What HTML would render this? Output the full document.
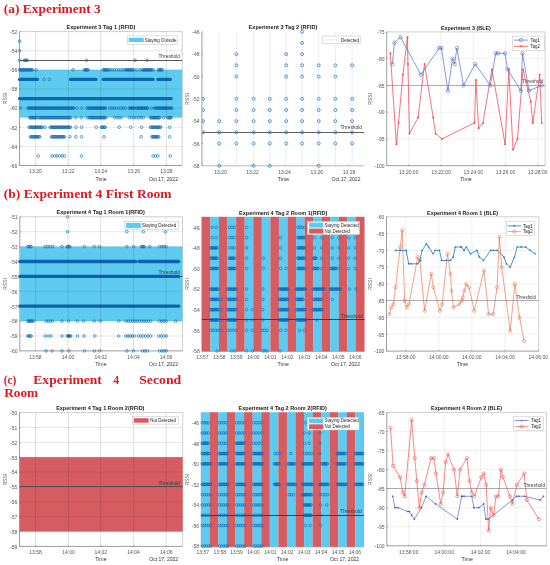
<!DOCTYPE html>
<html><head><meta charset="utf-8"><style>
html,body{margin:0;padding:0;background:#fff;}
svg{display:block;}
</style></head><body>
<svg width="550" height="565" viewBox="0 0 550 565">
<rect x="0" y="0" width="550" height="565" fill="#ffffff"/>
<text x="3.80" y="13.30" font-family="Liberation Serif, serif" font-size="12.6" font-weight="bold" fill="#e2161f" text-anchor="start" textLength="96.90" lengthAdjust="spacingAndGlyphs">(a) Experiment 3</text>
<text x="3.80" y="198.40" font-family="Liberation Serif, serif" font-size="12.6" font-weight="bold" fill="#e2161f" text-anchor="start" textLength="167.80" lengthAdjust="spacingAndGlyphs">(b) Experiment 4 First Room</text>
<text x="3.80" y="383.60" font-family="Liberation Serif, serif" font-size="12.6" font-weight="bold" fill="#e2161f" text-anchor="start" textLength="12.60" lengthAdjust="spacingAndGlyphs">(c)</text>
<text x="33.30" y="383.60" font-family="Liberation Serif, serif" font-size="12.6" font-weight="bold" fill="#e2161f" text-anchor="start" textLength="68.60" lengthAdjust="spacingAndGlyphs">Experiment</text>
<text x="113.30" y="383.60" font-family="Liberation Serif, serif" font-size="12.6" font-weight="bold" fill="#e2161f" text-anchor="start" textLength="5.90" lengthAdjust="spacingAndGlyphs">4</text>
<text x="139.20" y="383.60" font-family="Liberation Serif, serif" font-size="12.6" font-weight="bold" fill="#e2161f" text-anchor="start" textLength="42.10" lengthAdjust="spacingAndGlyphs">Second</text>
<text x="4.20" y="396.70" font-family="Liberation Serif, serif" font-size="12.6" font-weight="bold" fill="#e2161f" text-anchor="start" textLength="34.00" lengthAdjust="spacingAndGlyphs">Room</text>
<line x1="19.50" y1="31.60" x2="182.20" y2="31.60" stroke="#bcbcbc" stroke-width="0.7"/>
<line x1="182.20" y1="31.60" x2="182.20" y2="165.50" stroke="#bcbcbc" stroke-width="0.7"/>
<line x1="19.50" y1="31.60" x2="19.50" y2="165.50" stroke="#858585" stroke-width="0.8"/>
<line x1="19.50" y1="165.50" x2="182.20" y2="165.50" stroke="#858585" stroke-width="0.8"/>
<rect x="19.85" y="69.86" width="162.35" height="47.82" fill="#5dcbf0"/>
<line x1="19.50" y1="60.50" x2="182.20" y2="60.50" stroke="#555555" stroke-width="1.0"/>
<text x="158.40" y="57.90" font-family="Liberation Sans, sans-serif" font-size="5.0" font-weight="normal" fill="#3a3a3a" text-anchor="start" textLength="21.60" lengthAdjust="spacingAndGlyphs">Threshold</text>
<circle cx="19.60" cy="41.16" r="1.35" fill="none" stroke="#0f72bd" stroke-width="0.65"/>
<circle cx="19.60" cy="50.73" r="1.35" fill="none" stroke="#0f72bd" stroke-width="0.65"/>
<circle cx="19.40" cy="60.29" r="1.35" fill="none" stroke="#0f72bd" stroke-width="0.65"/>
<circle cx="24.30" cy="60.29" r="1.35" fill="none" stroke="#0c66b0" stroke-width="0.75"/>
<circle cx="25.65" cy="60.29" r="1.35" fill="none" stroke="#0c66b0" stroke-width="0.75"/>
<circle cx="27.00" cy="60.29" r="1.35" fill="none" stroke="#0c66b0" stroke-width="0.75"/>
<circle cx="86.40" cy="60.29" r="1.35" fill="none" stroke="#0f72bd" stroke-width="0.65"/>
<circle cx="135.10" cy="60.29" r="1.35" fill="none" stroke="#0f72bd" stroke-width="0.65"/>
<circle cx="147.00" cy="60.29" r="1.35" fill="none" stroke="#0f72bd" stroke-width="0.65"/>
<circle cx="19.60" cy="69.86" r="1.35" fill="none" stroke="#0c66b0" stroke-width="0.75"/>
<circle cx="20.75" cy="69.86" r="1.35" fill="none" stroke="#0c66b0" stroke-width="0.75"/>
<circle cx="21.91" cy="69.86" r="1.35" fill="none" stroke="#0c66b0" stroke-width="0.75"/>
<circle cx="23.06" cy="69.86" r="1.35" fill="none" stroke="#0c66b0" stroke-width="0.75"/>
<circle cx="24.22" cy="69.86" r="1.35" fill="none" stroke="#0c66b0" stroke-width="0.75"/>
<circle cx="25.37" cy="69.86" r="1.35" fill="none" stroke="#0c66b0" stroke-width="0.75"/>
<circle cx="26.53" cy="69.86" r="1.35" fill="none" stroke="#0c66b0" stroke-width="0.75"/>
<circle cx="27.68" cy="69.86" r="1.35" fill="none" stroke="#0c66b0" stroke-width="0.75"/>
<circle cx="28.84" cy="69.86" r="1.35" fill="none" stroke="#0c66b0" stroke-width="0.75"/>
<circle cx="29.99" cy="69.86" r="1.35" fill="none" stroke="#0c66b0" stroke-width="0.75"/>
<circle cx="31.15" cy="69.86" r="1.35" fill="none" stroke="#0c66b0" stroke-width="0.75"/>
<circle cx="32.30" cy="69.86" r="1.35" fill="none" stroke="#0c66b0" stroke-width="0.75"/>
<circle cx="36.20" cy="69.86" r="1.35" fill="none" stroke="#0f72bd" stroke-width="0.65"/>
<circle cx="73.00" cy="69.86" r="1.35" fill="none" stroke="#0f72bd" stroke-width="0.65"/>
<circle cx="84.50" cy="69.86" r="1.35" fill="none" stroke="#0c66b0" stroke-width="0.75"/>
<circle cx="85.67" cy="69.86" r="1.35" fill="none" stroke="#0c66b0" stroke-width="0.75"/>
<circle cx="86.83" cy="69.86" r="1.35" fill="none" stroke="#0c66b0" stroke-width="0.75"/>
<circle cx="88.00" cy="69.86" r="1.35" fill="none" stroke="#0c66b0" stroke-width="0.75"/>
<circle cx="103.20" cy="69.86" r="1.35" fill="none" stroke="#0c66b0" stroke-width="0.75"/>
<circle cx="104.42" cy="69.86" r="1.35" fill="none" stroke="#0c66b0" stroke-width="0.75"/>
<circle cx="105.65" cy="69.86" r="1.35" fill="none" stroke="#0c66b0" stroke-width="0.75"/>
<circle cx="106.88" cy="69.86" r="1.35" fill="none" stroke="#0c66b0" stroke-width="0.75"/>
<circle cx="108.10" cy="69.86" r="1.35" fill="none" stroke="#0c66b0" stroke-width="0.75"/>
<circle cx="110.00" cy="69.86" r="1.35" fill="none" stroke="#0f72bd" stroke-width="0.65"/>
<circle cx="112.17" cy="69.86" r="1.35" fill="none" stroke="#0f72bd" stroke-width="0.65"/>
<circle cx="114.33" cy="69.86" r="1.35" fill="none" stroke="#0f72bd" stroke-width="0.65"/>
<circle cx="116.50" cy="69.86" r="1.35" fill="none" stroke="#0f72bd" stroke-width="0.65"/>
<circle cx="118.67" cy="69.86" r="1.35" fill="none" stroke="#0f72bd" stroke-width="0.65"/>
<circle cx="120.83" cy="69.86" r="1.35" fill="none" stroke="#0f72bd" stroke-width="0.65"/>
<circle cx="123.00" cy="69.86" r="1.35" fill="none" stroke="#0f72bd" stroke-width="0.65"/>
<circle cx="125.30" cy="69.86" r="1.35" fill="none" stroke="#0c66b0" stroke-width="0.75"/>
<circle cx="126.52" cy="69.86" r="1.35" fill="none" stroke="#0c66b0" stroke-width="0.75"/>
<circle cx="127.73" cy="69.86" r="1.35" fill="none" stroke="#0c66b0" stroke-width="0.75"/>
<circle cx="128.95" cy="69.86" r="1.35" fill="none" stroke="#0c66b0" stroke-width="0.75"/>
<circle cx="130.17" cy="69.86" r="1.35" fill="none" stroke="#0c66b0" stroke-width="0.75"/>
<circle cx="131.38" cy="69.86" r="1.35" fill="none" stroke="#0c66b0" stroke-width="0.75"/>
<circle cx="132.60" cy="69.86" r="1.35" fill="none" stroke="#0c66b0" stroke-width="0.75"/>
<circle cx="134.30" cy="69.86" r="1.35" fill="none" stroke="#0f72bd" stroke-width="0.65"/>
<circle cx="137.15" cy="69.86" r="1.35" fill="none" stroke="#0f72bd" stroke-width="0.65"/>
<circle cx="140.00" cy="69.86" r="1.35" fill="none" stroke="#0f72bd" stroke-width="0.65"/>
<circle cx="142.50" cy="69.86" r="1.35" fill="none" stroke="#0c66b0" stroke-width="0.75"/>
<circle cx="143.62" cy="69.86" r="1.35" fill="none" stroke="#0c66b0" stroke-width="0.75"/>
<circle cx="144.75" cy="69.86" r="1.35" fill="none" stroke="#0c66b0" stroke-width="0.75"/>
<circle cx="145.88" cy="69.86" r="1.35" fill="none" stroke="#0c66b0" stroke-width="0.75"/>
<circle cx="147.00" cy="69.86" r="1.35" fill="none" stroke="#0c66b0" stroke-width="0.75"/>
<circle cx="148.12" cy="69.86" r="1.35" fill="none" stroke="#0c66b0" stroke-width="0.75"/>
<circle cx="149.25" cy="69.86" r="1.35" fill="none" stroke="#0c66b0" stroke-width="0.75"/>
<circle cx="150.38" cy="69.86" r="1.35" fill="none" stroke="#0c66b0" stroke-width="0.75"/>
<circle cx="151.50" cy="69.86" r="1.35" fill="none" stroke="#0c66b0" stroke-width="0.75"/>
<circle cx="153.10" cy="69.86" r="1.35" fill="none" stroke="#0f72bd" stroke-width="0.65"/>
<circle cx="158.50" cy="69.86" r="1.35" fill="none" stroke="#0c66b0" stroke-width="0.75"/>
<circle cx="159.70" cy="69.86" r="1.35" fill="none" stroke="#0c66b0" stroke-width="0.75"/>
<circle cx="160.90" cy="69.86" r="1.35" fill="none" stroke="#0c66b0" stroke-width="0.75"/>
<circle cx="162.10" cy="69.86" r="1.35" fill="none" stroke="#0c66b0" stroke-width="0.75"/>
<rect x="17.93" y="77.75" width="21.15" height="3.35" rx="1.68" fill="#0c66b0"/>
<circle cx="44.00" cy="79.42" r="1.35" fill="none" stroke="#0f72bd" stroke-width="0.65"/>
<circle cx="49.30" cy="79.42" r="1.35" fill="none" stroke="#0f72bd" stroke-width="0.65"/>
<rect x="68.92" y="77.75" width="28.75" height="3.35" rx="1.68" fill="#0c66b0"/>
<rect x="101.53" y="77.75" width="53.25" height="3.35" rx="1.68" fill="#0c66b0"/>
<rect x="156.33" y="77.75" width="15.65" height="3.35" rx="1.68" fill="#0c66b0"/>
<rect x="17.93" y="96.88" width="154.85" height="3.35" rx="1.68" fill="#0c66b0"/>
<circle cx="20.40" cy="108.11" r="1.35" fill="none" stroke="#0f72bd" stroke-width="0.65"/>
<circle cx="28.10" cy="108.11" r="1.35" fill="none" stroke="#0c66b0" stroke-width="0.75"/>
<circle cx="29.30" cy="108.11" r="1.35" fill="none" stroke="#0c66b0" stroke-width="0.75"/>
<circle cx="30.50" cy="108.11" r="1.35" fill="none" stroke="#0c66b0" stroke-width="0.75"/>
<circle cx="31.70" cy="108.11" r="1.35" fill="none" stroke="#0c66b0" stroke-width="0.75"/>
<circle cx="32.90" cy="108.11" r="1.35" fill="none" stroke="#0c66b0" stroke-width="0.75"/>
<circle cx="34.10" cy="108.11" r="1.35" fill="none" stroke="#0c66b0" stroke-width="0.75"/>
<circle cx="35.30" cy="108.11" r="1.35" fill="none" stroke="#0c66b0" stroke-width="0.75"/>
<circle cx="36.50" cy="108.11" r="1.35" fill="none" stroke="#0c66b0" stroke-width="0.75"/>
<circle cx="37.70" cy="108.11" r="1.35" fill="none" stroke="#0c66b0" stroke-width="0.75"/>
<circle cx="38.90" cy="108.11" r="1.35" fill="none" stroke="#0c66b0" stroke-width="0.75"/>
<circle cx="40.10" cy="108.11" r="1.35" fill="none" stroke="#0c66b0" stroke-width="0.75"/>
<circle cx="41.30" cy="108.11" r="1.35" fill="none" stroke="#0c66b0" stroke-width="0.75"/>
<circle cx="42.50" cy="108.11" r="1.35" fill="none" stroke="#0c66b0" stroke-width="0.75"/>
<circle cx="43.70" cy="108.11" r="1.35" fill="none" stroke="#0c66b0" stroke-width="0.75"/>
<circle cx="44.90" cy="108.11" r="1.35" fill="none" stroke="#0c66b0" stroke-width="0.75"/>
<circle cx="46.10" cy="108.11" r="1.35" fill="none" stroke="#0c66b0" stroke-width="0.75"/>
<circle cx="47.30" cy="108.11" r="1.35" fill="none" stroke="#0c66b0" stroke-width="0.75"/>
<circle cx="48.50" cy="108.11" r="1.35" fill="none" stroke="#0c66b0" stroke-width="0.75"/>
<circle cx="49.70" cy="108.11" r="1.35" fill="none" stroke="#0c66b0" stroke-width="0.75"/>
<circle cx="50.90" cy="108.11" r="1.35" fill="none" stroke="#0c66b0" stroke-width="0.75"/>
<circle cx="52.10" cy="108.11" r="1.35" fill="none" stroke="#0c66b0" stroke-width="0.75"/>
<circle cx="53.30" cy="108.11" r="1.35" fill="none" stroke="#0c66b0" stroke-width="0.75"/>
<circle cx="54.50" cy="108.11" r="1.35" fill="none" stroke="#0c66b0" stroke-width="0.75"/>
<circle cx="55.70" cy="108.11" r="1.35" fill="none" stroke="#0c66b0" stroke-width="0.75"/>
<circle cx="56.90" cy="108.11" r="1.35" fill="none" stroke="#0c66b0" stroke-width="0.75"/>
<circle cx="58.10" cy="108.11" r="1.35" fill="none" stroke="#0c66b0" stroke-width="0.75"/>
<circle cx="59.30" cy="108.11" r="1.35" fill="none" stroke="#0c66b0" stroke-width="0.75"/>
<circle cx="60.50" cy="108.11" r="1.35" fill="none" stroke="#0c66b0" stroke-width="0.75"/>
<circle cx="61.70" cy="108.11" r="1.35" fill="none" stroke="#0c66b0" stroke-width="0.75"/>
<circle cx="62.90" cy="108.11" r="1.35" fill="none" stroke="#0c66b0" stroke-width="0.75"/>
<circle cx="64.10" cy="108.11" r="1.35" fill="none" stroke="#0c66b0" stroke-width="0.75"/>
<circle cx="65.30" cy="108.11" r="1.35" fill="none" stroke="#0c66b0" stroke-width="0.75"/>
<circle cx="66.50" cy="108.11" r="1.35" fill="none" stroke="#0c66b0" stroke-width="0.75"/>
<circle cx="67.70" cy="108.11" r="1.35" fill="none" stroke="#0c66b0" stroke-width="0.75"/>
<circle cx="68.90" cy="108.11" r="1.35" fill="none" stroke="#0c66b0" stroke-width="0.75"/>
<circle cx="70.10" cy="108.11" r="1.35" fill="none" stroke="#0c66b0" stroke-width="0.75"/>
<circle cx="71.30" cy="108.11" r="1.35" fill="none" stroke="#0c66b0" stroke-width="0.75"/>
<circle cx="72.50" cy="108.11" r="1.35" fill="none" stroke="#0c66b0" stroke-width="0.75"/>
<circle cx="73.70" cy="108.11" r="1.35" fill="none" stroke="#0c66b0" stroke-width="0.75"/>
<circle cx="76.80" cy="108.11" r="1.35" fill="none" stroke="#0f72bd" stroke-width="0.65"/>
<circle cx="81.50" cy="108.11" r="1.35" fill="none" stroke="#0f72bd" stroke-width="0.65"/>
<circle cx="86.90" cy="108.11" r="1.35" fill="none" stroke="#0f72bd" stroke-width="0.65"/>
<circle cx="88.40" cy="108.11" r="1.35" fill="none" stroke="#0c66b0" stroke-width="0.75"/>
<circle cx="89.63" cy="108.11" r="1.35" fill="none" stroke="#0c66b0" stroke-width="0.75"/>
<circle cx="90.86" cy="108.11" r="1.35" fill="none" stroke="#0c66b0" stroke-width="0.75"/>
<circle cx="92.09" cy="108.11" r="1.35" fill="none" stroke="#0c66b0" stroke-width="0.75"/>
<circle cx="93.31" cy="108.11" r="1.35" fill="none" stroke="#0c66b0" stroke-width="0.75"/>
<circle cx="94.54" cy="108.11" r="1.35" fill="none" stroke="#0c66b0" stroke-width="0.75"/>
<circle cx="95.77" cy="108.11" r="1.35" fill="none" stroke="#0c66b0" stroke-width="0.75"/>
<circle cx="97.00" cy="108.11" r="1.35" fill="none" stroke="#0c66b0" stroke-width="0.75"/>
<circle cx="98.23" cy="108.11" r="1.35" fill="none" stroke="#0c66b0" stroke-width="0.75"/>
<circle cx="99.46" cy="108.11" r="1.35" fill="none" stroke="#0c66b0" stroke-width="0.75"/>
<circle cx="100.69" cy="108.11" r="1.35" fill="none" stroke="#0c66b0" stroke-width="0.75"/>
<circle cx="101.91" cy="108.11" r="1.35" fill="none" stroke="#0c66b0" stroke-width="0.75"/>
<circle cx="103.14" cy="108.11" r="1.35" fill="none" stroke="#0c66b0" stroke-width="0.75"/>
<circle cx="104.37" cy="108.11" r="1.35" fill="none" stroke="#0c66b0" stroke-width="0.75"/>
<circle cx="105.60" cy="108.11" r="1.35" fill="none" stroke="#0c66b0" stroke-width="0.75"/>
<circle cx="109.70" cy="108.11" r="1.35" fill="none" stroke="#0f72bd" stroke-width="0.65"/>
<circle cx="111.93" cy="108.11" r="1.35" fill="none" stroke="#0f72bd" stroke-width="0.65"/>
<circle cx="114.16" cy="108.11" r="1.35" fill="none" stroke="#0f72bd" stroke-width="0.65"/>
<circle cx="116.39" cy="108.11" r="1.35" fill="none" stroke="#0f72bd" stroke-width="0.65"/>
<circle cx="118.61" cy="108.11" r="1.35" fill="none" stroke="#0f72bd" stroke-width="0.65"/>
<circle cx="120.84" cy="108.11" r="1.35" fill="none" stroke="#0f72bd" stroke-width="0.65"/>
<circle cx="123.07" cy="108.11" r="1.35" fill="none" stroke="#0f72bd" stroke-width="0.65"/>
<circle cx="125.30" cy="108.11" r="1.35" fill="none" stroke="#0f72bd" stroke-width="0.65"/>
<circle cx="129.40" cy="108.11" r="1.35" fill="none" stroke="#0c66b0" stroke-width="0.75"/>
<circle cx="130.62" cy="108.11" r="1.35" fill="none" stroke="#0c66b0" stroke-width="0.75"/>
<circle cx="131.85" cy="108.11" r="1.35" fill="none" stroke="#0c66b0" stroke-width="0.75"/>
<circle cx="133.08" cy="108.11" r="1.35" fill="none" stroke="#0c66b0" stroke-width="0.75"/>
<circle cx="134.30" cy="108.11" r="1.35" fill="none" stroke="#0c66b0" stroke-width="0.75"/>
<circle cx="136.70" cy="108.11" r="1.35" fill="none" stroke="#0c66b0" stroke-width="0.75"/>
<circle cx="137.89" cy="108.11" r="1.35" fill="none" stroke="#0c66b0" stroke-width="0.75"/>
<circle cx="139.08" cy="108.11" r="1.35" fill="none" stroke="#0c66b0" stroke-width="0.75"/>
<circle cx="140.27" cy="108.11" r="1.35" fill="none" stroke="#0c66b0" stroke-width="0.75"/>
<circle cx="141.46" cy="108.11" r="1.35" fill="none" stroke="#0c66b0" stroke-width="0.75"/>
<circle cx="142.64" cy="108.11" r="1.35" fill="none" stroke="#0c66b0" stroke-width="0.75"/>
<circle cx="143.83" cy="108.11" r="1.35" fill="none" stroke="#0c66b0" stroke-width="0.75"/>
<circle cx="145.02" cy="108.11" r="1.35" fill="none" stroke="#0c66b0" stroke-width="0.75"/>
<circle cx="146.21" cy="108.11" r="1.35" fill="none" stroke="#0c66b0" stroke-width="0.75"/>
<circle cx="147.40" cy="108.11" r="1.35" fill="none" stroke="#0c66b0" stroke-width="0.75"/>
<circle cx="151.50" cy="108.11" r="1.35" fill="none" stroke="#0f72bd" stroke-width="0.65"/>
<circle cx="154.70" cy="108.11" r="1.35" fill="none" stroke="#0c66b0" stroke-width="0.75"/>
<circle cx="155.93" cy="108.11" r="1.35" fill="none" stroke="#0c66b0" stroke-width="0.75"/>
<circle cx="157.16" cy="108.11" r="1.35" fill="none" stroke="#0c66b0" stroke-width="0.75"/>
<circle cx="158.39" cy="108.11" r="1.35" fill="none" stroke="#0c66b0" stroke-width="0.75"/>
<circle cx="159.61" cy="108.11" r="1.35" fill="none" stroke="#0c66b0" stroke-width="0.75"/>
<circle cx="160.84" cy="108.11" r="1.35" fill="none" stroke="#0c66b0" stroke-width="0.75"/>
<circle cx="162.07" cy="108.11" r="1.35" fill="none" stroke="#0c66b0" stroke-width="0.75"/>
<circle cx="163.30" cy="108.11" r="1.35" fill="none" stroke="#0c66b0" stroke-width="0.75"/>
<circle cx="164.53" cy="108.11" r="1.35" fill="none" stroke="#0c66b0" stroke-width="0.75"/>
<circle cx="165.76" cy="108.11" r="1.35" fill="none" stroke="#0c66b0" stroke-width="0.75"/>
<circle cx="166.99" cy="108.11" r="1.35" fill="none" stroke="#0c66b0" stroke-width="0.75"/>
<circle cx="168.21" cy="108.11" r="1.35" fill="none" stroke="#0c66b0" stroke-width="0.75"/>
<circle cx="169.44" cy="108.11" r="1.35" fill="none" stroke="#0c66b0" stroke-width="0.75"/>
<circle cx="170.67" cy="108.11" r="1.35" fill="none" stroke="#0c66b0" stroke-width="0.75"/>
<circle cx="171.90" cy="108.11" r="1.35" fill="none" stroke="#0c66b0" stroke-width="0.75"/>
<circle cx="29.70" cy="117.68" r="1.35" fill="none" stroke="#0c66b0" stroke-width="0.75"/>
<circle cx="30.85" cy="117.68" r="1.35" fill="none" stroke="#0c66b0" stroke-width="0.75"/>
<circle cx="32.00" cy="117.68" r="1.35" fill="none" stroke="#0c66b0" stroke-width="0.75"/>
<circle cx="33.15" cy="117.68" r="1.35" fill="none" stroke="#0c66b0" stroke-width="0.75"/>
<circle cx="34.30" cy="117.68" r="1.35" fill="none" stroke="#0c66b0" stroke-width="0.75"/>
<circle cx="35.45" cy="117.68" r="1.35" fill="none" stroke="#0c66b0" stroke-width="0.75"/>
<circle cx="36.60" cy="117.68" r="1.35" fill="none" stroke="#0c66b0" stroke-width="0.75"/>
<circle cx="39.00" cy="117.68" r="1.35" fill="none" stroke="#0c66b0" stroke-width="0.75"/>
<circle cx="40.22" cy="117.68" r="1.35" fill="none" stroke="#0c66b0" stroke-width="0.75"/>
<circle cx="41.43" cy="117.68" r="1.35" fill="none" stroke="#0c66b0" stroke-width="0.75"/>
<circle cx="42.65" cy="117.68" r="1.35" fill="none" stroke="#0c66b0" stroke-width="0.75"/>
<circle cx="43.86" cy="117.68" r="1.35" fill="none" stroke="#0c66b0" stroke-width="0.75"/>
<circle cx="45.08" cy="117.68" r="1.35" fill="none" stroke="#0c66b0" stroke-width="0.75"/>
<circle cx="46.29" cy="117.68" r="1.35" fill="none" stroke="#0c66b0" stroke-width="0.75"/>
<circle cx="47.51" cy="117.68" r="1.35" fill="none" stroke="#0c66b0" stroke-width="0.75"/>
<circle cx="48.72" cy="117.68" r="1.35" fill="none" stroke="#0c66b0" stroke-width="0.75"/>
<circle cx="49.94" cy="117.68" r="1.35" fill="none" stroke="#0c66b0" stroke-width="0.75"/>
<circle cx="51.15" cy="117.68" r="1.35" fill="none" stroke="#0c66b0" stroke-width="0.75"/>
<circle cx="52.37" cy="117.68" r="1.35" fill="none" stroke="#0c66b0" stroke-width="0.75"/>
<circle cx="53.58" cy="117.68" r="1.35" fill="none" stroke="#0c66b0" stroke-width="0.75"/>
<circle cx="54.80" cy="117.68" r="1.35" fill="none" stroke="#0c66b0" stroke-width="0.75"/>
<circle cx="56.02" cy="117.68" r="1.35" fill="none" stroke="#0c66b0" stroke-width="0.75"/>
<circle cx="57.23" cy="117.68" r="1.35" fill="none" stroke="#0c66b0" stroke-width="0.75"/>
<circle cx="58.45" cy="117.68" r="1.35" fill="none" stroke="#0c66b0" stroke-width="0.75"/>
<circle cx="59.66" cy="117.68" r="1.35" fill="none" stroke="#0c66b0" stroke-width="0.75"/>
<circle cx="60.88" cy="117.68" r="1.35" fill="none" stroke="#0c66b0" stroke-width="0.75"/>
<circle cx="62.09" cy="117.68" r="1.35" fill="none" stroke="#0c66b0" stroke-width="0.75"/>
<circle cx="63.31" cy="117.68" r="1.35" fill="none" stroke="#0c66b0" stroke-width="0.75"/>
<circle cx="64.52" cy="117.68" r="1.35" fill="none" stroke="#0c66b0" stroke-width="0.75"/>
<circle cx="65.74" cy="117.68" r="1.35" fill="none" stroke="#0c66b0" stroke-width="0.75"/>
<circle cx="66.95" cy="117.68" r="1.35" fill="none" stroke="#0c66b0" stroke-width="0.75"/>
<circle cx="68.17" cy="117.68" r="1.35" fill="none" stroke="#0c66b0" stroke-width="0.75"/>
<circle cx="69.38" cy="117.68" r="1.35" fill="none" stroke="#0c66b0" stroke-width="0.75"/>
<circle cx="70.60" cy="117.68" r="1.35" fill="none" stroke="#0c66b0" stroke-width="0.75"/>
<circle cx="75.70" cy="117.68" r="1.35" fill="none" stroke="#0f72bd" stroke-width="0.65"/>
<circle cx="81.20" cy="117.68" r="1.35" fill="none" stroke="#0f72bd" stroke-width="0.65"/>
<circle cx="87.30" cy="117.68" r="1.35" fill="none" stroke="#0f72bd" stroke-width="0.65"/>
<circle cx="89.20" cy="117.68" r="1.35" fill="none" stroke="#0c66b0" stroke-width="0.75"/>
<circle cx="90.37" cy="117.68" r="1.35" fill="none" stroke="#0c66b0" stroke-width="0.75"/>
<circle cx="91.54" cy="117.68" r="1.35" fill="none" stroke="#0c66b0" stroke-width="0.75"/>
<circle cx="92.71" cy="117.68" r="1.35" fill="none" stroke="#0c66b0" stroke-width="0.75"/>
<circle cx="93.89" cy="117.68" r="1.35" fill="none" stroke="#0c66b0" stroke-width="0.75"/>
<circle cx="95.06" cy="117.68" r="1.35" fill="none" stroke="#0c66b0" stroke-width="0.75"/>
<circle cx="96.23" cy="117.68" r="1.35" fill="none" stroke="#0c66b0" stroke-width="0.75"/>
<circle cx="97.40" cy="117.68" r="1.35" fill="none" stroke="#0c66b0" stroke-width="0.75"/>
<circle cx="98.57" cy="117.68" r="1.35" fill="none" stroke="#0c66b0" stroke-width="0.75"/>
<circle cx="99.74" cy="117.68" r="1.35" fill="none" stroke="#0c66b0" stroke-width="0.75"/>
<circle cx="100.91" cy="117.68" r="1.35" fill="none" stroke="#0c66b0" stroke-width="0.75"/>
<circle cx="102.09" cy="117.68" r="1.35" fill="none" stroke="#0c66b0" stroke-width="0.75"/>
<circle cx="103.26" cy="117.68" r="1.35" fill="none" stroke="#0c66b0" stroke-width="0.75"/>
<circle cx="104.43" cy="117.68" r="1.35" fill="none" stroke="#0c66b0" stroke-width="0.75"/>
<circle cx="105.60" cy="117.68" r="1.35" fill="none" stroke="#0c66b0" stroke-width="0.75"/>
<circle cx="114.60" cy="117.68" r="1.35" fill="none" stroke="#0f72bd" stroke-width="0.65"/>
<circle cx="116.80" cy="117.68" r="1.35" fill="none" stroke="#0f72bd" stroke-width="0.65"/>
<circle cx="119.00" cy="117.68" r="1.35" fill="none" stroke="#0f72bd" stroke-width="0.65"/>
<circle cx="121.20" cy="117.68" r="1.35" fill="none" stroke="#0f72bd" stroke-width="0.65"/>
<circle cx="129.40" cy="117.68" r="1.35" fill="none" stroke="#0f72bd" stroke-width="0.65"/>
<circle cx="131.72" cy="117.68" r="1.35" fill="none" stroke="#0f72bd" stroke-width="0.65"/>
<circle cx="134.03" cy="117.68" r="1.35" fill="none" stroke="#0f72bd" stroke-width="0.65"/>
<circle cx="136.35" cy="117.68" r="1.35" fill="none" stroke="#0f72bd" stroke-width="0.65"/>
<circle cx="138.67" cy="117.68" r="1.35" fill="none" stroke="#0f72bd" stroke-width="0.65"/>
<circle cx="140.98" cy="117.68" r="1.35" fill="none" stroke="#0f72bd" stroke-width="0.65"/>
<circle cx="143.30" cy="117.68" r="1.35" fill="none" stroke="#0f72bd" stroke-width="0.65"/>
<circle cx="150.60" cy="117.68" r="1.35" fill="none" stroke="#0c66b0" stroke-width="0.75"/>
<circle cx="151.72" cy="117.68" r="1.35" fill="none" stroke="#0c66b0" stroke-width="0.75"/>
<circle cx="152.85" cy="117.68" r="1.35" fill="none" stroke="#0c66b0" stroke-width="0.75"/>
<circle cx="153.97" cy="117.68" r="1.35" fill="none" stroke="#0c66b0" stroke-width="0.75"/>
<circle cx="155.10" cy="117.68" r="1.35" fill="none" stroke="#0c66b0" stroke-width="0.75"/>
<circle cx="156.22" cy="117.68" r="1.35" fill="none" stroke="#0c66b0" stroke-width="0.75"/>
<circle cx="157.35" cy="117.68" r="1.35" fill="none" stroke="#0c66b0" stroke-width="0.75"/>
<circle cx="158.47" cy="117.68" r="1.35" fill="none" stroke="#0c66b0" stroke-width="0.75"/>
<circle cx="159.60" cy="117.68" r="1.35" fill="none" stroke="#0c66b0" stroke-width="0.75"/>
<circle cx="163.70" cy="117.68" r="1.35" fill="none" stroke="#0f72bd" stroke-width="0.65"/>
<circle cx="167.80" cy="117.68" r="1.35" fill="none" stroke="#0c66b0" stroke-width="0.75"/>
<circle cx="168.90" cy="117.68" r="1.35" fill="none" stroke="#0c66b0" stroke-width="0.75"/>
<circle cx="170.00" cy="117.68" r="1.35" fill="none" stroke="#0c66b0" stroke-width="0.75"/>
<circle cx="171.10" cy="117.68" r="1.35" fill="none" stroke="#0c66b0" stroke-width="0.75"/>
<circle cx="29.30" cy="127.24" r="1.35" fill="none" stroke="#0c66b0" stroke-width="0.75"/>
<circle cx="30.48" cy="127.24" r="1.35" fill="none" stroke="#0c66b0" stroke-width="0.75"/>
<circle cx="31.66" cy="127.24" r="1.35" fill="none" stroke="#0c66b0" stroke-width="0.75"/>
<circle cx="32.85" cy="127.24" r="1.35" fill="none" stroke="#0c66b0" stroke-width="0.75"/>
<circle cx="34.03" cy="127.24" r="1.35" fill="none" stroke="#0c66b0" stroke-width="0.75"/>
<circle cx="35.21" cy="127.24" r="1.35" fill="none" stroke="#0c66b0" stroke-width="0.75"/>
<circle cx="36.39" cy="127.24" r="1.35" fill="none" stroke="#0c66b0" stroke-width="0.75"/>
<circle cx="37.57" cy="127.24" r="1.35" fill="none" stroke="#0c66b0" stroke-width="0.75"/>
<circle cx="38.75" cy="127.24" r="1.35" fill="none" stroke="#0c66b0" stroke-width="0.75"/>
<circle cx="39.94" cy="127.24" r="1.35" fill="none" stroke="#0c66b0" stroke-width="0.75"/>
<circle cx="41.12" cy="127.24" r="1.35" fill="none" stroke="#0c66b0" stroke-width="0.75"/>
<circle cx="42.30" cy="127.24" r="1.35" fill="none" stroke="#0c66b0" stroke-width="0.75"/>
<circle cx="45.00" cy="127.24" r="1.35" fill="none" stroke="#0f72bd" stroke-width="0.65"/>
<circle cx="50.30" cy="127.24" r="1.35" fill="none" stroke="#0c66b0" stroke-width="0.75"/>
<circle cx="51.48" cy="127.24" r="1.35" fill="none" stroke="#0c66b0" stroke-width="0.75"/>
<circle cx="52.65" cy="127.24" r="1.35" fill="none" stroke="#0c66b0" stroke-width="0.75"/>
<circle cx="53.83" cy="127.24" r="1.35" fill="none" stroke="#0c66b0" stroke-width="0.75"/>
<circle cx="55.01" cy="127.24" r="1.35" fill="none" stroke="#0c66b0" stroke-width="0.75"/>
<circle cx="56.18" cy="127.24" r="1.35" fill="none" stroke="#0c66b0" stroke-width="0.75"/>
<circle cx="57.36" cy="127.24" r="1.35" fill="none" stroke="#0c66b0" stroke-width="0.75"/>
<circle cx="58.54" cy="127.24" r="1.35" fill="none" stroke="#0c66b0" stroke-width="0.75"/>
<circle cx="59.71" cy="127.24" r="1.35" fill="none" stroke="#0c66b0" stroke-width="0.75"/>
<circle cx="60.89" cy="127.24" r="1.35" fill="none" stroke="#0c66b0" stroke-width="0.75"/>
<circle cx="62.06" cy="127.24" r="1.35" fill="none" stroke="#0c66b0" stroke-width="0.75"/>
<circle cx="63.24" cy="127.24" r="1.35" fill="none" stroke="#0c66b0" stroke-width="0.75"/>
<circle cx="64.42" cy="127.24" r="1.35" fill="none" stroke="#0c66b0" stroke-width="0.75"/>
<circle cx="65.59" cy="127.24" r="1.35" fill="none" stroke="#0c66b0" stroke-width="0.75"/>
<circle cx="66.77" cy="127.24" r="1.35" fill="none" stroke="#0c66b0" stroke-width="0.75"/>
<circle cx="67.95" cy="127.24" r="1.35" fill="none" stroke="#0c66b0" stroke-width="0.75"/>
<circle cx="69.12" cy="127.24" r="1.35" fill="none" stroke="#0c66b0" stroke-width="0.75"/>
<circle cx="70.30" cy="127.24" r="1.35" fill="none" stroke="#0c66b0" stroke-width="0.75"/>
<circle cx="75.90" cy="127.24" r="1.35" fill="none" stroke="#0f72bd" stroke-width="0.65"/>
<circle cx="81.50" cy="127.24" r="1.35" fill="none" stroke="#0f72bd" stroke-width="0.65"/>
<circle cx="96.30" cy="127.24" r="1.35" fill="none" stroke="#0f72bd" stroke-width="0.65"/>
<circle cx="101.50" cy="127.24" r="1.35" fill="none" stroke="#0c66b0" stroke-width="0.75"/>
<circle cx="102.70" cy="127.24" r="1.35" fill="none" stroke="#0c66b0" stroke-width="0.75"/>
<circle cx="103.90" cy="127.24" r="1.35" fill="none" stroke="#0c66b0" stroke-width="0.75"/>
<circle cx="105.10" cy="127.24" r="1.35" fill="none" stroke="#0c66b0" stroke-width="0.75"/>
<circle cx="119.20" cy="127.24" r="1.35" fill="none" stroke="#0f72bd" stroke-width="0.65"/>
<circle cx="130.70" cy="127.24" r="1.35" fill="none" stroke="#0f72bd" stroke-width="0.65"/>
<circle cx="141.60" cy="127.24" r="1.35" fill="none" stroke="#0f72bd" stroke-width="0.65"/>
<circle cx="150.60" cy="127.24" r="1.35" fill="none" stroke="#0c66b0" stroke-width="0.75"/>
<circle cx="151.84" cy="127.24" r="1.35" fill="none" stroke="#0c66b0" stroke-width="0.75"/>
<circle cx="153.07" cy="127.24" r="1.35" fill="none" stroke="#0c66b0" stroke-width="0.75"/>
<circle cx="154.31" cy="127.24" r="1.35" fill="none" stroke="#0c66b0" stroke-width="0.75"/>
<circle cx="155.55" cy="127.24" r="1.35" fill="none" stroke="#0c66b0" stroke-width="0.75"/>
<circle cx="156.79" cy="127.24" r="1.35" fill="none" stroke="#0c66b0" stroke-width="0.75"/>
<circle cx="158.03" cy="127.24" r="1.35" fill="none" stroke="#0c66b0" stroke-width="0.75"/>
<circle cx="159.26" cy="127.24" r="1.35" fill="none" stroke="#0c66b0" stroke-width="0.75"/>
<circle cx="160.50" cy="127.24" r="1.35" fill="none" stroke="#0c66b0" stroke-width="0.75"/>
<circle cx="169.60" cy="127.24" r="1.35" fill="none" stroke="#0f72bd" stroke-width="0.65"/>
<circle cx="30.50" cy="136.81" r="1.35" fill="none" stroke="#0c66b0" stroke-width="0.75"/>
<circle cx="31.65" cy="136.81" r="1.35" fill="none" stroke="#0c66b0" stroke-width="0.75"/>
<circle cx="32.80" cy="136.81" r="1.35" fill="none" stroke="#0c66b0" stroke-width="0.75"/>
<circle cx="33.95" cy="136.81" r="1.35" fill="none" stroke="#0c66b0" stroke-width="0.75"/>
<circle cx="35.10" cy="136.81" r="1.35" fill="none" stroke="#0c66b0" stroke-width="0.75"/>
<circle cx="36.25" cy="136.81" r="1.35" fill="none" stroke="#0c66b0" stroke-width="0.75"/>
<circle cx="37.40" cy="136.81" r="1.35" fill="none" stroke="#0c66b0" stroke-width="0.75"/>
<circle cx="38.55" cy="136.81" r="1.35" fill="none" stroke="#0c66b0" stroke-width="0.75"/>
<circle cx="39.70" cy="136.81" r="1.35" fill="none" stroke="#0c66b0" stroke-width="0.75"/>
<circle cx="51.50" cy="136.81" r="1.35" fill="none" stroke="#0c66b0" stroke-width="0.75"/>
<circle cx="52.68" cy="136.81" r="1.35" fill="none" stroke="#0c66b0" stroke-width="0.75"/>
<circle cx="53.86" cy="136.81" r="1.35" fill="none" stroke="#0c66b0" stroke-width="0.75"/>
<circle cx="55.05" cy="136.81" r="1.35" fill="none" stroke="#0c66b0" stroke-width="0.75"/>
<circle cx="56.23" cy="136.81" r="1.35" fill="none" stroke="#0c66b0" stroke-width="0.75"/>
<circle cx="57.41" cy="136.81" r="1.35" fill="none" stroke="#0c66b0" stroke-width="0.75"/>
<circle cx="58.59" cy="136.81" r="1.35" fill="none" stroke="#0c66b0" stroke-width="0.75"/>
<circle cx="59.77" cy="136.81" r="1.35" fill="none" stroke="#0c66b0" stroke-width="0.75"/>
<circle cx="60.95" cy="136.81" r="1.35" fill="none" stroke="#0c66b0" stroke-width="0.75"/>
<circle cx="62.14" cy="136.81" r="1.35" fill="none" stroke="#0c66b0" stroke-width="0.75"/>
<circle cx="63.32" cy="136.81" r="1.35" fill="none" stroke="#0c66b0" stroke-width="0.75"/>
<circle cx="64.50" cy="136.81" r="1.35" fill="none" stroke="#0c66b0" stroke-width="0.75"/>
<circle cx="70.00" cy="136.81" r="1.35" fill="none" stroke="#0f72bd" stroke-width="0.65"/>
<circle cx="75.90" cy="136.81" r="1.35" fill="none" stroke="#0f72bd" stroke-width="0.65"/>
<circle cx="81.50" cy="136.81" r="1.35" fill="none" stroke="#0f72bd" stroke-width="0.65"/>
<circle cx="104.00" cy="136.81" r="1.35" fill="none" stroke="#0f72bd" stroke-width="0.65"/>
<circle cx="141.10" cy="136.81" r="1.35" fill="none" stroke="#0f72bd" stroke-width="0.65"/>
<circle cx="152.00" cy="136.81" r="1.35" fill="none" stroke="#0c66b0" stroke-width="0.75"/>
<circle cx="153.12" cy="136.81" r="1.35" fill="none" stroke="#0c66b0" stroke-width="0.75"/>
<circle cx="154.23" cy="136.81" r="1.35" fill="none" stroke="#0c66b0" stroke-width="0.75"/>
<circle cx="155.35" cy="136.81" r="1.35" fill="none" stroke="#0c66b0" stroke-width="0.75"/>
<circle cx="156.47" cy="136.81" r="1.35" fill="none" stroke="#0c66b0" stroke-width="0.75"/>
<circle cx="157.58" cy="136.81" r="1.35" fill="none" stroke="#0c66b0" stroke-width="0.75"/>
<circle cx="158.70" cy="136.81" r="1.35" fill="none" stroke="#0c66b0" stroke-width="0.75"/>
<circle cx="169.60" cy="136.81" r="1.35" fill="none" stroke="#0f72bd" stroke-width="0.65"/>
<circle cx="38.20" cy="155.94" r="1.35" fill="none" stroke="#0f72bd" stroke-width="0.65"/>
<circle cx="52.10" cy="155.94" r="1.35" fill="none" stroke="#0f72bd" stroke-width="0.65"/>
<circle cx="54.58" cy="155.94" r="1.35" fill="none" stroke="#0f72bd" stroke-width="0.65"/>
<circle cx="57.06" cy="155.94" r="1.35" fill="none" stroke="#0f72bd" stroke-width="0.65"/>
<circle cx="59.54" cy="155.94" r="1.35" fill="none" stroke="#0f72bd" stroke-width="0.65"/>
<circle cx="62.02" cy="155.94" r="1.35" fill="none" stroke="#0f72bd" stroke-width="0.65"/>
<circle cx="64.50" cy="155.94" r="1.35" fill="none" stroke="#0f72bd" stroke-width="0.65"/>
<circle cx="81.50" cy="155.94" r="1.35" fill="none" stroke="#0f72bd" stroke-width="0.65"/>
<circle cx="153.20" cy="155.94" r="1.35" fill="none" stroke="#0f72bd" stroke-width="0.65"/>
<circle cx="155.50" cy="155.94" r="1.35" fill="none" stroke="#0f72bd" stroke-width="0.65"/>
<circle cx="157.80" cy="155.94" r="1.35" fill="none" stroke="#0f72bd" stroke-width="0.65"/>
<circle cx="170.20" cy="155.94" r="1.35" fill="none" stroke="#0f72bd" stroke-width="0.65"/>
<line x1="19.50" y1="50.73" x2="182.20" y2="50.73" stroke="#262626" stroke-width="0.7" stroke-opacity="0.16"/>
<line x1="19.50" y1="69.86" x2="182.20" y2="69.86" stroke="#262626" stroke-width="0.7" stroke-opacity="0.16"/>
<line x1="19.50" y1="88.99" x2="182.20" y2="88.99" stroke="#262626" stroke-width="0.7" stroke-opacity="0.16"/>
<line x1="19.50" y1="108.11" x2="182.20" y2="108.11" stroke="#262626" stroke-width="0.7" stroke-opacity="0.16"/>
<line x1="19.50" y1="127.24" x2="182.20" y2="127.24" stroke="#262626" stroke-width="0.7" stroke-opacity="0.16"/>
<line x1="19.50" y1="146.37" x2="182.20" y2="146.37" stroke="#262626" stroke-width="0.7" stroke-opacity="0.16"/>
<line x1="35.60" y1="31.60" x2="35.60" y2="165.50" stroke="#262626" stroke-width="0.7" stroke-opacity="0.2"/>
<line x1="68.30" y1="31.60" x2="68.30" y2="165.50" stroke="#262626" stroke-width="0.7" stroke-opacity="0.2"/>
<line x1="100.80" y1="31.60" x2="100.80" y2="165.50" stroke="#262626" stroke-width="0.7" stroke-opacity="0.2"/>
<line x1="133.70" y1="31.60" x2="133.70" y2="165.50" stroke="#262626" stroke-width="0.7" stroke-opacity="0.2"/>
<line x1="166.40" y1="31.60" x2="166.40" y2="165.50" stroke="#262626" stroke-width="0.7" stroke-opacity="0.2"/>
<line x1="35.60" y1="165.50" x2="35.60" y2="164.30" stroke="#5a5a5a" stroke-width="0.4"/>
<line x1="68.30" y1="165.50" x2="68.30" y2="164.30" stroke="#5a5a5a" stroke-width="0.4"/>
<line x1="100.80" y1="165.50" x2="100.80" y2="164.30" stroke="#5a5a5a" stroke-width="0.4"/>
<line x1="133.70" y1="165.50" x2="133.70" y2="164.30" stroke="#5a5a5a" stroke-width="0.4"/>
<line x1="166.40" y1="165.50" x2="166.40" y2="164.30" stroke="#5a5a5a" stroke-width="0.4"/>
<line x1="19.50" y1="31.60" x2="20.70" y2="31.60" stroke="#5a5a5a" stroke-width="0.4"/>
<line x1="19.50" y1="50.73" x2="20.70" y2="50.73" stroke="#5a5a5a" stroke-width="0.4"/>
<line x1="19.50" y1="69.86" x2="20.70" y2="69.86" stroke="#5a5a5a" stroke-width="0.4"/>
<line x1="19.50" y1="88.99" x2="20.70" y2="88.99" stroke="#5a5a5a" stroke-width="0.4"/>
<line x1="19.50" y1="108.11" x2="20.70" y2="108.11" stroke="#5a5a5a" stroke-width="0.4"/>
<line x1="19.50" y1="127.24" x2="20.70" y2="127.24" stroke="#5a5a5a" stroke-width="0.4"/>
<line x1="19.50" y1="146.37" x2="20.70" y2="146.37" stroke="#5a5a5a" stroke-width="0.4"/>
<line x1="19.50" y1="165.50" x2="20.70" y2="165.50" stroke="#5a5a5a" stroke-width="0.4"/>
<text x="17.30" y="33.90" font-family="Liberation Sans, sans-serif" font-size="5.0" font-weight="normal" fill="#555555" text-anchor="end">-52</text>
<text x="17.30" y="53.03" font-family="Liberation Sans, sans-serif" font-size="5.0" font-weight="normal" fill="#555555" text-anchor="end">-54</text>
<text x="17.30" y="72.16" font-family="Liberation Sans, sans-serif" font-size="5.0" font-weight="normal" fill="#555555" text-anchor="end">-56</text>
<text x="17.30" y="91.29" font-family="Liberation Sans, sans-serif" font-size="5.0" font-weight="normal" fill="#555555" text-anchor="end">-58</text>
<text x="17.30" y="110.41" font-family="Liberation Sans, sans-serif" font-size="5.0" font-weight="normal" fill="#555555" text-anchor="end">-60</text>
<text x="17.30" y="129.54" font-family="Liberation Sans, sans-serif" font-size="5.0" font-weight="normal" fill="#555555" text-anchor="end">-62</text>
<text x="17.30" y="148.67" font-family="Liberation Sans, sans-serif" font-size="5.0" font-weight="normal" fill="#555555" text-anchor="end">-64</text>
<text x="17.30" y="167.80" font-family="Liberation Sans, sans-serif" font-size="5.0" font-weight="normal" fill="#555555" text-anchor="end">-66</text>
<text x="35.60" y="173.40" font-family="Liberation Sans, sans-serif" font-size="5.0" font-weight="normal" fill="#555555" text-anchor="middle">13:20</text>
<text x="68.30" y="173.40" font-family="Liberation Sans, sans-serif" font-size="5.0" font-weight="normal" fill="#555555" text-anchor="middle">13:22</text>
<text x="100.80" y="173.40" font-family="Liberation Sans, sans-serif" font-size="5.0" font-weight="normal" fill="#555555" text-anchor="middle">13:24</text>
<text x="133.70" y="173.40" font-family="Liberation Sans, sans-serif" font-size="5.0" font-weight="normal" fill="#555555" text-anchor="middle">13:26</text>
<text x="166.40" y="173.40" font-family="Liberation Sans, sans-serif" font-size="5.0" font-weight="normal" fill="#555555" text-anchor="middle">13:28</text>
<text x="100.90" y="29.00" font-family="Liberation Sans, sans-serif" font-size="5.5" font-weight="bold" fill="#1a1a1a" text-anchor="middle" textLength="68.80" lengthAdjust="spacingAndGlyphs">Experiment 3 Tag 1 (RFID)</text>
<text x="7.10" y="98.35" font-family="Liberation Sans, sans-serif" font-size="5.0" font-weight="normal" fill="#555555" text-anchor="middle" transform="rotate(-90 7.10 98.35)">RSSI</text>
<text x="101.10" y="180.50" font-family="Liberation Sans, sans-serif" font-size="5.2" font-weight="normal" fill="#333333" text-anchor="middle">Time</text>
<text x="178.00" y="180.50" font-family="Liberation Sans, sans-serif" font-size="5.0" font-weight="normal" fill="#333333" text-anchor="end" textLength="29.00" lengthAdjust="spacingAndGlyphs">Oct 17, 2022</text>
<rect x="127.50" y="35.90" width="50.30" height="8.60" fill="#ffffff" stroke="#bdbdbd" stroke-width="0.5"/>
<rect x="128.70" y="37.70" width="15.10" height="4.30" fill="#5dcbf0"/>
<text x="144.80" y="41.60" font-family="Liberation Sans, sans-serif" font-size="4.5" font-weight="normal" fill="#222" text-anchor="start" textLength="31.60" lengthAdjust="spacingAndGlyphs">Staying Outside</text>
<line x1="203.00" y1="31.80" x2="203.00" y2="165.80" stroke="#dfe3f3" stroke-width="0.7"/>
<line x1="219.20" y1="31.80" x2="219.20" y2="165.80" stroke="#dfe3f3" stroke-width="0.7"/>
<line x1="236.40" y1="31.80" x2="236.40" y2="165.80" stroke="#dfe3f3" stroke-width="0.7"/>
<line x1="253.60" y1="31.80" x2="253.60" y2="165.80" stroke="#dfe3f3" stroke-width="0.7"/>
<line x1="269.80" y1="31.80" x2="269.80" y2="165.80" stroke="#dfe3f3" stroke-width="0.7"/>
<line x1="286.20" y1="31.80" x2="286.20" y2="165.80" stroke="#dfe3f3" stroke-width="0.7"/>
<line x1="302.10" y1="31.80" x2="302.10" y2="165.80" stroke="#dfe3f3" stroke-width="0.7"/>
<line x1="318.70" y1="31.80" x2="318.70" y2="165.80" stroke="#dfe3f3" stroke-width="0.7"/>
<line x1="335.40" y1="31.80" x2="335.40" y2="165.80" stroke="#dfe3f3" stroke-width="0.7"/>
<line x1="352.10" y1="31.80" x2="352.10" y2="165.80" stroke="#dfe3f3" stroke-width="0.7"/>
<line x1="201.80" y1="132.50" x2="364.30" y2="132.50" stroke="#5e5e5e" stroke-width="1.0"/>
<text x="340.40" y="129.40" font-family="Liberation Sans, sans-serif" font-size="5.0" font-weight="normal" fill="#3a3a3a" text-anchor="start" textLength="21.60" lengthAdjust="spacingAndGlyphs">Threshold</text>
<circle cx="203.00" cy="98.80" r="1.5" fill="none" stroke="#2a7fc4" stroke-width="0.8"/>
<circle cx="203.00" cy="109.97" r="1.5" fill="none" stroke="#2a7fc4" stroke-width="0.8"/>
<circle cx="203.00" cy="121.13" r="1.5" fill="none" stroke="#2a7fc4" stroke-width="0.8"/>
<circle cx="203.00" cy="132.30" r="1.5" fill="none" stroke="#2a7fc4" stroke-width="0.8"/>
<circle cx="219.20" cy="121.13" r="1.5" fill="none" stroke="#2a7fc4" stroke-width="0.8"/>
<circle cx="219.20" cy="132.30" r="1.5" fill="none" stroke="#2a7fc4" stroke-width="0.8"/>
<circle cx="219.20" cy="143.47" r="1.5" fill="none" stroke="#2a7fc4" stroke-width="0.8"/>
<circle cx="219.20" cy="165.80" r="1.5" fill="none" stroke="#2a7fc4" stroke-width="0.8"/>
<circle cx="236.40" cy="54.13" r="1.5" fill="none" stroke="#2a7fc4" stroke-width="0.8"/>
<circle cx="236.40" cy="65.30" r="1.5" fill="none" stroke="#2a7fc4" stroke-width="0.8"/>
<circle cx="236.40" cy="76.47" r="1.5" fill="none" stroke="#2a7fc4" stroke-width="0.8"/>
<circle cx="236.40" cy="98.80" r="1.5" fill="none" stroke="#2a7fc4" stroke-width="0.8"/>
<circle cx="236.40" cy="109.97" r="1.5" fill="none" stroke="#2a7fc4" stroke-width="0.8"/>
<circle cx="236.40" cy="121.13" r="1.5" fill="none" stroke="#2a7fc4" stroke-width="0.8"/>
<circle cx="236.40" cy="132.30" r="1.5" fill="none" stroke="#2a7fc4" stroke-width="0.8"/>
<circle cx="236.40" cy="143.47" r="1.5" fill="none" stroke="#2a7fc4" stroke-width="0.8"/>
<circle cx="253.60" cy="98.80" r="1.5" fill="none" stroke="#2a7fc4" stroke-width="0.8"/>
<circle cx="253.60" cy="109.97" r="1.5" fill="none" stroke="#2a7fc4" stroke-width="0.8"/>
<circle cx="253.60" cy="121.13" r="1.5" fill="none" stroke="#2a7fc4" stroke-width="0.8"/>
<circle cx="253.60" cy="132.30" r="1.5" fill="none" stroke="#2a7fc4" stroke-width="0.8"/>
<circle cx="253.60" cy="143.47" r="1.5" fill="none" stroke="#2a7fc4" stroke-width="0.8"/>
<circle cx="253.60" cy="165.80" r="1.5" fill="none" stroke="#2a7fc4" stroke-width="0.8"/>
<circle cx="269.80" cy="98.80" r="1.5" fill="none" stroke="#2a7fc4" stroke-width="0.8"/>
<circle cx="269.80" cy="109.97" r="1.5" fill="none" stroke="#2a7fc4" stroke-width="0.8"/>
<circle cx="269.80" cy="121.13" r="1.5" fill="none" stroke="#2a7fc4" stroke-width="0.8"/>
<circle cx="269.80" cy="132.30" r="1.5" fill="none" stroke="#2a7fc4" stroke-width="0.8"/>
<circle cx="269.80" cy="143.47" r="1.5" fill="none" stroke="#2a7fc4" stroke-width="0.8"/>
<circle cx="269.80" cy="165.80" r="1.5" fill="none" stroke="#2a7fc4" stroke-width="0.8"/>
<circle cx="286.20" cy="54.13" r="1.5" fill="none" stroke="#2a7fc4" stroke-width="0.8"/>
<circle cx="286.20" cy="65.30" r="1.5" fill="none" stroke="#2a7fc4" stroke-width="0.8"/>
<circle cx="286.20" cy="76.47" r="1.5" fill="none" stroke="#2a7fc4" stroke-width="0.8"/>
<circle cx="286.20" cy="98.80" r="1.5" fill="none" stroke="#2a7fc4" stroke-width="0.8"/>
<circle cx="286.20" cy="109.97" r="1.5" fill="none" stroke="#2a7fc4" stroke-width="0.8"/>
<circle cx="286.20" cy="121.13" r="1.5" fill="none" stroke="#2a7fc4" stroke-width="0.8"/>
<circle cx="286.20" cy="132.30" r="1.5" fill="none" stroke="#2a7fc4" stroke-width="0.8"/>
<circle cx="286.20" cy="143.47" r="1.5" fill="none" stroke="#2a7fc4" stroke-width="0.8"/>
<circle cx="302.10" cy="31.80" r="1.5" fill="none" stroke="#2a7fc4" stroke-width="0.8"/>
<circle cx="302.10" cy="42.97" r="1.5" fill="none" stroke="#2a7fc4" stroke-width="0.8"/>
<circle cx="302.10" cy="54.13" r="1.5" fill="none" stroke="#2a7fc4" stroke-width="0.8"/>
<circle cx="302.10" cy="65.30" r="1.5" fill="none" stroke="#2a7fc4" stroke-width="0.8"/>
<circle cx="302.10" cy="76.47" r="1.5" fill="none" stroke="#2a7fc4" stroke-width="0.8"/>
<circle cx="302.10" cy="98.80" r="1.5" fill="none" stroke="#2a7fc4" stroke-width="0.8"/>
<circle cx="302.10" cy="109.97" r="1.5" fill="none" stroke="#2a7fc4" stroke-width="0.8"/>
<circle cx="302.10" cy="121.13" r="1.5" fill="none" stroke="#2a7fc4" stroke-width="0.8"/>
<circle cx="302.10" cy="132.30" r="1.5" fill="none" stroke="#2a7fc4" stroke-width="0.8"/>
<circle cx="302.10" cy="143.47" r="1.5" fill="none" stroke="#2a7fc4" stroke-width="0.8"/>
<circle cx="318.70" cy="65.30" r="1.5" fill="none" stroke="#2a7fc4" stroke-width="0.8"/>
<circle cx="318.70" cy="76.47" r="1.5" fill="none" stroke="#2a7fc4" stroke-width="0.8"/>
<circle cx="318.70" cy="98.80" r="1.5" fill="none" stroke="#2a7fc4" stroke-width="0.8"/>
<circle cx="318.70" cy="109.97" r="1.5" fill="none" stroke="#2a7fc4" stroke-width="0.8"/>
<circle cx="318.70" cy="121.13" r="1.5" fill="none" stroke="#2a7fc4" stroke-width="0.8"/>
<circle cx="318.70" cy="132.30" r="1.5" fill="none" stroke="#2a7fc4" stroke-width="0.8"/>
<circle cx="318.70" cy="143.47" r="1.5" fill="none" stroke="#2a7fc4" stroke-width="0.8"/>
<circle cx="318.70" cy="165.80" r="1.5" fill="none" stroke="#2a7fc4" stroke-width="0.8"/>
<circle cx="335.40" cy="65.30" r="1.5" fill="none" stroke="#2a7fc4" stroke-width="0.8"/>
<circle cx="335.40" cy="76.47" r="1.5" fill="none" stroke="#2a7fc4" stroke-width="0.8"/>
<circle cx="335.40" cy="98.80" r="1.5" fill="none" stroke="#2a7fc4" stroke-width="0.8"/>
<circle cx="335.40" cy="109.97" r="1.5" fill="none" stroke="#2a7fc4" stroke-width="0.8"/>
<circle cx="335.40" cy="121.13" r="1.5" fill="none" stroke="#2a7fc4" stroke-width="0.8"/>
<circle cx="335.40" cy="132.30" r="1.5" fill="none" stroke="#2a7fc4" stroke-width="0.8"/>
<circle cx="335.40" cy="143.47" r="1.5" fill="none" stroke="#2a7fc4" stroke-width="0.8"/>
<circle cx="352.10" cy="65.30" r="1.5" fill="none" stroke="#2a7fc4" stroke-width="0.8"/>
<circle cx="352.10" cy="98.80" r="1.5" fill="none" stroke="#2a7fc4" stroke-width="0.8"/>
<circle cx="352.10" cy="109.97" r="1.5" fill="none" stroke="#2a7fc4" stroke-width="0.8"/>
<circle cx="352.10" cy="121.13" r="1.5" fill="none" stroke="#2a7fc4" stroke-width="0.8"/>
<circle cx="352.10" cy="132.30" r="1.5" fill="none" stroke="#2a7fc4" stroke-width="0.8"/>
<circle cx="352.10" cy="143.47" r="1.5" fill="none" stroke="#2a7fc4" stroke-width="0.8"/>
<line x1="201.80" y1="31.80" x2="201.80" y2="165.80" stroke="#b8b8b8" stroke-width="1.3"/>
<line x1="201.80" y1="165.80" x2="364.30" y2="165.80" stroke="#8a8a8a" stroke-width="0.6"/>
<line x1="220.50" y1="165.80" x2="220.50" y2="164.60" stroke="#5a5a5a" stroke-width="0.4"/>
<line x1="252.50" y1="165.80" x2="252.50" y2="164.60" stroke="#5a5a5a" stroke-width="0.4"/>
<line x1="284.50" y1="165.80" x2="284.50" y2="164.60" stroke="#5a5a5a" stroke-width="0.4"/>
<line x1="316.70" y1="165.80" x2="316.70" y2="164.60" stroke="#5a5a5a" stroke-width="0.4"/>
<line x1="349.00" y1="165.80" x2="349.00" y2="164.60" stroke="#5a5a5a" stroke-width="0.4"/>
<line x1="201.80" y1="31.80" x2="203.00" y2="31.80" stroke="#5a5a5a" stroke-width="0.4"/>
<line x1="201.80" y1="54.13" x2="203.00" y2="54.13" stroke="#5a5a5a" stroke-width="0.4"/>
<line x1="201.80" y1="76.47" x2="203.00" y2="76.47" stroke="#5a5a5a" stroke-width="0.4"/>
<line x1="201.80" y1="98.80" x2="203.00" y2="98.80" stroke="#5a5a5a" stroke-width="0.4"/>
<line x1="201.80" y1="121.13" x2="203.00" y2="121.13" stroke="#5a5a5a" stroke-width="0.4"/>
<line x1="201.80" y1="143.47" x2="203.00" y2="143.47" stroke="#5a5a5a" stroke-width="0.4"/>
<line x1="201.80" y1="165.80" x2="203.00" y2="165.80" stroke="#5a5a5a" stroke-width="0.4"/>
<text x="199.60" y="34.10" font-family="Liberation Sans, sans-serif" font-size="5.0" font-weight="normal" fill="#555555" text-anchor="end">-46</text>
<text x="199.60" y="56.43" font-family="Liberation Sans, sans-serif" font-size="5.0" font-weight="normal" fill="#555555" text-anchor="end">-48</text>
<text x="199.60" y="78.77" font-family="Liberation Sans, sans-serif" font-size="5.0" font-weight="normal" fill="#555555" text-anchor="end">-50</text>
<text x="199.60" y="101.10" font-family="Liberation Sans, sans-serif" font-size="5.0" font-weight="normal" fill="#555555" text-anchor="end">-52</text>
<text x="199.60" y="123.43" font-family="Liberation Sans, sans-serif" font-size="5.0" font-weight="normal" fill="#555555" text-anchor="end">-54</text>
<text x="199.60" y="145.77" font-family="Liberation Sans, sans-serif" font-size="5.0" font-weight="normal" fill="#555555" text-anchor="end">-56</text>
<text x="199.60" y="168.10" font-family="Liberation Sans, sans-serif" font-size="5.0" font-weight="normal" fill="#555555" text-anchor="end">-58</text>
<text x="220.50" y="173.70" font-family="Liberation Sans, sans-serif" font-size="5.0" font-weight="normal" fill="#555555" text-anchor="middle">13:20</text>
<text x="252.50" y="173.70" font-family="Liberation Sans, sans-serif" font-size="5.0" font-weight="normal" fill="#555555" text-anchor="middle">13:22</text>
<text x="284.50" y="173.70" font-family="Liberation Sans, sans-serif" font-size="5.0" font-weight="normal" fill="#555555" text-anchor="middle">13:24</text>
<text x="316.70" y="173.70" font-family="Liberation Sans, sans-serif" font-size="5.0" font-weight="normal" fill="#555555" text-anchor="middle">13:26</text>
<text x="349.00" y="173.70" font-family="Liberation Sans, sans-serif" font-size="5.0" font-weight="normal" fill="#555555" text-anchor="middle">13:28</text>
<text x="283.00" y="29.40" font-family="Liberation Sans, sans-serif" font-size="5.5" font-weight="bold" fill="#1a1a1a" text-anchor="middle" textLength="68.80" lengthAdjust="spacingAndGlyphs">Experiment 3 Tag 2 (RFID)</text>
<text x="189.20" y="98.80" font-family="Liberation Sans, sans-serif" font-size="5.0" font-weight="normal" fill="#555555" text-anchor="middle" transform="rotate(-90 189.20 98.80)">RSSI</text>
<text x="283.50" y="180.80" font-family="Liberation Sans, sans-serif" font-size="5.2" font-weight="normal" fill="#333333" text-anchor="middle">Time</text>
<text x="360.50" y="180.80" font-family="Liberation Sans, sans-serif" font-size="5.0" font-weight="normal" fill="#333333" text-anchor="end" textLength="29.00" lengthAdjust="spacingAndGlyphs">Oct 17, 2022</text>
<rect x="322.50" y="36.00" width="37.90" height="7.60" fill="#ffffff" stroke="#bdbdbd" stroke-width="0.5"/>
<line x1="324.50" y1="39.80" x2="339.50" y2="39.80" stroke="#dfe3f3" stroke-width="0.8"/>
<text x="341.00" y="41.50" font-family="Liberation Sans, sans-serif" font-size="4.5" font-weight="normal" fill="#222" text-anchor="start" textLength="17.90" lengthAdjust="spacingAndGlyphs">Detected</text>
<line x1="386.70" y1="58.66" x2="545.10" y2="58.66" stroke="#262626" stroke-width="0.7" stroke-opacity="0.09"/>
<line x1="386.70" y1="85.42" x2="545.10" y2="85.42" stroke="#262626" stroke-width="0.7" stroke-opacity="0.09"/>
<line x1="386.70" y1="112.18" x2="545.10" y2="112.18" stroke="#262626" stroke-width="0.7" stroke-opacity="0.09"/>
<line x1="386.70" y1="138.94" x2="545.10" y2="138.94" stroke="#262626" stroke-width="0.7" stroke-opacity="0.09"/>
<line x1="408.70" y1="31.90" x2="408.70" y2="165.70" stroke="#262626" stroke-width="0.7" stroke-opacity="0.1"/>
<line x1="441.00" y1="31.90" x2="441.00" y2="165.70" stroke="#262626" stroke-width="0.7" stroke-opacity="0.1"/>
<line x1="473.30" y1="31.90" x2="473.30" y2="165.70" stroke="#262626" stroke-width="0.7" stroke-opacity="0.1"/>
<line x1="505.60" y1="31.90" x2="505.60" y2="165.70" stroke="#262626" stroke-width="0.7" stroke-opacity="0.1"/>
<line x1="537.80" y1="31.90" x2="537.80" y2="165.70" stroke="#262626" stroke-width="0.7" stroke-opacity="0.1"/>
<line x1="386.70" y1="85.50" x2="545.10" y2="85.50" stroke="#a3a3a3" stroke-width="0.85"/>
<text x="521.90" y="83.20" font-family="Liberation Sans, sans-serif" font-size="5.0" font-weight="normal" fill="#3a3a3a" text-anchor="start" textLength="21.60" lengthAdjust="spacingAndGlyphs">Threshold</text>
<polyline points="390.30,53.31 396.40,144.29 398.50,122.88 402.90,74.72 407.40,37.25 407.90,64.01 409.50,133.59 418.10,117.53 424.50,64.01 433.20,117.53 435.60,133.59 441.90,138.94 474.50,122.88 475.90,80.07 478.60,128.24 483.00,122.88 491.90,69.36 505.10,144.29 508.80,69.36 513.00,149.64 517.50,138.94 523.00,69.36 530.70,101.48 532.80,122.88 539.70,74.72 541.70,122.88" fill="none" stroke="#f2464f" stroke-width="0.75" stroke-linejoin="round"/>
<circle cx="390.30" cy="53.31" r="0.7" fill="#f2464f" stroke="#f2464f" stroke-width="0.6"/>
<circle cx="396.40" cy="144.29" r="0.7" fill="#f2464f" stroke="#f2464f" stroke-width="0.6"/>
<circle cx="398.50" cy="122.88" r="0.7" fill="#f2464f" stroke="#f2464f" stroke-width="0.6"/>
<circle cx="402.90" cy="74.72" r="0.7" fill="#f2464f" stroke="#f2464f" stroke-width="0.6"/>
<circle cx="407.40" cy="37.25" r="0.7" fill="#f2464f" stroke="#f2464f" stroke-width="0.6"/>
<circle cx="407.90" cy="64.01" r="0.7" fill="#f2464f" stroke="#f2464f" stroke-width="0.6"/>
<circle cx="409.50" cy="133.59" r="0.7" fill="#f2464f" stroke="#f2464f" stroke-width="0.6"/>
<circle cx="418.10" cy="117.53" r="0.7" fill="#f2464f" stroke="#f2464f" stroke-width="0.6"/>
<circle cx="424.50" cy="64.01" r="0.7" fill="#f2464f" stroke="#f2464f" stroke-width="0.6"/>
<circle cx="433.20" cy="117.53" r="0.7" fill="#f2464f" stroke="#f2464f" stroke-width="0.6"/>
<circle cx="435.60" cy="133.59" r="0.7" fill="#f2464f" stroke="#f2464f" stroke-width="0.6"/>
<circle cx="441.90" cy="138.94" r="0.7" fill="#f2464f" stroke="#f2464f" stroke-width="0.6"/>
<circle cx="474.50" cy="122.88" r="0.7" fill="#f2464f" stroke="#f2464f" stroke-width="0.6"/>
<circle cx="475.90" cy="80.07" r="0.7" fill="#f2464f" stroke="#f2464f" stroke-width="0.6"/>
<circle cx="478.60" cy="128.24" r="0.7" fill="#f2464f" stroke="#f2464f" stroke-width="0.6"/>
<circle cx="483.00" cy="122.88" r="0.7" fill="#f2464f" stroke="#f2464f" stroke-width="0.6"/>
<circle cx="491.90" cy="69.36" r="0.7" fill="#f2464f" stroke="#f2464f" stroke-width="0.6"/>
<circle cx="505.10" cy="144.29" r="0.7" fill="#f2464f" stroke="#f2464f" stroke-width="0.6"/>
<circle cx="508.80" cy="69.36" r="0.7" fill="#f2464f" stroke="#f2464f" stroke-width="0.6"/>
<circle cx="513.00" cy="149.64" r="0.7" fill="#f2464f" stroke="#f2464f" stroke-width="0.6"/>
<circle cx="517.50" cy="138.94" r="0.7" fill="#f2464f" stroke="#f2464f" stroke-width="0.6"/>
<circle cx="523.00" cy="69.36" r="0.7" fill="#f2464f" stroke="#f2464f" stroke-width="0.6"/>
<circle cx="530.70" cy="101.48" r="0.7" fill="#f2464f" stroke="#f2464f" stroke-width="0.6"/>
<circle cx="532.80" cy="122.88" r="0.7" fill="#f2464f" stroke="#f2464f" stroke-width="0.6"/>
<circle cx="539.70" cy="74.72" r="0.7" fill="#f2464f" stroke="#f2464f" stroke-width="0.6"/>
<circle cx="541.70" cy="122.88" r="0.7" fill="#f2464f" stroke="#f2464f" stroke-width="0.6"/>
<polyline points="392.40,64.01 394.40,42.60 400.60,37.25 420.90,74.72 439.20,47.96 441.40,47.96 447.90,90.77 452.50,58.66 454.60,64.01 456.90,47.96 463.50,85.42 475.20,64.01 490.30,85.42 495.70,53.31 498.00,53.31 505.00,53.31 507.50,69.36 520.90,90.77 522.50,53.31 529.00,90.77 541.80,85.42" fill="none" stroke="#4a6fd0" stroke-width="0.7" stroke-linejoin="round"/>
<circle cx="392.40" cy="64.01" r="1.7" fill="none" stroke="#4a6fd0" stroke-width="0.6"/>
<circle cx="394.40" cy="42.60" r="1.7" fill="none" stroke="#4a6fd0" stroke-width="0.6"/>
<circle cx="400.60" cy="37.25" r="1.7" fill="none" stroke="#4a6fd0" stroke-width="0.6"/>
<circle cx="420.90" cy="74.72" r="1.7" fill="none" stroke="#4a6fd0" stroke-width="0.6"/>
<circle cx="439.20" cy="47.96" r="1.7" fill="none" stroke="#4a6fd0" stroke-width="0.6"/>
<circle cx="441.40" cy="47.96" r="1.7" fill="none" stroke="#4a6fd0" stroke-width="0.6"/>
<circle cx="447.90" cy="90.77" r="1.7" fill="none" stroke="#4a6fd0" stroke-width="0.6"/>
<circle cx="452.50" cy="58.66" r="1.7" fill="none" stroke="#4a6fd0" stroke-width="0.6"/>
<circle cx="454.60" cy="64.01" r="1.7" fill="none" stroke="#4a6fd0" stroke-width="0.6"/>
<circle cx="456.90" cy="47.96" r="1.7" fill="none" stroke="#4a6fd0" stroke-width="0.6"/>
<circle cx="463.50" cy="85.42" r="1.7" fill="none" stroke="#4a6fd0" stroke-width="0.6"/>
<circle cx="475.20" cy="64.01" r="1.7" fill="none" stroke="#4a6fd0" stroke-width="0.6"/>
<circle cx="490.30" cy="85.42" r="1.7" fill="none" stroke="#4a6fd0" stroke-width="0.6"/>
<circle cx="495.70" cy="53.31" r="1.7" fill="none" stroke="#4a6fd0" stroke-width="0.6"/>
<circle cx="498.00" cy="53.31" r="1.7" fill="none" stroke="#4a6fd0" stroke-width="0.6"/>
<circle cx="505.00" cy="53.31" r="1.7" fill="none" stroke="#4a6fd0" stroke-width="0.6"/>
<circle cx="507.50" cy="69.36" r="1.7" fill="none" stroke="#4a6fd0" stroke-width="0.6"/>
<circle cx="520.90" cy="90.77" r="1.7" fill="none" stroke="#4a6fd0" stroke-width="0.6"/>
<circle cx="522.50" cy="53.31" r="1.7" fill="none" stroke="#4a6fd0" stroke-width="0.6"/>
<circle cx="529.00" cy="90.77" r="1.7" fill="none" stroke="#4a6fd0" stroke-width="0.6"/>
<circle cx="541.80" cy="85.42" r="1.7" fill="none" stroke="#4a6fd0" stroke-width="0.6"/>
<line x1="386.70" y1="31.90" x2="545.10" y2="31.90" stroke="#bcbcbc" stroke-width="0.7"/>
<line x1="545.10" y1="31.90" x2="545.10" y2="165.70" stroke="#bcbcbc" stroke-width="0.7"/>
<line x1="386.70" y1="31.90" x2="386.70" y2="165.70" stroke="#858585" stroke-width="0.8"/>
<line x1="386.70" y1="165.70" x2="545.10" y2="165.70" stroke="#858585" stroke-width="0.8"/>
<line x1="408.70" y1="165.70" x2="408.70" y2="164.50" stroke="#5a5a5a" stroke-width="0.4"/>
<line x1="441.00" y1="165.70" x2="441.00" y2="164.50" stroke="#5a5a5a" stroke-width="0.4"/>
<line x1="473.30" y1="165.70" x2="473.30" y2="164.50" stroke="#5a5a5a" stroke-width="0.4"/>
<line x1="505.60" y1="165.70" x2="505.60" y2="164.50" stroke="#5a5a5a" stroke-width="0.4"/>
<line x1="537.80" y1="165.70" x2="537.80" y2="164.50" stroke="#5a5a5a" stroke-width="0.4"/>
<line x1="386.70" y1="31.90" x2="387.90" y2="31.90" stroke="#5a5a5a" stroke-width="0.4"/>
<line x1="386.70" y1="58.66" x2="387.90" y2="58.66" stroke="#5a5a5a" stroke-width="0.4"/>
<line x1="386.70" y1="85.42" x2="387.90" y2="85.42" stroke="#5a5a5a" stroke-width="0.4"/>
<line x1="386.70" y1="112.18" x2="387.90" y2="112.18" stroke="#5a5a5a" stroke-width="0.4"/>
<line x1="386.70" y1="138.94" x2="387.90" y2="138.94" stroke="#5a5a5a" stroke-width="0.4"/>
<line x1="386.70" y1="165.70" x2="387.90" y2="165.70" stroke="#5a5a5a" stroke-width="0.4"/>
<text x="384.50" y="34.20" font-family="Liberation Sans, sans-serif" font-size="5.0" font-weight="normal" fill="#555555" text-anchor="end">-75</text>
<text x="384.50" y="60.96" font-family="Liberation Sans, sans-serif" font-size="5.0" font-weight="normal" fill="#555555" text-anchor="end">-80</text>
<text x="384.50" y="87.72" font-family="Liberation Sans, sans-serif" font-size="5.0" font-weight="normal" fill="#555555" text-anchor="end">-85</text>
<text x="384.50" y="114.48" font-family="Liberation Sans, sans-serif" font-size="5.0" font-weight="normal" fill="#555555" text-anchor="end">-90</text>
<text x="384.50" y="141.24" font-family="Liberation Sans, sans-serif" font-size="5.0" font-weight="normal" fill="#555555" text-anchor="end">-95</text>
<text x="384.50" y="168.00" font-family="Liberation Sans, sans-serif" font-size="5.0" font-weight="normal" fill="#555555" text-anchor="end">-100</text>
<text x="408.70" y="173.60" font-family="Liberation Sans, sans-serif" font-size="5.0" font-weight="normal" fill="#555555" text-anchor="middle">13:20:00</text>
<text x="441.00" y="173.60" font-family="Liberation Sans, sans-serif" font-size="5.0" font-weight="normal" fill="#555555" text-anchor="middle">13:22:00</text>
<text x="473.30" y="173.60" font-family="Liberation Sans, sans-serif" font-size="5.0" font-weight="normal" fill="#555555" text-anchor="middle">13:24:00</text>
<text x="505.60" y="173.60" font-family="Liberation Sans, sans-serif" font-size="5.0" font-weight="normal" fill="#555555" text-anchor="middle">13:26:00</text>
<text x="537.80" y="173.60" font-family="Liberation Sans, sans-serif" font-size="5.0" font-weight="normal" fill="#555555" text-anchor="middle">13:28:00</text>
<text x="465.90" y="29.60" font-family="Liberation Sans, sans-serif" font-size="5.5" font-weight="bold" fill="#1a1a1a" text-anchor="middle" textLength="50.00" lengthAdjust="spacingAndGlyphs">Experiment 3 (BLE)</text>
<text x="371.70" y="98.80" font-family="Liberation Sans, sans-serif" font-size="5.0" font-weight="normal" fill="#555555" text-anchor="middle" transform="rotate(-90 371.70 98.80)">RSSI</text>
<text x="466.00" y="180.70" font-family="Liberation Sans, sans-serif" font-size="5.2" font-weight="normal" fill="#333333" text-anchor="middle">Time</text>
<rect x="512.40" y="36.10" width="31.90" height="14.30" fill="#ffffff" stroke="#bdbdbd" stroke-width="0.5"/>
<line x1="514.00" y1="40.10" x2="527.90" y2="40.10" stroke="#4a6fd0" stroke-width="0.7"/>
<circle cx="521.00" cy="40.10" r="1.7" fill="none" stroke="#4a6fd0" stroke-width="0.6"/>
<line x1="514.00" y1="46.30" x2="527.90" y2="46.30" stroke="#f2464f" stroke-width="0.8"/>
<circle cx="521.00" cy="46.30" r="0.7" fill="#f2464f" stroke="#f2464f" stroke-width="0.6"/>
<text x="530.40" y="41.90" font-family="Liberation Sans, sans-serif" font-size="4.5" font-weight="normal" fill="#222" text-anchor="start" textLength="9.50" lengthAdjust="spacingAndGlyphs">Tag1</text>
<text x="530.40" y="48.10" font-family="Liberation Sans, sans-serif" font-size="4.5" font-weight="normal" fill="#222" text-anchor="start" textLength="9.50" lengthAdjust="spacingAndGlyphs">Tag2</text>
<line x1="19.80" y1="216.80" x2="182.50" y2="216.80" stroke="#bcbcbc" stroke-width="0.7"/>
<line x1="182.50" y1="216.80" x2="182.50" y2="350.90" stroke="#bcbcbc" stroke-width="0.7"/>
<line x1="19.80" y1="216.80" x2="19.80" y2="350.90" stroke="#858585" stroke-width="0.8"/>
<line x1="19.80" y1="350.90" x2="182.50" y2="350.90" stroke="#858585" stroke-width="0.8"/>
<rect x="20.15" y="246.60" width="162.35" height="74.50" fill="#5dcbf0"/>
<line x1="19.80" y1="276.50" x2="182.50" y2="276.50" stroke="#555555" stroke-width="1.0"/>
<text x="158.40" y="273.90" font-family="Liberation Sans, sans-serif" font-size="5.0" font-weight="normal" fill="#3a3a3a" text-anchor="start" textLength="21.60" lengthAdjust="spacingAndGlyphs">Threshold</text>
<circle cx="67.60" cy="216.80" r="1.35" fill="none" stroke="#0f72bd" stroke-width="0.65"/>
<circle cx="67.60" cy="231.70" r="1.35" fill="none" stroke="#0f72bd" stroke-width="0.65"/>
<circle cx="126.90" cy="231.70" r="1.35" fill="none" stroke="#0f72bd" stroke-width="0.65"/>
<circle cx="143.30" cy="231.70" r="1.35" fill="none" stroke="#0f72bd" stroke-width="0.65"/>
<circle cx="165.40" cy="231.70" r="1.35" fill="none" stroke="#0f72bd" stroke-width="0.65"/>
<circle cx="28.00" cy="246.60" r="1.35" fill="none" stroke="#0c66b0" stroke-width="0.75"/>
<circle cx="29.50" cy="246.60" r="1.35" fill="none" stroke="#0c66b0" stroke-width="0.75"/>
<circle cx="31.00" cy="246.60" r="1.35" fill="none" stroke="#0c66b0" stroke-width="0.75"/>
<circle cx="45.20" cy="246.60" r="1.35" fill="none" stroke="#0f72bd" stroke-width="0.65"/>
<circle cx="47.77" cy="246.60" r="1.35" fill="none" stroke="#0f72bd" stroke-width="0.65"/>
<circle cx="50.33" cy="246.60" r="1.35" fill="none" stroke="#0f72bd" stroke-width="0.65"/>
<circle cx="52.90" cy="246.60" r="1.35" fill="none" stroke="#0f72bd" stroke-width="0.65"/>
<circle cx="62.00" cy="246.60" r="1.35" fill="none" stroke="#0f72bd" stroke-width="0.65"/>
<circle cx="67.30" cy="246.60" r="1.35" fill="none" stroke="#0c66b0" stroke-width="0.75"/>
<circle cx="68.50" cy="246.60" r="1.35" fill="none" stroke="#0c66b0" stroke-width="0.75"/>
<circle cx="69.70" cy="246.60" r="1.35" fill="none" stroke="#0c66b0" stroke-width="0.75"/>
<circle cx="84.50" cy="246.60" r="1.35" fill="none" stroke="#0f72bd" stroke-width="0.65"/>
<circle cx="94.30" cy="246.60" r="1.35" fill="none" stroke="#0f72bd" stroke-width="0.65"/>
<circle cx="99.50" cy="246.60" r="1.35" fill="none" stroke="#0f72bd" stroke-width="0.65"/>
<circle cx="126.90" cy="246.60" r="1.35" fill="none" stroke="#0f72bd" stroke-width="0.65"/>
<circle cx="133.50" cy="246.60" r="1.35" fill="none" stroke="#0f72bd" stroke-width="0.65"/>
<circle cx="141.60" cy="246.60" r="1.35" fill="none" stroke="#0c66b0" stroke-width="0.75"/>
<circle cx="142.85" cy="246.60" r="1.35" fill="none" stroke="#0c66b0" stroke-width="0.75"/>
<circle cx="144.10" cy="246.60" r="1.35" fill="none" stroke="#0c66b0" stroke-width="0.75"/>
<circle cx="149.80" cy="246.60" r="1.35" fill="none" stroke="#0f72bd" stroke-width="0.65"/>
<circle cx="159.60" cy="246.60" r="1.35" fill="none" stroke="#0f72bd" stroke-width="0.65"/>
<circle cx="161.80" cy="246.60" r="1.35" fill="none" stroke="#0f72bd" stroke-width="0.65"/>
<circle cx="164.00" cy="246.60" r="1.35" fill="none" stroke="#0f72bd" stroke-width="0.65"/>
<circle cx="166.20" cy="246.60" r="1.35" fill="none" stroke="#0f72bd" stroke-width="0.65"/>
<rect x="18.12" y="259.82" width="119.45" height="3.35" rx="1.68" fill="#0c66b0"/>
<rect x="137.53" y="259.82" width="42.65" height="3.35" rx="1.68" fill="#0c66b0"/>
<rect x="18.12" y="274.72" width="162.15" height="3.35" rx="1.68" fill="#0c66b0"/>
<rect x="18.12" y="304.52" width="162.15" height="3.35" rx="1.68" fill="#0c66b0"/>
<circle cx="28.00" cy="321.10" r="1.35" fill="none" stroke="#0c66b0" stroke-width="0.75"/>
<circle cx="29.33" cy="321.10" r="1.35" fill="none" stroke="#0c66b0" stroke-width="0.75"/>
<circle cx="30.67" cy="321.10" r="1.35" fill="none" stroke="#0c66b0" stroke-width="0.75"/>
<circle cx="32.00" cy="321.10" r="1.35" fill="none" stroke="#0c66b0" stroke-width="0.75"/>
<circle cx="33.70" cy="321.10" r="1.35" fill="none" stroke="#0f72bd" stroke-width="0.65"/>
<circle cx="46.30" cy="321.10" r="1.35" fill="none" stroke="#0f72bd" stroke-width="0.65"/>
<circle cx="48.40" cy="321.10" r="1.35" fill="none" stroke="#0f72bd" stroke-width="0.65"/>
<circle cx="50.50" cy="321.10" r="1.35" fill="none" stroke="#0f72bd" stroke-width="0.65"/>
<circle cx="52.60" cy="321.10" r="1.35" fill="none" stroke="#0f72bd" stroke-width="0.65"/>
<circle cx="62.00" cy="321.10" r="1.35" fill="none" stroke="#0f72bd" stroke-width="0.65"/>
<circle cx="68.60" cy="321.10" r="1.35" fill="none" stroke="#0f72bd" stroke-width="0.65"/>
<circle cx="77.40" cy="321.10" r="1.35" fill="none" stroke="#0f72bd" stroke-width="0.65"/>
<circle cx="83.60" cy="321.10" r="1.35" fill="none" stroke="#0f72bd" stroke-width="0.65"/>
<circle cx="94.30" cy="321.10" r="1.35" fill="none" stroke="#0f72bd" stroke-width="0.65"/>
<circle cx="100.20" cy="321.10" r="1.35" fill="none" stroke="#0f72bd" stroke-width="0.65"/>
<circle cx="118.70" cy="321.10" r="1.35" fill="none" stroke="#0f72bd" stroke-width="0.65"/>
<circle cx="126.10" cy="321.10" r="1.35" fill="none" stroke="#0f72bd" stroke-width="0.65"/>
<circle cx="128.33" cy="321.10" r="1.35" fill="none" stroke="#0f72bd" stroke-width="0.65"/>
<circle cx="130.55" cy="321.10" r="1.35" fill="none" stroke="#0f72bd" stroke-width="0.65"/>
<circle cx="132.78" cy="321.10" r="1.35" fill="none" stroke="#0f72bd" stroke-width="0.65"/>
<circle cx="135.01" cy="321.10" r="1.35" fill="none" stroke="#0f72bd" stroke-width="0.65"/>
<circle cx="137.24" cy="321.10" r="1.35" fill="none" stroke="#0f72bd" stroke-width="0.65"/>
<circle cx="139.46" cy="321.10" r="1.35" fill="none" stroke="#0f72bd" stroke-width="0.65"/>
<circle cx="141.69" cy="321.10" r="1.35" fill="none" stroke="#0f72bd" stroke-width="0.65"/>
<circle cx="143.92" cy="321.10" r="1.35" fill="none" stroke="#0f72bd" stroke-width="0.65"/>
<circle cx="146.15" cy="321.10" r="1.35" fill="none" stroke="#0f72bd" stroke-width="0.65"/>
<circle cx="148.37" cy="321.10" r="1.35" fill="none" stroke="#0f72bd" stroke-width="0.65"/>
<circle cx="150.60" cy="321.10" r="1.35" fill="none" stroke="#0f72bd" stroke-width="0.65"/>
<circle cx="159.60" cy="321.10" r="1.35" fill="none" stroke="#0f72bd" stroke-width="0.65"/>
<circle cx="161.80" cy="321.10" r="1.35" fill="none" stroke="#0f72bd" stroke-width="0.65"/>
<circle cx="164.00" cy="321.10" r="1.35" fill="none" stroke="#0f72bd" stroke-width="0.65"/>
<circle cx="166.20" cy="321.10" r="1.35" fill="none" stroke="#0f72bd" stroke-width="0.65"/>
<circle cx="175.70" cy="321.10" r="1.35" fill="none" stroke="#0f72bd" stroke-width="0.65"/>
<circle cx="28.00" cy="336.00" r="1.35" fill="none" stroke="#0c66b0" stroke-width="0.75"/>
<circle cx="29.50" cy="336.00" r="1.35" fill="none" stroke="#0c66b0" stroke-width="0.75"/>
<circle cx="31.00" cy="336.00" r="1.35" fill="none" stroke="#0c66b0" stroke-width="0.75"/>
<circle cx="45.20" cy="336.00" r="1.35" fill="none" stroke="#0f72bd" stroke-width="0.65"/>
<circle cx="48.05" cy="336.00" r="1.35" fill="none" stroke="#0f72bd" stroke-width="0.65"/>
<circle cx="50.90" cy="336.00" r="1.35" fill="none" stroke="#0f72bd" stroke-width="0.65"/>
<circle cx="62.00" cy="336.00" r="1.35" fill="none" stroke="#0f72bd" stroke-width="0.65"/>
<circle cx="67.30" cy="336.00" r="1.35" fill="none" stroke="#0c66b0" stroke-width="0.75"/>
<circle cx="68.40" cy="336.00" r="1.35" fill="none" stroke="#0c66b0" stroke-width="0.75"/>
<circle cx="69.50" cy="336.00" r="1.35" fill="none" stroke="#0c66b0" stroke-width="0.75"/>
<circle cx="70.60" cy="336.00" r="1.35" fill="none" stroke="#0c66b0" stroke-width="0.75"/>
<circle cx="77.40" cy="336.00" r="1.35" fill="none" stroke="#0f72bd" stroke-width="0.65"/>
<circle cx="84.00" cy="336.00" r="1.35" fill="none" stroke="#0f72bd" stroke-width="0.65"/>
<circle cx="94.80" cy="336.00" r="1.35" fill="none" stroke="#0f72bd" stroke-width="0.65"/>
<circle cx="118.70" cy="336.00" r="1.35" fill="none" stroke="#0f72bd" stroke-width="0.65"/>
<circle cx="125.80" cy="336.00" r="1.35" fill="none" stroke="#0f72bd" stroke-width="0.65"/>
<circle cx="127.92" cy="336.00" r="1.35" fill="none" stroke="#0f72bd" stroke-width="0.65"/>
<circle cx="130.05" cy="336.00" r="1.35" fill="none" stroke="#0f72bd" stroke-width="0.65"/>
<circle cx="132.18" cy="336.00" r="1.35" fill="none" stroke="#0f72bd" stroke-width="0.65"/>
<circle cx="134.30" cy="336.00" r="1.35" fill="none" stroke="#0f72bd" stroke-width="0.65"/>
<circle cx="138.40" cy="336.00" r="1.35" fill="none" stroke="#0f72bd" stroke-width="0.65"/>
<circle cx="140.84" cy="336.00" r="1.35" fill="none" stroke="#0f72bd" stroke-width="0.65"/>
<circle cx="143.28" cy="336.00" r="1.35" fill="none" stroke="#0f72bd" stroke-width="0.65"/>
<circle cx="145.72" cy="336.00" r="1.35" fill="none" stroke="#0f72bd" stroke-width="0.65"/>
<circle cx="148.16" cy="336.00" r="1.35" fill="none" stroke="#0f72bd" stroke-width="0.65"/>
<circle cx="150.60" cy="336.00" r="1.35" fill="none" stroke="#0f72bd" stroke-width="0.65"/>
<circle cx="158.80" cy="336.00" r="1.35" fill="none" stroke="#0f72bd" stroke-width="0.65"/>
<circle cx="161.27" cy="336.00" r="1.35" fill="none" stroke="#0f72bd" stroke-width="0.65"/>
<circle cx="163.73" cy="336.00" r="1.35" fill="none" stroke="#0f72bd" stroke-width="0.65"/>
<circle cx="166.20" cy="336.00" r="1.35" fill="none" stroke="#0f72bd" stroke-width="0.65"/>
<circle cx="46.00" cy="350.90" r="1.35" fill="none" stroke="#0f72bd" stroke-width="0.65"/>
<circle cx="52.20" cy="350.90" r="1.35" fill="none" stroke="#0f72bd" stroke-width="0.65"/>
<circle cx="62.00" cy="350.90" r="1.35" fill="none" stroke="#0f72bd" stroke-width="0.65"/>
<circle cx="68.90" cy="350.90" r="1.35" fill="none" stroke="#0f72bd" stroke-width="0.65"/>
<circle cx="84.50" cy="350.90" r="1.35" fill="none" stroke="#0f72bd" stroke-width="0.65"/>
<circle cx="94.30" cy="350.90" r="1.35" fill="none" stroke="#0f72bd" stroke-width="0.65"/>
<circle cx="99.70" cy="350.90" r="1.35" fill="none" stroke="#0f72bd" stroke-width="0.65"/>
<circle cx="126.90" cy="350.90" r="1.35" fill="none" stroke="#0f72bd" stroke-width="0.65"/>
<circle cx="133.50" cy="350.90" r="1.35" fill="none" stroke="#0f72bd" stroke-width="0.65"/>
<circle cx="142.50" cy="350.90" r="1.35" fill="none" stroke="#0f72bd" stroke-width="0.65"/>
<circle cx="144.95" cy="350.90" r="1.35" fill="none" stroke="#0f72bd" stroke-width="0.65"/>
<circle cx="147.40" cy="350.90" r="1.35" fill="none" stroke="#0f72bd" stroke-width="0.65"/>
<circle cx="159.60" cy="350.90" r="1.35" fill="none" stroke="#0f72bd" stroke-width="0.65"/>
<circle cx="161.80" cy="350.90" r="1.35" fill="none" stroke="#0f72bd" stroke-width="0.65"/>
<circle cx="164.00" cy="350.90" r="1.35" fill="none" stroke="#0f72bd" stroke-width="0.65"/>
<circle cx="166.20" cy="350.90" r="1.35" fill="none" stroke="#0f72bd" stroke-width="0.65"/>
<line x1="19.80" y1="231.70" x2="182.50" y2="231.70" stroke="#262626" stroke-width="0.7" stroke-opacity="0.16"/>
<line x1="19.80" y1="246.60" x2="182.50" y2="246.60" stroke="#262626" stroke-width="0.7" stroke-opacity="0.16"/>
<line x1="19.80" y1="261.50" x2="182.50" y2="261.50" stroke="#262626" stroke-width="0.7" stroke-opacity="0.16"/>
<line x1="19.80" y1="276.40" x2="182.50" y2="276.40" stroke="#262626" stroke-width="0.7" stroke-opacity="0.16"/>
<line x1="19.80" y1="291.30" x2="182.50" y2="291.30" stroke="#262626" stroke-width="0.7" stroke-opacity="0.16"/>
<line x1="19.80" y1="306.20" x2="182.50" y2="306.20" stroke="#262626" stroke-width="0.7" stroke-opacity="0.16"/>
<line x1="19.80" y1="321.10" x2="182.50" y2="321.10" stroke="#262626" stroke-width="0.7" stroke-opacity="0.16"/>
<line x1="19.80" y1="336.00" x2="182.50" y2="336.00" stroke="#262626" stroke-width="0.7" stroke-opacity="0.16"/>
<line x1="35.40" y1="216.80" x2="35.40" y2="350.90" stroke="#262626" stroke-width="0.7" stroke-opacity="0.2"/>
<line x1="68.10" y1="216.80" x2="68.10" y2="350.90" stroke="#262626" stroke-width="0.7" stroke-opacity="0.2"/>
<line x1="100.70" y1="216.80" x2="100.70" y2="350.90" stroke="#262626" stroke-width="0.7" stroke-opacity="0.2"/>
<line x1="133.50" y1="216.80" x2="133.50" y2="350.90" stroke="#262626" stroke-width="0.7" stroke-opacity="0.2"/>
<line x1="166.00" y1="216.80" x2="166.00" y2="350.90" stroke="#262626" stroke-width="0.7" stroke-opacity="0.2"/>
<line x1="35.40" y1="350.90" x2="35.40" y2="349.70" stroke="#5a5a5a" stroke-width="0.4"/>
<line x1="68.10" y1="350.90" x2="68.10" y2="349.70" stroke="#5a5a5a" stroke-width="0.4"/>
<line x1="100.70" y1="350.90" x2="100.70" y2="349.70" stroke="#5a5a5a" stroke-width="0.4"/>
<line x1="133.50" y1="350.90" x2="133.50" y2="349.70" stroke="#5a5a5a" stroke-width="0.4"/>
<line x1="166.00" y1="350.90" x2="166.00" y2="349.70" stroke="#5a5a5a" stroke-width="0.4"/>
<line x1="19.80" y1="216.80" x2="21.00" y2="216.80" stroke="#5a5a5a" stroke-width="0.4"/>
<line x1="19.80" y1="231.70" x2="21.00" y2="231.70" stroke="#5a5a5a" stroke-width="0.4"/>
<line x1="19.80" y1="246.60" x2="21.00" y2="246.60" stroke="#5a5a5a" stroke-width="0.4"/>
<line x1="19.80" y1="261.50" x2="21.00" y2="261.50" stroke="#5a5a5a" stroke-width="0.4"/>
<line x1="19.80" y1="276.40" x2="21.00" y2="276.40" stroke="#5a5a5a" stroke-width="0.4"/>
<line x1="19.80" y1="291.30" x2="21.00" y2="291.30" stroke="#5a5a5a" stroke-width="0.4"/>
<line x1="19.80" y1="306.20" x2="21.00" y2="306.20" stroke="#5a5a5a" stroke-width="0.4"/>
<line x1="19.80" y1="321.10" x2="21.00" y2="321.10" stroke="#5a5a5a" stroke-width="0.4"/>
<line x1="19.80" y1="336.00" x2="21.00" y2="336.00" stroke="#5a5a5a" stroke-width="0.4"/>
<line x1="19.80" y1="350.90" x2="21.00" y2="350.90" stroke="#5a5a5a" stroke-width="0.4"/>
<text x="17.60" y="219.10" font-family="Liberation Sans, sans-serif" font-size="5.0" font-weight="normal" fill="#555555" text-anchor="end">-51</text>
<text x="17.60" y="234.00" font-family="Liberation Sans, sans-serif" font-size="5.0" font-weight="normal" fill="#555555" text-anchor="end">-52</text>
<text x="17.60" y="248.90" font-family="Liberation Sans, sans-serif" font-size="5.0" font-weight="normal" fill="#555555" text-anchor="end">-53</text>
<text x="17.60" y="263.80" font-family="Liberation Sans, sans-serif" font-size="5.0" font-weight="normal" fill="#555555" text-anchor="end">-54</text>
<text x="17.60" y="278.70" font-family="Liberation Sans, sans-serif" font-size="5.0" font-weight="normal" fill="#555555" text-anchor="end">-55</text>
<text x="17.60" y="293.60" font-family="Liberation Sans, sans-serif" font-size="5.0" font-weight="normal" fill="#555555" text-anchor="end">-56</text>
<text x="17.60" y="308.50" font-family="Liberation Sans, sans-serif" font-size="5.0" font-weight="normal" fill="#555555" text-anchor="end">-57</text>
<text x="17.60" y="323.40" font-family="Liberation Sans, sans-serif" font-size="5.0" font-weight="normal" fill="#555555" text-anchor="end">-58</text>
<text x="17.60" y="338.30" font-family="Liberation Sans, sans-serif" font-size="5.0" font-weight="normal" fill="#555555" text-anchor="end">-59</text>
<text x="17.60" y="353.20" font-family="Liberation Sans, sans-serif" font-size="5.0" font-weight="normal" fill="#555555" text-anchor="end">-60</text>
<text x="35.40" y="358.60" font-family="Liberation Sans, sans-serif" font-size="5.0" font-weight="normal" fill="#555555" text-anchor="middle">13:58</text>
<text x="68.10" y="358.60" font-family="Liberation Sans, sans-serif" font-size="5.0" font-weight="normal" fill="#555555" text-anchor="middle">14:00</text>
<text x="100.70" y="358.60" font-family="Liberation Sans, sans-serif" font-size="5.0" font-weight="normal" fill="#555555" text-anchor="middle">14:02</text>
<text x="133.50" y="358.60" font-family="Liberation Sans, sans-serif" font-size="5.0" font-weight="normal" fill="#555555" text-anchor="middle">14:04</text>
<text x="166.00" y="358.60" font-family="Liberation Sans, sans-serif" font-size="5.0" font-weight="normal" fill="#555555" text-anchor="middle">14:06</text>
<text x="100.75" y="214.30" font-family="Liberation Sans, sans-serif" font-size="5.5" font-weight="bold" fill="#1a1a1a" text-anchor="middle" textLength="88.30" lengthAdjust="spacingAndGlyphs">Experiment 4 Tag 1 Room 1(RFID)</text>
<text x="7.30" y="283.85" font-family="Liberation Sans, sans-serif" font-size="5.0" font-weight="normal" fill="#555555" text-anchor="middle" transform="rotate(-90 7.30 283.85)">RSSI</text>
<text x="100.90" y="365.90" font-family="Liberation Sans, sans-serif" font-size="5.2" font-weight="normal" fill="#333333" text-anchor="middle">Time</text>
<text x="178.00" y="365.90" font-family="Liberation Sans, sans-serif" font-size="5.0" font-weight="normal" fill="#333333" text-anchor="end" textLength="29.00" lengthAdjust="spacingAndGlyphs">Oct 17, 2022</text>
<rect x="124.50" y="221.40" width="54.30" height="8.10" fill="#ffffff" stroke="#bdbdbd" stroke-width="0.5"/>
<rect x="126.10" y="222.80" width="14.70" height="5.30" fill="#5dcbf0"/>
<text x="142.10" y="226.90" font-family="Liberation Sans, sans-serif" font-size="4.5" font-weight="normal" fill="#222" text-anchor="start" textLength="34.20" lengthAdjust="spacingAndGlyphs">Staying Detected</text>
<line x1="201.90" y1="216.80" x2="201.90" y2="351.30" stroke="#858585" stroke-width="0.8"/>
<line x1="201.90" y1="351.30" x2="364.50" y2="351.30" stroke="#858585" stroke-width="0.8"/>
<rect x="201.90" y="216.80" width="8.61" height="134.50" fill="#d75c62"/>
<rect x="210.46" y="216.80" width="8.61" height="134.50" fill="#5dcbf0"/>
<rect x="219.02" y="216.80" width="8.61" height="134.50" fill="#d75c62"/>
<rect x="227.57" y="216.80" width="8.61" height="134.50" fill="#5dcbf0"/>
<rect x="236.13" y="216.80" width="8.61" height="134.50" fill="#d75c62"/>
<rect x="244.69" y="216.80" width="8.61" height="134.50" fill="#5dcbf0"/>
<rect x="253.25" y="216.80" width="8.61" height="134.50" fill="#d75c62"/>
<rect x="261.81" y="216.80" width="8.61" height="134.50" fill="#5dcbf0"/>
<rect x="270.36" y="216.80" width="8.61" height="134.50" fill="#d75c62"/>
<rect x="278.92" y="216.80" width="8.61" height="134.50" fill="#5dcbf0"/>
<rect x="287.48" y="216.80" width="8.61" height="134.50" fill="#d75c62"/>
<rect x="296.04" y="216.80" width="8.61" height="134.50" fill="#5dcbf0"/>
<rect x="304.59" y="216.80" width="8.61" height="134.50" fill="#d75c62"/>
<rect x="313.15" y="216.80" width="8.61" height="134.50" fill="#5dcbf0"/>
<rect x="321.71" y="216.80" width="8.61" height="134.50" fill="#d75c62"/>
<rect x="330.27" y="216.80" width="8.61" height="134.50" fill="#5dcbf0"/>
<rect x="338.83" y="216.80" width="8.61" height="134.50" fill="#d75c62"/>
<rect x="347.38" y="216.80" width="8.61" height="134.50" fill="#5dcbf0"/>
<rect x="355.94" y="216.80" width="8.61" height="134.50" fill="#d75c62"/>
<line x1="201.90" y1="319.50" x2="364.50" y2="319.50" stroke="#3d3d3d" stroke-width="1.0"/>
<text x="341.00" y="317.50" font-family="Liberation Sans, sans-serif" font-size="5.0" font-weight="normal" fill="#3a3a3a" text-anchor="start" textLength="21.60" lengthAdjust="spacingAndGlyphs">Threshold</text>
<circle cx="212.20" cy="227.30" r="1.35" fill="none" stroke="#1a6fb8" stroke-width="0.65"/>
<circle cx="216.30" cy="227.30" r="1.35" fill="none" stroke="#1a6fb8" stroke-width="0.65"/>
<circle cx="229.40" cy="227.30" r="1.35" fill="none" stroke="#1a6fb8" stroke-width="0.65"/>
<circle cx="231.85" cy="227.30" r="1.35" fill="none" stroke="#1a6fb8" stroke-width="0.65"/>
<circle cx="234.30" cy="227.30" r="1.35" fill="none" stroke="#1a6fb8" stroke-width="0.65"/>
<circle cx="246.60" cy="227.30" r="1.35" fill="none" stroke="#1a6fb8" stroke-width="0.65"/>
<circle cx="297.90" cy="227.30" r="1.35" fill="none" stroke="#1a6fb8" stroke-width="0.65"/>
<circle cx="300.10" cy="227.30" r="1.35" fill="none" stroke="#1a6fb8" stroke-width="0.65"/>
<circle cx="302.30" cy="227.30" r="1.35" fill="none" stroke="#1a6fb8" stroke-width="0.65"/>
<circle cx="304.50" cy="227.30" r="1.35" fill="none" stroke="#1a6fb8" stroke-width="0.65"/>
<circle cx="212.20" cy="237.60" r="1.35" fill="none" stroke="#1a6fb8" stroke-width="0.65"/>
<circle cx="216.30" cy="237.60" r="1.35" fill="none" stroke="#1a6fb8" stroke-width="0.65"/>
<circle cx="229.40" cy="237.60" r="1.35" fill="none" stroke="#1a6fb8" stroke-width="0.65"/>
<circle cx="231.85" cy="237.60" r="1.35" fill="none" stroke="#1a6fb8" stroke-width="0.65"/>
<circle cx="234.30" cy="237.60" r="1.35" fill="none" stroke="#1a6fb8" stroke-width="0.65"/>
<circle cx="246.60" cy="237.60" r="1.35" fill="none" stroke="#1a6fb8" stroke-width="0.65"/>
<circle cx="280.40" cy="237.60" r="1.35" fill="none" stroke="#1a6fb8" stroke-width="0.65"/>
<circle cx="297.90" cy="237.60" r="1.35" fill="none" stroke="#0d62ab" stroke-width="0.75"/>
<circle cx="299.22" cy="237.60" r="1.35" fill="none" stroke="#0d62ab" stroke-width="0.75"/>
<circle cx="300.54" cy="237.60" r="1.35" fill="none" stroke="#0d62ab" stroke-width="0.75"/>
<circle cx="301.86" cy="237.60" r="1.35" fill="none" stroke="#0d62ab" stroke-width="0.75"/>
<circle cx="303.18" cy="237.60" r="1.35" fill="none" stroke="#0d62ab" stroke-width="0.75"/>
<circle cx="304.50" cy="237.60" r="1.35" fill="none" stroke="#0d62ab" stroke-width="0.75"/>
<circle cx="314.30" cy="237.60" r="1.35" fill="none" stroke="#1a6fb8" stroke-width="0.65"/>
<circle cx="321.60" cy="237.60" r="1.35" fill="none" stroke="#1a6fb8" stroke-width="0.65"/>
<circle cx="332.30" cy="237.60" r="1.35" fill="none" stroke="#1a6fb8" stroke-width="0.65"/>
<circle cx="338.80" cy="237.60" r="1.35" fill="none" stroke="#1a6fb8" stroke-width="0.65"/>
<circle cx="348.60" cy="237.60" r="1.35" fill="none" stroke="#1a6fb8" stroke-width="0.65"/>
<circle cx="355.20" cy="237.60" r="1.35" fill="none" stroke="#1a6fb8" stroke-width="0.65"/>
<circle cx="211.00" cy="247.90" r="1.35" fill="none" stroke="#0d62ab" stroke-width="0.75"/>
<circle cx="212.20" cy="247.90" r="1.35" fill="none" stroke="#0d62ab" stroke-width="0.75"/>
<circle cx="213.40" cy="247.90" r="1.35" fill="none" stroke="#0d62ab" stroke-width="0.75"/>
<circle cx="214.60" cy="247.90" r="1.35" fill="none" stroke="#0d62ab" stroke-width="0.75"/>
<circle cx="215.80" cy="247.90" r="1.35" fill="none" stroke="#0d62ab" stroke-width="0.75"/>
<circle cx="217.00" cy="247.90" r="1.35" fill="none" stroke="#0d62ab" stroke-width="0.75"/>
<circle cx="229.40" cy="247.90" r="1.35" fill="none" stroke="#1a6fb8" stroke-width="0.65"/>
<circle cx="231.85" cy="247.90" r="1.35" fill="none" stroke="#1a6fb8" stroke-width="0.65"/>
<circle cx="234.30" cy="247.90" r="1.35" fill="none" stroke="#1a6fb8" stroke-width="0.65"/>
<circle cx="246.60" cy="247.90" r="1.35" fill="none" stroke="#1a6fb8" stroke-width="0.65"/>
<circle cx="280.40" cy="247.90" r="1.35" fill="none" stroke="#1a6fb8" stroke-width="0.65"/>
<circle cx="297.90" cy="247.90" r="1.35" fill="none" stroke="#0d62ab" stroke-width="0.75"/>
<circle cx="299.22" cy="247.90" r="1.35" fill="none" stroke="#0d62ab" stroke-width="0.75"/>
<circle cx="300.54" cy="247.90" r="1.35" fill="none" stroke="#0d62ab" stroke-width="0.75"/>
<circle cx="301.86" cy="247.90" r="1.35" fill="none" stroke="#0d62ab" stroke-width="0.75"/>
<circle cx="303.18" cy="247.90" r="1.35" fill="none" stroke="#0d62ab" stroke-width="0.75"/>
<circle cx="304.50" cy="247.90" r="1.35" fill="none" stroke="#0d62ab" stroke-width="0.75"/>
<circle cx="314.30" cy="247.90" r="1.35" fill="none" stroke="#1a6fb8" stroke-width="0.65"/>
<circle cx="321.60" cy="247.90" r="1.35" fill="none" stroke="#1a6fb8" stroke-width="0.65"/>
<circle cx="332.30" cy="247.90" r="1.35" fill="none" stroke="#1a6fb8" stroke-width="0.65"/>
<circle cx="338.80" cy="247.90" r="1.35" fill="none" stroke="#1a6fb8" stroke-width="0.65"/>
<circle cx="348.60" cy="247.90" r="1.35" fill="none" stroke="#1a6fb8" stroke-width="0.65"/>
<circle cx="355.20" cy="247.90" r="1.35" fill="none" stroke="#1a6fb8" stroke-width="0.65"/>
<circle cx="211.00" cy="258.20" r="1.35" fill="none" stroke="#0d62ab" stroke-width="0.75"/>
<circle cx="212.20" cy="258.20" r="1.35" fill="none" stroke="#0d62ab" stroke-width="0.75"/>
<circle cx="213.40" cy="258.20" r="1.35" fill="none" stroke="#0d62ab" stroke-width="0.75"/>
<circle cx="214.60" cy="258.20" r="1.35" fill="none" stroke="#0d62ab" stroke-width="0.75"/>
<circle cx="215.80" cy="258.20" r="1.35" fill="none" stroke="#0d62ab" stroke-width="0.75"/>
<circle cx="217.00" cy="258.20" r="1.35" fill="none" stroke="#0d62ab" stroke-width="0.75"/>
<circle cx="229.40" cy="258.20" r="1.35" fill="none" stroke="#0d62ab" stroke-width="0.75"/>
<circle cx="230.62" cy="258.20" r="1.35" fill="none" stroke="#0d62ab" stroke-width="0.75"/>
<circle cx="231.85" cy="258.20" r="1.35" fill="none" stroke="#0d62ab" stroke-width="0.75"/>
<circle cx="233.08" cy="258.20" r="1.35" fill="none" stroke="#0d62ab" stroke-width="0.75"/>
<circle cx="234.30" cy="258.20" r="1.35" fill="none" stroke="#0d62ab" stroke-width="0.75"/>
<circle cx="246.60" cy="258.20" r="1.35" fill="none" stroke="#1a6fb8" stroke-width="0.65"/>
<circle cx="263.40" cy="258.20" r="1.35" fill="none" stroke="#1a6fb8" stroke-width="0.65"/>
<circle cx="280.40" cy="258.20" r="1.35" fill="none" stroke="#1a6fb8" stroke-width="0.65"/>
<circle cx="297.90" cy="258.20" r="1.35" fill="none" stroke="#0d62ab" stroke-width="0.75"/>
<circle cx="299.22" cy="258.20" r="1.35" fill="none" stroke="#0d62ab" stroke-width="0.75"/>
<circle cx="300.54" cy="258.20" r="1.35" fill="none" stroke="#0d62ab" stroke-width="0.75"/>
<circle cx="301.86" cy="258.20" r="1.35" fill="none" stroke="#0d62ab" stroke-width="0.75"/>
<circle cx="303.18" cy="258.20" r="1.35" fill="none" stroke="#0d62ab" stroke-width="0.75"/>
<circle cx="304.50" cy="258.20" r="1.35" fill="none" stroke="#0d62ab" stroke-width="0.75"/>
<circle cx="313.60" cy="258.20" r="1.35" fill="none" stroke="#0d62ab" stroke-width="0.75"/>
<circle cx="314.80" cy="258.20" r="1.35" fill="none" stroke="#0d62ab" stroke-width="0.75"/>
<circle cx="316.00" cy="258.20" r="1.35" fill="none" stroke="#0d62ab" stroke-width="0.75"/>
<circle cx="321.60" cy="258.20" r="1.35" fill="none" stroke="#1a6fb8" stroke-width="0.65"/>
<circle cx="332.30" cy="258.20" r="1.35" fill="none" stroke="#1a6fb8" stroke-width="0.65"/>
<circle cx="338.80" cy="258.20" r="1.35" fill="none" stroke="#1a6fb8" stroke-width="0.65"/>
<circle cx="348.60" cy="258.20" r="1.35" fill="none" stroke="#1a6fb8" stroke-width="0.65"/>
<circle cx="355.20" cy="258.20" r="1.35" fill="none" stroke="#1a6fb8" stroke-width="0.65"/>
<circle cx="211.00" cy="268.50" r="1.35" fill="none" stroke="#0d62ab" stroke-width="0.75"/>
<circle cx="212.30" cy="268.50" r="1.35" fill="none" stroke="#0d62ab" stroke-width="0.75"/>
<circle cx="213.60" cy="268.50" r="1.35" fill="none" stroke="#0d62ab" stroke-width="0.75"/>
<circle cx="214.90" cy="268.50" r="1.35" fill="none" stroke="#0d62ab" stroke-width="0.75"/>
<circle cx="216.20" cy="268.50" r="1.35" fill="none" stroke="#0d62ab" stroke-width="0.75"/>
<circle cx="217.50" cy="268.50" r="1.35" fill="none" stroke="#0d62ab" stroke-width="0.75"/>
<circle cx="229.00" cy="268.50" r="1.35" fill="none" stroke="#0d62ab" stroke-width="0.75"/>
<circle cx="230.20" cy="268.50" r="1.35" fill="none" stroke="#0d62ab" stroke-width="0.75"/>
<circle cx="231.40" cy="268.50" r="1.35" fill="none" stroke="#0d62ab" stroke-width="0.75"/>
<circle cx="232.60" cy="268.50" r="1.35" fill="none" stroke="#0d62ab" stroke-width="0.75"/>
<circle cx="233.80" cy="268.50" r="1.35" fill="none" stroke="#0d62ab" stroke-width="0.75"/>
<circle cx="235.00" cy="268.50" r="1.35" fill="none" stroke="#0d62ab" stroke-width="0.75"/>
<circle cx="246.60" cy="268.50" r="1.35" fill="none" stroke="#1a6fb8" stroke-width="0.65"/>
<circle cx="263.40" cy="268.50" r="1.35" fill="none" stroke="#1a6fb8" stroke-width="0.65"/>
<circle cx="280.70" cy="268.50" r="1.35" fill="none" stroke="#1a6fb8" stroke-width="0.65"/>
<circle cx="286.10" cy="268.50" r="1.35" fill="none" stroke="#1a6fb8" stroke-width="0.65"/>
<circle cx="297.90" cy="268.50" r="1.35" fill="none" stroke="#0d62ab" stroke-width="0.75"/>
<circle cx="299.22" cy="268.50" r="1.35" fill="none" stroke="#0d62ab" stroke-width="0.75"/>
<circle cx="300.54" cy="268.50" r="1.35" fill="none" stroke="#0d62ab" stroke-width="0.75"/>
<circle cx="301.86" cy="268.50" r="1.35" fill="none" stroke="#0d62ab" stroke-width="0.75"/>
<circle cx="303.18" cy="268.50" r="1.35" fill="none" stroke="#0d62ab" stroke-width="0.75"/>
<circle cx="304.50" cy="268.50" r="1.35" fill="none" stroke="#0d62ab" stroke-width="0.75"/>
<circle cx="313.60" cy="268.50" r="1.35" fill="none" stroke="#0d62ab" stroke-width="0.75"/>
<circle cx="315.07" cy="268.50" r="1.35" fill="none" stroke="#0d62ab" stroke-width="0.75"/>
<circle cx="316.53" cy="268.50" r="1.35" fill="none" stroke="#0d62ab" stroke-width="0.75"/>
<circle cx="318.00" cy="268.50" r="1.35" fill="none" stroke="#0d62ab" stroke-width="0.75"/>
<circle cx="321.60" cy="268.50" r="1.35" fill="none" stroke="#1a6fb8" stroke-width="0.65"/>
<circle cx="331.00" cy="268.50" r="1.35" fill="none" stroke="#0d62ab" stroke-width="0.75"/>
<circle cx="332.25" cy="268.50" r="1.35" fill="none" stroke="#0d62ab" stroke-width="0.75"/>
<circle cx="333.50" cy="268.50" r="1.35" fill="none" stroke="#0d62ab" stroke-width="0.75"/>
<circle cx="334.75" cy="268.50" r="1.35" fill="none" stroke="#0d62ab" stroke-width="0.75"/>
<circle cx="336.00" cy="268.50" r="1.35" fill="none" stroke="#0d62ab" stroke-width="0.75"/>
<circle cx="338.80" cy="268.50" r="1.35" fill="none" stroke="#1a6fb8" stroke-width="0.65"/>
<circle cx="348.60" cy="268.50" r="1.35" fill="none" stroke="#1a6fb8" stroke-width="0.65"/>
<circle cx="355.20" cy="268.50" r="1.35" fill="none" stroke="#1a6fb8" stroke-width="0.65"/>
<circle cx="210.80" cy="289.10" r="1.35" fill="none" stroke="#0d62ab" stroke-width="0.75"/>
<circle cx="212.00" cy="289.10" r="1.35" fill="none" stroke="#0d62ab" stroke-width="0.75"/>
<circle cx="213.20" cy="289.10" r="1.35" fill="none" stroke="#0d62ab" stroke-width="0.75"/>
<circle cx="214.40" cy="289.10" r="1.35" fill="none" stroke="#0d62ab" stroke-width="0.75"/>
<circle cx="215.60" cy="289.10" r="1.35" fill="none" stroke="#0d62ab" stroke-width="0.75"/>
<circle cx="216.80" cy="289.10" r="1.35" fill="none" stroke="#0d62ab" stroke-width="0.75"/>
<circle cx="218.00" cy="289.10" r="1.35" fill="none" stroke="#0d62ab" stroke-width="0.75"/>
<circle cx="228.00" cy="289.10" r="1.35" fill="none" stroke="#0d62ab" stroke-width="0.75"/>
<circle cx="229.33" cy="289.10" r="1.35" fill="none" stroke="#0d62ab" stroke-width="0.75"/>
<circle cx="230.67" cy="289.10" r="1.35" fill="none" stroke="#0d62ab" stroke-width="0.75"/>
<circle cx="232.00" cy="289.10" r="1.35" fill="none" stroke="#0d62ab" stroke-width="0.75"/>
<circle cx="233.33" cy="289.10" r="1.35" fill="none" stroke="#0d62ab" stroke-width="0.75"/>
<circle cx="234.67" cy="289.10" r="1.35" fill="none" stroke="#0d62ab" stroke-width="0.75"/>
<circle cx="236.00" cy="289.10" r="1.35" fill="none" stroke="#0d62ab" stroke-width="0.75"/>
<circle cx="246.60" cy="289.10" r="1.35" fill="none" stroke="#1a6fb8" stroke-width="0.65"/>
<circle cx="262.90" cy="289.10" r="1.35" fill="none" stroke="#1a6fb8" stroke-width="0.65"/>
<circle cx="279.30" cy="289.10" r="1.35" fill="none" stroke="#0d62ab" stroke-width="0.75"/>
<circle cx="280.54" cy="289.10" r="1.35" fill="none" stroke="#0d62ab" stroke-width="0.75"/>
<circle cx="281.79" cy="289.10" r="1.35" fill="none" stroke="#0d62ab" stroke-width="0.75"/>
<circle cx="283.03" cy="289.10" r="1.35" fill="none" stroke="#0d62ab" stroke-width="0.75"/>
<circle cx="284.27" cy="289.10" r="1.35" fill="none" stroke="#0d62ab" stroke-width="0.75"/>
<circle cx="285.51" cy="289.10" r="1.35" fill="none" stroke="#0d62ab" stroke-width="0.75"/>
<circle cx="286.76" cy="289.10" r="1.35" fill="none" stroke="#0d62ab" stroke-width="0.75"/>
<circle cx="288.00" cy="289.10" r="1.35" fill="none" stroke="#0d62ab" stroke-width="0.75"/>
<circle cx="296.50" cy="289.10" r="1.35" fill="none" stroke="#0d62ab" stroke-width="0.75"/>
<circle cx="297.76" cy="289.10" r="1.35" fill="none" stroke="#0d62ab" stroke-width="0.75"/>
<circle cx="299.01" cy="289.10" r="1.35" fill="none" stroke="#0d62ab" stroke-width="0.75"/>
<circle cx="300.27" cy="289.10" r="1.35" fill="none" stroke="#0d62ab" stroke-width="0.75"/>
<circle cx="301.53" cy="289.10" r="1.35" fill="none" stroke="#0d62ab" stroke-width="0.75"/>
<circle cx="302.79" cy="289.10" r="1.35" fill="none" stroke="#0d62ab" stroke-width="0.75"/>
<circle cx="304.04" cy="289.10" r="1.35" fill="none" stroke="#0d62ab" stroke-width="0.75"/>
<circle cx="305.30" cy="289.10" r="1.35" fill="none" stroke="#0d62ab" stroke-width="0.75"/>
<circle cx="313.30" cy="289.10" r="1.35" fill="none" stroke="#0d62ab" stroke-width="0.75"/>
<circle cx="314.64" cy="289.10" r="1.35" fill="none" stroke="#0d62ab" stroke-width="0.75"/>
<circle cx="315.98" cy="289.10" r="1.35" fill="none" stroke="#0d62ab" stroke-width="0.75"/>
<circle cx="317.31" cy="289.10" r="1.35" fill="none" stroke="#0d62ab" stroke-width="0.75"/>
<circle cx="318.65" cy="289.10" r="1.35" fill="none" stroke="#0d62ab" stroke-width="0.75"/>
<circle cx="319.99" cy="289.10" r="1.35" fill="none" stroke="#0d62ab" stroke-width="0.75"/>
<circle cx="321.32" cy="289.10" r="1.35" fill="none" stroke="#0d62ab" stroke-width="0.75"/>
<circle cx="322.66" cy="289.10" r="1.35" fill="none" stroke="#0d62ab" stroke-width="0.75"/>
<circle cx="324.00" cy="289.10" r="1.35" fill="none" stroke="#0d62ab" stroke-width="0.75"/>
<circle cx="330.30" cy="289.10" r="1.35" fill="none" stroke="#0d62ab" stroke-width="0.75"/>
<circle cx="331.69" cy="289.10" r="1.35" fill="none" stroke="#0d62ab" stroke-width="0.75"/>
<circle cx="333.07" cy="289.10" r="1.35" fill="none" stroke="#0d62ab" stroke-width="0.75"/>
<circle cx="334.46" cy="289.10" r="1.35" fill="none" stroke="#0d62ab" stroke-width="0.75"/>
<circle cx="335.84" cy="289.10" r="1.35" fill="none" stroke="#0d62ab" stroke-width="0.75"/>
<circle cx="337.23" cy="289.10" r="1.35" fill="none" stroke="#0d62ab" stroke-width="0.75"/>
<circle cx="338.61" cy="289.10" r="1.35" fill="none" stroke="#0d62ab" stroke-width="0.75"/>
<circle cx="340.00" cy="289.10" r="1.35" fill="none" stroke="#0d62ab" stroke-width="0.75"/>
<circle cx="349.50" cy="289.10" r="1.35" fill="none" stroke="#1a6fb8" stroke-width="0.65"/>
<circle cx="356.00" cy="289.10" r="1.35" fill="none" stroke="#1a6fb8" stroke-width="0.65"/>
<circle cx="210.80" cy="299.39" r="1.35" fill="none" stroke="#0d62ab" stroke-width="0.75"/>
<circle cx="212.00" cy="299.39" r="1.35" fill="none" stroke="#0d62ab" stroke-width="0.75"/>
<circle cx="213.20" cy="299.39" r="1.35" fill="none" stroke="#0d62ab" stroke-width="0.75"/>
<circle cx="214.40" cy="299.39" r="1.35" fill="none" stroke="#0d62ab" stroke-width="0.75"/>
<circle cx="215.60" cy="299.39" r="1.35" fill="none" stroke="#0d62ab" stroke-width="0.75"/>
<circle cx="216.80" cy="299.39" r="1.35" fill="none" stroke="#0d62ab" stroke-width="0.75"/>
<circle cx="218.00" cy="299.39" r="1.35" fill="none" stroke="#0d62ab" stroke-width="0.75"/>
<circle cx="221.20" cy="299.39" r="1.35" fill="none" stroke="#1a6fb8" stroke-width="0.65"/>
<circle cx="228.00" cy="299.39" r="1.35" fill="none" stroke="#0d62ab" stroke-width="0.75"/>
<circle cx="229.33" cy="299.39" r="1.35" fill="none" stroke="#0d62ab" stroke-width="0.75"/>
<circle cx="230.67" cy="299.39" r="1.35" fill="none" stroke="#0d62ab" stroke-width="0.75"/>
<circle cx="232.00" cy="299.39" r="1.35" fill="none" stroke="#0d62ab" stroke-width="0.75"/>
<circle cx="233.33" cy="299.39" r="1.35" fill="none" stroke="#0d62ab" stroke-width="0.75"/>
<circle cx="234.67" cy="299.39" r="1.35" fill="none" stroke="#0d62ab" stroke-width="0.75"/>
<circle cx="236.00" cy="299.39" r="1.35" fill="none" stroke="#0d62ab" stroke-width="0.75"/>
<circle cx="246.60" cy="299.39" r="1.35" fill="none" stroke="#1a6fb8" stroke-width="0.65"/>
<circle cx="262.90" cy="299.39" r="1.35" fill="none" stroke="#1a6fb8" stroke-width="0.65"/>
<circle cx="279.30" cy="299.39" r="1.35" fill="none" stroke="#0d62ab" stroke-width="0.75"/>
<circle cx="280.54" cy="299.39" r="1.35" fill="none" stroke="#0d62ab" stroke-width="0.75"/>
<circle cx="281.79" cy="299.39" r="1.35" fill="none" stroke="#0d62ab" stroke-width="0.75"/>
<circle cx="283.03" cy="299.39" r="1.35" fill="none" stroke="#0d62ab" stroke-width="0.75"/>
<circle cx="284.27" cy="299.39" r="1.35" fill="none" stroke="#0d62ab" stroke-width="0.75"/>
<circle cx="285.51" cy="299.39" r="1.35" fill="none" stroke="#0d62ab" stroke-width="0.75"/>
<circle cx="286.76" cy="299.39" r="1.35" fill="none" stroke="#0d62ab" stroke-width="0.75"/>
<circle cx="288.00" cy="299.39" r="1.35" fill="none" stroke="#0d62ab" stroke-width="0.75"/>
<circle cx="297.00" cy="299.39" r="1.35" fill="none" stroke="#0d62ab" stroke-width="0.75"/>
<circle cx="298.20" cy="299.39" r="1.35" fill="none" stroke="#0d62ab" stroke-width="0.75"/>
<circle cx="299.40" cy="299.39" r="1.35" fill="none" stroke="#0d62ab" stroke-width="0.75"/>
<circle cx="300.60" cy="299.39" r="1.35" fill="none" stroke="#0d62ab" stroke-width="0.75"/>
<circle cx="301.80" cy="299.39" r="1.35" fill="none" stroke="#0d62ab" stroke-width="0.75"/>
<circle cx="303.00" cy="299.39" r="1.35" fill="none" stroke="#0d62ab" stroke-width="0.75"/>
<circle cx="314.00" cy="299.39" r="1.35" fill="none" stroke="#0d62ab" stroke-width="0.75"/>
<circle cx="315.40" cy="299.39" r="1.35" fill="none" stroke="#0d62ab" stroke-width="0.75"/>
<circle cx="316.80" cy="299.39" r="1.35" fill="none" stroke="#0d62ab" stroke-width="0.75"/>
<circle cx="318.20" cy="299.39" r="1.35" fill="none" stroke="#0d62ab" stroke-width="0.75"/>
<circle cx="319.60" cy="299.39" r="1.35" fill="none" stroke="#0d62ab" stroke-width="0.75"/>
<circle cx="321.00" cy="299.39" r="1.35" fill="none" stroke="#0d62ab" stroke-width="0.75"/>
<circle cx="332.30" cy="299.39" r="1.35" fill="none" stroke="#1a6fb8" stroke-width="0.65"/>
<circle cx="210.80" cy="309.69" r="1.35" fill="none" stroke="#0d62ab" stroke-width="0.75"/>
<circle cx="212.00" cy="309.69" r="1.35" fill="none" stroke="#0d62ab" stroke-width="0.75"/>
<circle cx="213.20" cy="309.69" r="1.35" fill="none" stroke="#0d62ab" stroke-width="0.75"/>
<circle cx="214.40" cy="309.69" r="1.35" fill="none" stroke="#0d62ab" stroke-width="0.75"/>
<circle cx="215.60" cy="309.69" r="1.35" fill="none" stroke="#0d62ab" stroke-width="0.75"/>
<circle cx="216.80" cy="309.69" r="1.35" fill="none" stroke="#0d62ab" stroke-width="0.75"/>
<circle cx="218.00" cy="309.69" r="1.35" fill="none" stroke="#0d62ab" stroke-width="0.75"/>
<circle cx="221.20" cy="309.69" r="1.35" fill="none" stroke="#1a6fb8" stroke-width="0.65"/>
<circle cx="228.00" cy="309.69" r="1.35" fill="none" stroke="#0d62ab" stroke-width="0.75"/>
<circle cx="229.33" cy="309.69" r="1.35" fill="none" stroke="#0d62ab" stroke-width="0.75"/>
<circle cx="230.67" cy="309.69" r="1.35" fill="none" stroke="#0d62ab" stroke-width="0.75"/>
<circle cx="232.00" cy="309.69" r="1.35" fill="none" stroke="#0d62ab" stroke-width="0.75"/>
<circle cx="233.33" cy="309.69" r="1.35" fill="none" stroke="#0d62ab" stroke-width="0.75"/>
<circle cx="234.67" cy="309.69" r="1.35" fill="none" stroke="#0d62ab" stroke-width="0.75"/>
<circle cx="236.00" cy="309.69" r="1.35" fill="none" stroke="#0d62ab" stroke-width="0.75"/>
<circle cx="246.60" cy="309.69" r="1.35" fill="none" stroke="#1a6fb8" stroke-width="0.65"/>
<circle cx="252.30" cy="309.69" r="1.35" fill="none" stroke="#1a6fb8" stroke-width="0.65"/>
<circle cx="262.90" cy="309.69" r="1.35" fill="none" stroke="#1a6fb8" stroke-width="0.65"/>
<circle cx="279.30" cy="309.69" r="1.35" fill="none" stroke="#0d62ab" stroke-width="0.75"/>
<circle cx="280.54" cy="309.69" r="1.35" fill="none" stroke="#0d62ab" stroke-width="0.75"/>
<circle cx="281.79" cy="309.69" r="1.35" fill="none" stroke="#0d62ab" stroke-width="0.75"/>
<circle cx="283.03" cy="309.69" r="1.35" fill="none" stroke="#0d62ab" stroke-width="0.75"/>
<circle cx="284.27" cy="309.69" r="1.35" fill="none" stroke="#0d62ab" stroke-width="0.75"/>
<circle cx="285.51" cy="309.69" r="1.35" fill="none" stroke="#0d62ab" stroke-width="0.75"/>
<circle cx="286.76" cy="309.69" r="1.35" fill="none" stroke="#0d62ab" stroke-width="0.75"/>
<circle cx="288.00" cy="309.69" r="1.35" fill="none" stroke="#0d62ab" stroke-width="0.75"/>
<circle cx="297.00" cy="309.69" r="1.35" fill="none" stroke="#0d62ab" stroke-width="0.75"/>
<circle cx="298.33" cy="309.69" r="1.35" fill="none" stroke="#0d62ab" stroke-width="0.75"/>
<circle cx="299.67" cy="309.69" r="1.35" fill="none" stroke="#0d62ab" stroke-width="0.75"/>
<circle cx="301.00" cy="309.69" r="1.35" fill="none" stroke="#0d62ab" stroke-width="0.75"/>
<circle cx="302.33" cy="309.69" r="1.35" fill="none" stroke="#0d62ab" stroke-width="0.75"/>
<circle cx="303.67" cy="309.69" r="1.35" fill="none" stroke="#0d62ab" stroke-width="0.75"/>
<circle cx="305.00" cy="309.69" r="1.35" fill="none" stroke="#0d62ab" stroke-width="0.75"/>
<circle cx="313.30" cy="309.69" r="1.35" fill="none" stroke="#0d62ab" stroke-width="0.75"/>
<circle cx="314.54" cy="309.69" r="1.35" fill="none" stroke="#0d62ab" stroke-width="0.75"/>
<circle cx="315.79" cy="309.69" r="1.35" fill="none" stroke="#0d62ab" stroke-width="0.75"/>
<circle cx="317.03" cy="309.69" r="1.35" fill="none" stroke="#0d62ab" stroke-width="0.75"/>
<circle cx="318.27" cy="309.69" r="1.35" fill="none" stroke="#0d62ab" stroke-width="0.75"/>
<circle cx="319.51" cy="309.69" r="1.35" fill="none" stroke="#0d62ab" stroke-width="0.75"/>
<circle cx="320.76" cy="309.69" r="1.35" fill="none" stroke="#0d62ab" stroke-width="0.75"/>
<circle cx="322.00" cy="309.69" r="1.35" fill="none" stroke="#0d62ab" stroke-width="0.75"/>
<circle cx="210.80" cy="319.99" r="1.35" fill="none" stroke="#0d62ab" stroke-width="0.75"/>
<circle cx="212.00" cy="319.99" r="1.35" fill="none" stroke="#0d62ab" stroke-width="0.75"/>
<circle cx="213.20" cy="319.99" r="1.35" fill="none" stroke="#0d62ab" stroke-width="0.75"/>
<circle cx="214.40" cy="319.99" r="1.35" fill="none" stroke="#0d62ab" stroke-width="0.75"/>
<circle cx="215.60" cy="319.99" r="1.35" fill="none" stroke="#0d62ab" stroke-width="0.75"/>
<circle cx="216.80" cy="319.99" r="1.35" fill="none" stroke="#0d62ab" stroke-width="0.75"/>
<circle cx="218.00" cy="319.99" r="1.35" fill="none" stroke="#0d62ab" stroke-width="0.75"/>
<circle cx="221.20" cy="319.99" r="1.35" fill="none" stroke="#1a6fb8" stroke-width="0.65"/>
<circle cx="228.00" cy="319.99" r="1.35" fill="none" stroke="#0d62ab" stroke-width="0.75"/>
<circle cx="229.33" cy="319.99" r="1.35" fill="none" stroke="#0d62ab" stroke-width="0.75"/>
<circle cx="230.67" cy="319.99" r="1.35" fill="none" stroke="#0d62ab" stroke-width="0.75"/>
<circle cx="232.00" cy="319.99" r="1.35" fill="none" stroke="#0d62ab" stroke-width="0.75"/>
<circle cx="233.33" cy="319.99" r="1.35" fill="none" stroke="#0d62ab" stroke-width="0.75"/>
<circle cx="234.67" cy="319.99" r="1.35" fill="none" stroke="#0d62ab" stroke-width="0.75"/>
<circle cx="236.00" cy="319.99" r="1.35" fill="none" stroke="#0d62ab" stroke-width="0.75"/>
<circle cx="246.60" cy="319.99" r="1.35" fill="none" stroke="#1a6fb8" stroke-width="0.65"/>
<circle cx="252.30" cy="319.99" r="1.35" fill="none" stroke="#1a6fb8" stroke-width="0.65"/>
<circle cx="262.90" cy="319.99" r="1.35" fill="none" stroke="#1a6fb8" stroke-width="0.65"/>
<circle cx="279.30" cy="319.99" r="1.35" fill="none" stroke="#0d62ab" stroke-width="0.75"/>
<circle cx="280.54" cy="319.99" r="1.35" fill="none" stroke="#0d62ab" stroke-width="0.75"/>
<circle cx="281.79" cy="319.99" r="1.35" fill="none" stroke="#0d62ab" stroke-width="0.75"/>
<circle cx="283.03" cy="319.99" r="1.35" fill="none" stroke="#0d62ab" stroke-width="0.75"/>
<circle cx="284.27" cy="319.99" r="1.35" fill="none" stroke="#0d62ab" stroke-width="0.75"/>
<circle cx="285.51" cy="319.99" r="1.35" fill="none" stroke="#0d62ab" stroke-width="0.75"/>
<circle cx="286.76" cy="319.99" r="1.35" fill="none" stroke="#0d62ab" stroke-width="0.75"/>
<circle cx="288.00" cy="319.99" r="1.35" fill="none" stroke="#0d62ab" stroke-width="0.75"/>
<circle cx="297.00" cy="319.99" r="1.35" fill="none" stroke="#0d62ab" stroke-width="0.75"/>
<circle cx="298.29" cy="319.99" r="1.35" fill="none" stroke="#0d62ab" stroke-width="0.75"/>
<circle cx="299.57" cy="319.99" r="1.35" fill="none" stroke="#0d62ab" stroke-width="0.75"/>
<circle cx="300.86" cy="319.99" r="1.35" fill="none" stroke="#0d62ab" stroke-width="0.75"/>
<circle cx="302.14" cy="319.99" r="1.35" fill="none" stroke="#0d62ab" stroke-width="0.75"/>
<circle cx="303.43" cy="319.99" r="1.35" fill="none" stroke="#0d62ab" stroke-width="0.75"/>
<circle cx="304.71" cy="319.99" r="1.35" fill="none" stroke="#0d62ab" stroke-width="0.75"/>
<circle cx="306.00" cy="319.99" r="1.35" fill="none" stroke="#0d62ab" stroke-width="0.75"/>
<circle cx="317.00" cy="319.99" r="1.35" fill="none" stroke="#1a6fb8" stroke-width="0.65"/>
<circle cx="210.80" cy="330.29" r="1.35" fill="none" stroke="#1a6fb8" stroke-width="0.65"/>
<circle cx="213.20" cy="330.29" r="1.35" fill="none" stroke="#1a6fb8" stroke-width="0.65"/>
<circle cx="215.60" cy="330.29" r="1.35" fill="none" stroke="#1a6fb8" stroke-width="0.65"/>
<circle cx="218.00" cy="330.29" r="1.35" fill="none" stroke="#1a6fb8" stroke-width="0.65"/>
<circle cx="221.20" cy="330.29" r="1.35" fill="none" stroke="#1a6fb8" stroke-width="0.65"/>
<circle cx="228.00" cy="330.29" r="1.35" fill="none" stroke="#1a6fb8" stroke-width="0.65"/>
<circle cx="230.67" cy="330.29" r="1.35" fill="none" stroke="#1a6fb8" stroke-width="0.65"/>
<circle cx="233.33" cy="330.29" r="1.35" fill="none" stroke="#1a6fb8" stroke-width="0.65"/>
<circle cx="236.00" cy="330.29" r="1.35" fill="none" stroke="#1a6fb8" stroke-width="0.65"/>
<circle cx="246.60" cy="330.29" r="1.35" fill="none" stroke="#1a6fb8" stroke-width="0.65"/>
<circle cx="252.30" cy="330.29" r="1.35" fill="none" stroke="#1a6fb8" stroke-width="0.65"/>
<circle cx="262.00" cy="330.29" r="1.35" fill="none" stroke="#1a6fb8" stroke-width="0.65"/>
<circle cx="264.50" cy="330.29" r="1.35" fill="none" stroke="#1a6fb8" stroke-width="0.65"/>
<circle cx="267.00" cy="330.29" r="1.35" fill="none" stroke="#1a6fb8" stroke-width="0.65"/>
<circle cx="280.70" cy="330.29" r="1.35" fill="none" stroke="#1a6fb8" stroke-width="0.65"/>
<circle cx="286.00" cy="330.29" r="1.35" fill="none" stroke="#1a6fb8" stroke-width="0.65"/>
<circle cx="299.60" cy="330.29" r="1.35" fill="none" stroke="#1a6fb8" stroke-width="0.65"/>
<circle cx="304.50" cy="330.29" r="1.35" fill="none" stroke="#1a6fb8" stroke-width="0.65"/>
<circle cx="217.10" cy="350.89" r="1.35" fill="none" stroke="#1a6fb8" stroke-width="0.65"/>
<circle cx="231.80" cy="350.89" r="1.35" fill="none" stroke="#1a6fb8" stroke-width="0.65"/>
<circle cx="235.10" cy="350.89" r="1.35" fill="none" stroke="#1a6fb8" stroke-width="0.65"/>
<circle cx="246.60" cy="350.89" r="1.35" fill="none" stroke="#1a6fb8" stroke-width="0.65"/>
<circle cx="252.30" cy="350.89" r="1.35" fill="none" stroke="#1a6fb8" stroke-width="0.65"/>
<circle cx="262.90" cy="350.89" r="1.35" fill="none" stroke="#1a6fb8" stroke-width="0.65"/>
<circle cx="264.95" cy="350.89" r="1.35" fill="none" stroke="#1a6fb8" stroke-width="0.65"/>
<circle cx="267.00" cy="350.89" r="1.35" fill="none" stroke="#1a6fb8" stroke-width="0.65"/>
<circle cx="280.00" cy="350.89" r="1.35" fill="none" stroke="#1a6fb8" stroke-width="0.65"/>
<text x="199.70" y="229.60" font-family="Liberation Sans, sans-serif" font-size="5.0" font-weight="normal" fill="#555555" text-anchor="end">-46</text>
<text x="199.70" y="250.20" font-family="Liberation Sans, sans-serif" font-size="5.0" font-weight="normal" fill="#555555" text-anchor="end">-48</text>
<text x="199.70" y="270.80" font-family="Liberation Sans, sans-serif" font-size="5.0" font-weight="normal" fill="#555555" text-anchor="end">-50</text>
<text x="199.70" y="291.40" font-family="Liberation Sans, sans-serif" font-size="5.0" font-weight="normal" fill="#555555" text-anchor="end">-52</text>
<text x="199.70" y="311.99" font-family="Liberation Sans, sans-serif" font-size="5.0" font-weight="normal" fill="#555555" text-anchor="end">-54</text>
<text x="199.70" y="332.59" font-family="Liberation Sans, sans-serif" font-size="5.0" font-weight="normal" fill="#555555" text-anchor="end">-56</text>
<text x="199.70" y="353.19" font-family="Liberation Sans, sans-serif" font-size="5.0" font-weight="normal" fill="#555555" text-anchor="end">-58</text>
<text x="202.40" y="358.70" font-family="Liberation Sans, sans-serif" font-size="5.0" font-weight="normal" fill="#555555" text-anchor="middle">13:57</text>
<text x="219.40" y="358.70" font-family="Liberation Sans, sans-serif" font-size="5.0" font-weight="normal" fill="#555555" text-anchor="middle">13:58</text>
<text x="236.40" y="358.70" font-family="Liberation Sans, sans-serif" font-size="5.0" font-weight="normal" fill="#555555" text-anchor="middle">13:59</text>
<text x="253.40" y="358.70" font-family="Liberation Sans, sans-serif" font-size="5.0" font-weight="normal" fill="#555555" text-anchor="middle">14:00</text>
<text x="270.40" y="358.70" font-family="Liberation Sans, sans-serif" font-size="5.0" font-weight="normal" fill="#555555" text-anchor="middle">14:01</text>
<text x="287.40" y="358.70" font-family="Liberation Sans, sans-serif" font-size="5.0" font-weight="normal" fill="#555555" text-anchor="middle">14:02</text>
<text x="304.40" y="358.70" font-family="Liberation Sans, sans-serif" font-size="5.0" font-weight="normal" fill="#555555" text-anchor="middle">14:03</text>
<text x="321.40" y="358.70" font-family="Liberation Sans, sans-serif" font-size="5.0" font-weight="normal" fill="#555555" text-anchor="middle">14:04</text>
<text x="338.40" y="358.70" font-family="Liberation Sans, sans-serif" font-size="5.0" font-weight="normal" fill="#555555" text-anchor="middle">14:05</text>
<text x="355.40" y="358.70" font-family="Liberation Sans, sans-serif" font-size="5.0" font-weight="normal" fill="#555555" text-anchor="middle">14:06</text>
<text x="283.20" y="214.50" font-family="Liberation Sans, sans-serif" font-size="5.5" font-weight="bold" fill="#1a1a1a" text-anchor="middle" textLength="88.30" lengthAdjust="spacingAndGlyphs">Experiment 4 Tag 2 Room 1(RFID)</text>
<text x="189.40" y="284.00" font-family="Liberation Sans, sans-serif" font-size="5.0" font-weight="normal" fill="#555555" text-anchor="middle" transform="rotate(-90 189.40 284.00)">RSSI</text>
<text x="283.20" y="366.30" font-family="Liberation Sans, sans-serif" font-size="5.2" font-weight="normal" fill="#333333" text-anchor="middle">Time</text>
<text x="360.00" y="366.30" font-family="Liberation Sans, sans-serif" font-size="5.0" font-weight="normal" fill="#333333" text-anchor="end" textLength="29.00" lengthAdjust="spacingAndGlyphs">Oct 17, 2022</text>
<rect x="307.30" y="221.40" width="52.30" height="13.20" fill="#ffffff" stroke="#bdbdbd" stroke-width="0.5"/>
<rect x="309.10" y="222.60" width="14.20" height="5.00" fill="#5dcbf0"/>
<rect x="309.10" y="228.60" width="14.20" height="5.00" fill="#d75c62"/>
<text x="324.50" y="226.60" font-family="Liberation Sans, sans-serif" font-size="4.5" font-weight="normal" fill="#222" text-anchor="start" textLength="34.20" lengthAdjust="spacingAndGlyphs">Staying Detected</text>
<text x="324.50" y="232.60" font-family="Liberation Sans, sans-serif" font-size="4.5" font-weight="normal" fill="#222" text-anchor="start" textLength="25.50" lengthAdjust="spacingAndGlyphs">Not Detected</text>
<line x1="386.50" y1="233.59" x2="538.80" y2="233.59" stroke="#262626" stroke-width="0.7" stroke-opacity="0.09"/>
<line x1="386.50" y1="250.38" x2="538.80" y2="250.38" stroke="#262626" stroke-width="0.7" stroke-opacity="0.09"/>
<line x1="386.50" y1="267.16" x2="538.80" y2="267.16" stroke="#262626" stroke-width="0.7" stroke-opacity="0.09"/>
<line x1="386.50" y1="283.95" x2="538.80" y2="283.95" stroke="#262626" stroke-width="0.7" stroke-opacity="0.09"/>
<line x1="386.50" y1="300.74" x2="538.80" y2="300.74" stroke="#262626" stroke-width="0.7" stroke-opacity="0.09"/>
<line x1="386.50" y1="317.53" x2="538.80" y2="317.53" stroke="#262626" stroke-width="0.7" stroke-opacity="0.09"/>
<line x1="386.50" y1="334.31" x2="538.80" y2="334.31" stroke="#262626" stroke-width="0.7" stroke-opacity="0.09"/>
<line x1="405.80" y1="216.80" x2="405.80" y2="351.10" stroke="#262626" stroke-width="0.7" stroke-opacity="0.1"/>
<line x1="438.80" y1="216.80" x2="438.80" y2="351.10" stroke="#262626" stroke-width="0.7" stroke-opacity="0.1"/>
<line x1="471.80" y1="216.80" x2="471.80" y2="351.10" stroke="#262626" stroke-width="0.7" stroke-opacity="0.1"/>
<line x1="505.00" y1="216.80" x2="505.00" y2="351.10" stroke="#262626" stroke-width="0.7" stroke-opacity="0.1"/>
<line x1="386.50" y1="300.50" x2="538.80" y2="300.50" stroke="#a6a6a6" stroke-width="0.9"/>
<text x="516.40" y="298.50" font-family="Liberation Sans, sans-serif" font-size="5.0" font-weight="normal" fill="#3a3a3a" text-anchor="start" textLength="19.60" lengthAdjust="spacingAndGlyphs">Threshold</text>
<polyline points="389.40,314.17 391.10,307.45 393.40,304.10 395.50,287.31 400.30,247.02 402.20,230.23 404.60,300.74 406.80,307.45 409.00,304.10 417.70,257.09 419.90,260.45 424.60,310.81 431.30,273.88 433.30,287.31 440.00,310.81 442.20,304.10 447.50,253.73 450.50,273.88 451.50,290.67 453.40,307.45 459.50,304.10 461.80,300.74 462.80,297.38 464.30,290.67 466.20,283.95 469.00,287.31 474.20,310.81 484.00,270.52 488.60,314.17 493.20,314.17 497.10,287.31 499.40,236.95 501.70,267.16 510.20,330.96 514.90,283.95 519.50,317.53 524.10,341.03" fill="none" stroke="#e2643a" stroke-width="0.6" stroke-linejoin="round"/>
<circle cx="389.40" cy="314.17" r="1.6" fill="none" stroke="#e2643a" stroke-width="0.5"/>
<circle cx="391.10" cy="307.45" r="1.6" fill="none" stroke="#e2643a" stroke-width="0.5"/>
<circle cx="393.40" cy="304.10" r="1.6" fill="none" stroke="#e2643a" stroke-width="0.5"/>
<circle cx="395.50" cy="287.31" r="1.6" fill="none" stroke="#e2643a" stroke-width="0.5"/>
<circle cx="400.30" cy="247.02" r="1.6" fill="none" stroke="#e2643a" stroke-width="0.5"/>
<circle cx="402.20" cy="230.23" r="1.6" fill="none" stroke="#e2643a" stroke-width="0.5"/>
<circle cx="404.60" cy="300.74" r="1.6" fill="none" stroke="#e2643a" stroke-width="0.5"/>
<circle cx="406.80" cy="307.45" r="1.6" fill="none" stroke="#e2643a" stroke-width="0.5"/>
<circle cx="409.00" cy="304.10" r="1.6" fill="none" stroke="#e2643a" stroke-width="0.5"/>
<circle cx="417.70" cy="257.09" r="1.6" fill="none" stroke="#e2643a" stroke-width="0.5"/>
<circle cx="419.90" cy="260.45" r="1.6" fill="none" stroke="#e2643a" stroke-width="0.5"/>
<circle cx="424.60" cy="310.81" r="1.6" fill="none" stroke="#e2643a" stroke-width="0.5"/>
<circle cx="431.30" cy="273.88" r="1.6" fill="none" stroke="#e2643a" stroke-width="0.5"/>
<circle cx="433.30" cy="287.31" r="1.6" fill="none" stroke="#e2643a" stroke-width="0.5"/>
<circle cx="440.00" cy="310.81" r="1.6" fill="none" stroke="#e2643a" stroke-width="0.5"/>
<circle cx="442.20" cy="304.10" r="1.6" fill="none" stroke="#e2643a" stroke-width="0.5"/>
<circle cx="447.50" cy="253.73" r="1.6" fill="none" stroke="#e2643a" stroke-width="0.5"/>
<circle cx="450.50" cy="273.88" r="1.6" fill="none" stroke="#e2643a" stroke-width="0.5"/>
<circle cx="451.50" cy="290.67" r="1.6" fill="none" stroke="#e2643a" stroke-width="0.5"/>
<circle cx="453.40" cy="307.45" r="1.6" fill="none" stroke="#e2643a" stroke-width="0.5"/>
<circle cx="459.50" cy="304.10" r="1.6" fill="none" stroke="#e2643a" stroke-width="0.5"/>
<circle cx="461.80" cy="300.74" r="1.6" fill="none" stroke="#e2643a" stroke-width="0.5"/>
<circle cx="462.80" cy="297.38" r="1.6" fill="none" stroke="#e2643a" stroke-width="0.5"/>
<circle cx="464.30" cy="290.67" r="1.6" fill="none" stroke="#e2643a" stroke-width="0.5"/>
<circle cx="466.20" cy="283.95" r="1.6" fill="none" stroke="#e2643a" stroke-width="0.5"/>
<circle cx="469.00" cy="287.31" r="1.6" fill="none" stroke="#e2643a" stroke-width="0.5"/>
<circle cx="474.20" cy="310.81" r="1.6" fill="none" stroke="#e2643a" stroke-width="0.5"/>
<circle cx="484.00" cy="270.52" r="1.6" fill="none" stroke="#e2643a" stroke-width="0.5"/>
<circle cx="488.60" cy="314.17" r="1.6" fill="none" stroke="#e2643a" stroke-width="0.5"/>
<circle cx="493.20" cy="314.17" r="1.6" fill="none" stroke="#e2643a" stroke-width="0.5"/>
<circle cx="497.10" cy="287.31" r="1.6" fill="none" stroke="#e2643a" stroke-width="0.5"/>
<circle cx="499.40" cy="236.95" r="1.6" fill="none" stroke="#e2643a" stroke-width="0.5"/>
<circle cx="501.70" cy="267.16" r="1.6" fill="none" stroke="#e2643a" stroke-width="0.5"/>
<circle cx="510.20" cy="330.96" r="1.6" fill="none" stroke="#e2643a" stroke-width="0.5"/>
<circle cx="514.90" cy="283.95" r="1.6" fill="none" stroke="#e2643a" stroke-width="0.5"/>
<circle cx="519.50" cy="317.53" r="1.6" fill="none" stroke="#e2643a" stroke-width="0.5"/>
<circle cx="524.10" cy="341.03" r="1.6" fill="none" stroke="#e2643a" stroke-width="0.5"/>
<polyline points="395.50,250.38 400.30,250.38 406.10,250.38 408.70,263.81 411.20,263.81 417.70,263.81 419.90,260.45 422.10,250.38 426.50,243.66 428.60,247.02 433.00,253.73 435.20,250.38 439.50,250.38 441.70,260.45 446.10,260.45 450.50,260.45 453.10,257.09 455.30,247.02 460.60,247.02 461.50,247.02 463.90,250.38 466.20,247.02 470.50,253.73 477.00,250.38 479.30,257.09 483.50,260.45 490.60,250.38 493.20,250.38 497.10,250.38 504.00,257.09 506.40,263.81 510.20,267.16 514.40,257.09 517.20,247.02 521.00,247.02 525.70,247.02 530.30,250.38 535.00,253.73" fill="none" stroke="#1f77c4" stroke-width="0.8" stroke-linejoin="round"/>
<circle cx="395.50" cy="250.38" r="0.6" fill="#1f77c4" stroke="#1f77c4" stroke-width="0.5"/>
<circle cx="400.30" cy="250.38" r="0.6" fill="#1f77c4" stroke="#1f77c4" stroke-width="0.5"/>
<circle cx="406.10" cy="250.38" r="0.6" fill="#1f77c4" stroke="#1f77c4" stroke-width="0.5"/>
<circle cx="408.70" cy="263.81" r="0.6" fill="#1f77c4" stroke="#1f77c4" stroke-width="0.5"/>
<circle cx="411.20" cy="263.81" r="0.6" fill="#1f77c4" stroke="#1f77c4" stroke-width="0.5"/>
<circle cx="417.70" cy="263.81" r="0.6" fill="#1f77c4" stroke="#1f77c4" stroke-width="0.5"/>
<circle cx="419.90" cy="260.45" r="0.6" fill="#1f77c4" stroke="#1f77c4" stroke-width="0.5"/>
<circle cx="422.10" cy="250.38" r="0.6" fill="#1f77c4" stroke="#1f77c4" stroke-width="0.5"/>
<circle cx="426.50" cy="243.66" r="0.6" fill="#1f77c4" stroke="#1f77c4" stroke-width="0.5"/>
<circle cx="428.60" cy="247.02" r="0.6" fill="#1f77c4" stroke="#1f77c4" stroke-width="0.5"/>
<circle cx="433.00" cy="253.73" r="0.6" fill="#1f77c4" stroke="#1f77c4" stroke-width="0.5"/>
<circle cx="435.20" cy="250.38" r="0.6" fill="#1f77c4" stroke="#1f77c4" stroke-width="0.5"/>
<circle cx="439.50" cy="250.38" r="0.6" fill="#1f77c4" stroke="#1f77c4" stroke-width="0.5"/>
<circle cx="441.70" cy="260.45" r="0.6" fill="#1f77c4" stroke="#1f77c4" stroke-width="0.5"/>
<circle cx="446.10" cy="260.45" r="0.6" fill="#1f77c4" stroke="#1f77c4" stroke-width="0.5"/>
<circle cx="450.50" cy="260.45" r="0.6" fill="#1f77c4" stroke="#1f77c4" stroke-width="0.5"/>
<circle cx="453.10" cy="257.09" r="0.6" fill="#1f77c4" stroke="#1f77c4" stroke-width="0.5"/>
<circle cx="455.30" cy="247.02" r="0.6" fill="#1f77c4" stroke="#1f77c4" stroke-width="0.5"/>
<circle cx="460.60" cy="247.02" r="0.6" fill="#1f77c4" stroke="#1f77c4" stroke-width="0.5"/>
<circle cx="461.50" cy="247.02" r="0.6" fill="#1f77c4" stroke="#1f77c4" stroke-width="0.5"/>
<circle cx="463.90" cy="250.38" r="0.6" fill="#1f77c4" stroke="#1f77c4" stroke-width="0.5"/>
<circle cx="466.20" cy="247.02" r="0.6" fill="#1f77c4" stroke="#1f77c4" stroke-width="0.5"/>
<circle cx="470.50" cy="253.73" r="0.6" fill="#1f77c4" stroke="#1f77c4" stroke-width="0.5"/>
<circle cx="477.00" cy="250.38" r="0.6" fill="#1f77c4" stroke="#1f77c4" stroke-width="0.5"/>
<circle cx="479.30" cy="257.09" r="0.6" fill="#1f77c4" stroke="#1f77c4" stroke-width="0.5"/>
<circle cx="483.50" cy="260.45" r="0.6" fill="#1f77c4" stroke="#1f77c4" stroke-width="0.5"/>
<circle cx="490.60" cy="250.38" r="0.6" fill="#1f77c4" stroke="#1f77c4" stroke-width="0.5"/>
<circle cx="493.20" cy="250.38" r="0.6" fill="#1f77c4" stroke="#1f77c4" stroke-width="0.5"/>
<circle cx="497.10" cy="250.38" r="0.6" fill="#1f77c4" stroke="#1f77c4" stroke-width="0.5"/>
<circle cx="504.00" cy="257.09" r="0.6" fill="#1f77c4" stroke="#1f77c4" stroke-width="0.5"/>
<circle cx="506.40" cy="263.81" r="0.6" fill="#1f77c4" stroke="#1f77c4" stroke-width="0.5"/>
<circle cx="510.20" cy="267.16" r="0.6" fill="#1f77c4" stroke="#1f77c4" stroke-width="0.5"/>
<circle cx="514.40" cy="257.09" r="0.6" fill="#1f77c4" stroke="#1f77c4" stroke-width="0.5"/>
<circle cx="517.20" cy="247.02" r="0.6" fill="#1f77c4" stroke="#1f77c4" stroke-width="0.5"/>
<circle cx="521.00" cy="247.02" r="0.6" fill="#1f77c4" stroke="#1f77c4" stroke-width="0.5"/>
<circle cx="525.70" cy="247.02" r="0.6" fill="#1f77c4" stroke="#1f77c4" stroke-width="0.5"/>
<circle cx="530.30" cy="250.38" r="0.6" fill="#1f77c4" stroke="#1f77c4" stroke-width="0.5"/>
<circle cx="535.00" cy="253.73" r="0.6" fill="#1f77c4" stroke="#1f77c4" stroke-width="0.5"/>
<line x1="386.50" y1="216.80" x2="538.80" y2="216.80" stroke="#bcbcbc" stroke-width="0.7"/>
<line x1="538.80" y1="216.80" x2="538.80" y2="351.10" stroke="#bcbcbc" stroke-width="0.7"/>
<line x1="386.50" y1="216.80" x2="386.50" y2="351.10" stroke="#858585" stroke-width="0.8"/>
<line x1="386.50" y1="351.10" x2="538.80" y2="351.10" stroke="#858585" stroke-width="0.8"/>
<line x1="405.80" y1="351.10" x2="405.80" y2="349.90" stroke="#5a5a5a" stroke-width="0.4"/>
<line x1="438.80" y1="351.10" x2="438.80" y2="349.90" stroke="#5a5a5a" stroke-width="0.4"/>
<line x1="471.80" y1="351.10" x2="471.80" y2="349.90" stroke="#5a5a5a" stroke-width="0.4"/>
<line x1="505.00" y1="351.10" x2="505.00" y2="349.90" stroke="#5a5a5a" stroke-width="0.4"/>
<line x1="538.30" y1="351.10" x2="538.30" y2="349.90" stroke="#5a5a5a" stroke-width="0.4"/>
<line x1="386.50" y1="216.80" x2="387.70" y2="216.80" stroke="#5a5a5a" stroke-width="0.4"/>
<line x1="386.50" y1="233.59" x2="387.70" y2="233.59" stroke="#5a5a5a" stroke-width="0.4"/>
<line x1="386.50" y1="250.38" x2="387.70" y2="250.38" stroke="#5a5a5a" stroke-width="0.4"/>
<line x1="386.50" y1="267.16" x2="387.70" y2="267.16" stroke="#5a5a5a" stroke-width="0.4"/>
<line x1="386.50" y1="283.95" x2="387.70" y2="283.95" stroke="#5a5a5a" stroke-width="0.4"/>
<line x1="386.50" y1="300.74" x2="387.70" y2="300.74" stroke="#5a5a5a" stroke-width="0.4"/>
<line x1="386.50" y1="317.53" x2="387.70" y2="317.53" stroke="#5a5a5a" stroke-width="0.4"/>
<line x1="386.50" y1="334.31" x2="387.70" y2="334.31" stroke="#5a5a5a" stroke-width="0.4"/>
<line x1="386.50" y1="351.10" x2="387.70" y2="351.10" stroke="#5a5a5a" stroke-width="0.4"/>
<text x="384.30" y="219.10" font-family="Liberation Sans, sans-serif" font-size="5.0" font-weight="normal" fill="#555555" text-anchor="end">-60</text>
<text x="384.30" y="235.89" font-family="Liberation Sans, sans-serif" font-size="5.0" font-weight="normal" fill="#555555" text-anchor="end">-65</text>
<text x="384.30" y="252.68" font-family="Liberation Sans, sans-serif" font-size="5.0" font-weight="normal" fill="#555555" text-anchor="end">-70</text>
<text x="384.30" y="269.46" font-family="Liberation Sans, sans-serif" font-size="5.0" font-weight="normal" fill="#555555" text-anchor="end">-75</text>
<text x="384.30" y="286.25" font-family="Liberation Sans, sans-serif" font-size="5.0" font-weight="normal" fill="#555555" text-anchor="end">-80</text>
<text x="384.30" y="303.04" font-family="Liberation Sans, sans-serif" font-size="5.0" font-weight="normal" fill="#555555" text-anchor="end">-85</text>
<text x="384.30" y="319.83" font-family="Liberation Sans, sans-serif" font-size="5.0" font-weight="normal" fill="#555555" text-anchor="end">-90</text>
<text x="384.30" y="336.61" font-family="Liberation Sans, sans-serif" font-size="5.0" font-weight="normal" fill="#555555" text-anchor="end">-95</text>
<text x="384.30" y="353.40" font-family="Liberation Sans, sans-serif" font-size="5.0" font-weight="normal" fill="#555555" text-anchor="end">-100</text>
<text x="405.80" y="358.70" font-family="Liberation Sans, sans-serif" font-size="5.0" font-weight="normal" fill="#555555" text-anchor="middle">13:58:00</text>
<text x="438.80" y="358.70" font-family="Liberation Sans, sans-serif" font-size="5.0" font-weight="normal" fill="#555555" text-anchor="middle">14:00:00</text>
<text x="471.80" y="358.70" font-family="Liberation Sans, sans-serif" font-size="5.0" font-weight="normal" fill="#555555" text-anchor="middle">14:02:00</text>
<text x="505.00" y="358.70" font-family="Liberation Sans, sans-serif" font-size="5.0" font-weight="normal" fill="#555555" text-anchor="middle">14:04:00</text>
<text x="538.30" y="358.70" font-family="Liberation Sans, sans-serif" font-size="5.0" font-weight="normal" fill="#555555" text-anchor="middle">14:06:00</text>
<text x="462.60" y="214.50" font-family="Liberation Sans, sans-serif" font-size="5.5" font-weight="bold" fill="#1a1a1a" text-anchor="middle" textLength="71.00" lengthAdjust="spacingAndGlyphs">Experiment 4 Room 1 (BLE)</text>
<text x="371.50" y="284.00" font-family="Liberation Sans, sans-serif" font-size="5.0" font-weight="normal" fill="#555555" text-anchor="middle" transform="rotate(-90 371.50 284.00)">RSSI</text>
<text x="462.60" y="366.10" font-family="Liberation Sans, sans-serif" font-size="5.2" font-weight="normal" fill="#333333" text-anchor="middle">Time</text>
<rect x="506.40" y="221.20" width="28.30" height="14.30" fill="#ffffff" stroke="#bdbdbd" stroke-width="0.5"/>
<line x1="507.60" y1="225.90" x2="521.00" y2="225.90" stroke="#1f77c4" stroke-width="0.8"/>
<circle cx="514.30" cy="225.90" r="0.6" fill="#1f77c4" stroke="#1f77c4" stroke-width="0.5"/>
<line x1="507.60" y1="231.60" x2="521.00" y2="231.60" stroke="#e2643a" stroke-width="0.6"/>
<circle cx="514.30" cy="231.60" r="1.6" fill="none" stroke="#e2643a" stroke-width="0.5"/>
<text x="523.10" y="227.60" font-family="Liberation Sans, sans-serif" font-size="4.5" font-weight="normal" fill="#222" text-anchor="start" textLength="9.50" lengthAdjust="spacingAndGlyphs">Tag1</text>
<text x="523.10" y="233.30" font-family="Liberation Sans, sans-serif" font-size="4.5" font-weight="normal" fill="#222" text-anchor="start" textLength="9.50" lengthAdjust="spacingAndGlyphs">Tag2</text>
<line x1="19.50" y1="412.60" x2="182.70" y2="412.60" stroke="#bcbcbc" stroke-width="0.7"/>
<line x1="182.70" y1="412.60" x2="182.70" y2="546.40" stroke="#bcbcbc" stroke-width="0.7"/>
<line x1="19.50" y1="412.60" x2="19.50" y2="546.40" stroke="#858585" stroke-width="0.8"/>
<line x1="19.50" y1="546.40" x2="182.70" y2="546.40" stroke="#858585" stroke-width="0.8"/>
<rect x="19.85" y="457.20" width="162.85" height="74.33" fill="#d75c62"/>
<line x1="19.50" y1="486.50" x2="182.70" y2="486.50" stroke="#555555" stroke-width="1.0"/>
<text x="158.40" y="484.60" font-family="Liberation Sans, sans-serif" font-size="5.0" font-weight="normal" fill="#3a3a3a" text-anchor="start" textLength="21.60" lengthAdjust="spacingAndGlyphs">Threshold</text>
<line x1="19.50" y1="427.47" x2="182.70" y2="427.47" stroke="#262626" stroke-width="0.7" stroke-opacity="0.16"/>
<line x1="19.50" y1="442.33" x2="182.70" y2="442.33" stroke="#262626" stroke-width="0.7" stroke-opacity="0.16"/>
<line x1="19.50" y1="457.20" x2="182.70" y2="457.20" stroke="#262626" stroke-width="0.7" stroke-opacity="0.16"/>
<line x1="19.50" y1="472.07" x2="182.70" y2="472.07" stroke="#262626" stroke-width="0.7" stroke-opacity="0.16"/>
<line x1="19.50" y1="486.93" x2="182.70" y2="486.93" stroke="#262626" stroke-width="0.7" stroke-opacity="0.16"/>
<line x1="19.50" y1="501.80" x2="182.70" y2="501.80" stroke="#262626" stroke-width="0.7" stroke-opacity="0.16"/>
<line x1="19.50" y1="516.67" x2="182.70" y2="516.67" stroke="#262626" stroke-width="0.7" stroke-opacity="0.16"/>
<line x1="19.50" y1="531.53" x2="182.70" y2="531.53" stroke="#262626" stroke-width="0.7" stroke-opacity="0.16"/>
<line x1="35.50" y1="412.60" x2="35.50" y2="546.40" stroke="#262626" stroke-width="0.7" stroke-opacity="0.2"/>
<line x1="68.50" y1="412.60" x2="68.50" y2="546.40" stroke="#262626" stroke-width="0.7" stroke-opacity="0.2"/>
<line x1="100.70" y1="412.60" x2="100.70" y2="546.40" stroke="#262626" stroke-width="0.7" stroke-opacity="0.2"/>
<line x1="133.60" y1="412.60" x2="133.60" y2="546.40" stroke="#262626" stroke-width="0.7" stroke-opacity="0.2"/>
<line x1="166.20" y1="412.60" x2="166.20" y2="546.40" stroke="#262626" stroke-width="0.7" stroke-opacity="0.2"/>
<line x1="35.50" y1="546.40" x2="35.50" y2="545.20" stroke="#5a5a5a" stroke-width="0.4"/>
<line x1="68.50" y1="546.40" x2="68.50" y2="545.20" stroke="#5a5a5a" stroke-width="0.4"/>
<line x1="100.70" y1="546.40" x2="100.70" y2="545.20" stroke="#5a5a5a" stroke-width="0.4"/>
<line x1="133.60" y1="546.40" x2="133.60" y2="545.20" stroke="#5a5a5a" stroke-width="0.4"/>
<line x1="166.20" y1="546.40" x2="166.20" y2="545.20" stroke="#5a5a5a" stroke-width="0.4"/>
<line x1="19.50" y1="412.60" x2="20.70" y2="412.60" stroke="#5a5a5a" stroke-width="0.4"/>
<line x1="19.50" y1="427.47" x2="20.70" y2="427.47" stroke="#5a5a5a" stroke-width="0.4"/>
<line x1="19.50" y1="442.33" x2="20.70" y2="442.33" stroke="#5a5a5a" stroke-width="0.4"/>
<line x1="19.50" y1="457.20" x2="20.70" y2="457.20" stroke="#5a5a5a" stroke-width="0.4"/>
<line x1="19.50" y1="472.07" x2="20.70" y2="472.07" stroke="#5a5a5a" stroke-width="0.4"/>
<line x1="19.50" y1="486.93" x2="20.70" y2="486.93" stroke="#5a5a5a" stroke-width="0.4"/>
<line x1="19.50" y1="501.80" x2="20.70" y2="501.80" stroke="#5a5a5a" stroke-width="0.4"/>
<line x1="19.50" y1="516.67" x2="20.70" y2="516.67" stroke="#5a5a5a" stroke-width="0.4"/>
<line x1="19.50" y1="531.53" x2="20.70" y2="531.53" stroke="#5a5a5a" stroke-width="0.4"/>
<line x1="19.50" y1="546.40" x2="20.70" y2="546.40" stroke="#5a5a5a" stroke-width="0.4"/>
<text x="17.30" y="414.90" font-family="Liberation Sans, sans-serif" font-size="5.0" font-weight="normal" fill="#555555" text-anchor="end">-50</text>
<text x="17.30" y="429.77" font-family="Liberation Sans, sans-serif" font-size="5.0" font-weight="normal" fill="#555555" text-anchor="end">-51</text>
<text x="17.30" y="444.63" font-family="Liberation Sans, sans-serif" font-size="5.0" font-weight="normal" fill="#555555" text-anchor="end">-52</text>
<text x="17.30" y="459.50" font-family="Liberation Sans, sans-serif" font-size="5.0" font-weight="normal" fill="#555555" text-anchor="end">-53</text>
<text x="17.30" y="474.37" font-family="Liberation Sans, sans-serif" font-size="5.0" font-weight="normal" fill="#555555" text-anchor="end">-54</text>
<text x="17.30" y="489.23" font-family="Liberation Sans, sans-serif" font-size="5.0" font-weight="normal" fill="#555555" text-anchor="end">-55</text>
<text x="17.30" y="504.10" font-family="Liberation Sans, sans-serif" font-size="5.0" font-weight="normal" fill="#555555" text-anchor="end">-56</text>
<text x="17.30" y="518.97" font-family="Liberation Sans, sans-serif" font-size="5.0" font-weight="normal" fill="#555555" text-anchor="end">-57</text>
<text x="17.30" y="533.83" font-family="Liberation Sans, sans-serif" font-size="5.0" font-weight="normal" fill="#555555" text-anchor="end">-58</text>
<text x="17.30" y="548.70" font-family="Liberation Sans, sans-serif" font-size="5.0" font-weight="normal" fill="#555555" text-anchor="end">-59</text>
<text x="35.50" y="554.00" font-family="Liberation Sans, sans-serif" font-size="5.0" font-weight="normal" fill="#555555" text-anchor="middle">13:58</text>
<text x="68.50" y="554.00" font-family="Liberation Sans, sans-serif" font-size="5.0" font-weight="normal" fill="#555555" text-anchor="middle">14:00</text>
<text x="100.70" y="554.00" font-family="Liberation Sans, sans-serif" font-size="5.0" font-weight="normal" fill="#555555" text-anchor="middle">14:02</text>
<text x="133.60" y="554.00" font-family="Liberation Sans, sans-serif" font-size="5.0" font-weight="normal" fill="#555555" text-anchor="middle">14:04</text>
<text x="166.20" y="554.00" font-family="Liberation Sans, sans-serif" font-size="5.0" font-weight="normal" fill="#555555" text-anchor="middle">14:06</text>
<text x="100.30" y="409.60" font-family="Liberation Sans, sans-serif" font-size="5.5" font-weight="bold" fill="#1a1a1a" text-anchor="middle" textLength="88.30" lengthAdjust="spacingAndGlyphs">Experiment 4 Tag 1 Room 2(RFID)</text>
<text x="7.30" y="479.50" font-family="Liberation Sans, sans-serif" font-size="5.0" font-weight="normal" fill="#555555" text-anchor="middle" transform="rotate(-90 7.30 479.50)">RSSI</text>
<text x="100.90" y="561.40" font-family="Liberation Sans, sans-serif" font-size="5.2" font-weight="normal" fill="#333333" text-anchor="middle">Time</text>
<text x="178.20" y="561.40" font-family="Liberation Sans, sans-serif" font-size="5.0" font-weight="normal" fill="#333333" text-anchor="end" textLength="29.00" lengthAdjust="spacingAndGlyphs">Oct 17, 2022</text>
<rect x="132.50" y="416.50" width="45.80" height="7.60" fill="#ffffff" stroke="#bdbdbd" stroke-width="0.5"/>
<rect x="133.70" y="418.20" width="14.90" height="4.50" fill="#d75c62"/>
<text x="150.20" y="422.10" font-family="Liberation Sans, sans-serif" font-size="4.5" font-weight="normal" fill="#222" text-anchor="start" textLength="25.80" lengthAdjust="spacingAndGlyphs">Not Detected</text>
<line x1="201.30" y1="412.20" x2="201.30" y2="546.80" stroke="#858585" stroke-width="0.8"/>
<line x1="201.30" y1="546.80" x2="364.00" y2="546.80" stroke="#858585" stroke-width="0.8"/>
<rect x="201.30" y="412.20" width="8.61" height="134.60" fill="#5dcbf0"/>
<rect x="209.86" y="412.20" width="8.61" height="134.60" fill="#d75c62"/>
<rect x="218.43" y="412.20" width="8.61" height="134.60" fill="#5dcbf0"/>
<rect x="226.99" y="412.20" width="8.61" height="134.60" fill="#d75c62"/>
<rect x="235.55" y="412.20" width="8.61" height="134.60" fill="#5dcbf0"/>
<rect x="244.12" y="412.20" width="8.61" height="134.60" fill="#d75c62"/>
<rect x="252.68" y="412.20" width="8.61" height="134.60" fill="#5dcbf0"/>
<rect x="261.24" y="412.20" width="8.61" height="134.60" fill="#d75c62"/>
<rect x="269.81" y="412.20" width="8.61" height="134.60" fill="#5dcbf0"/>
<rect x="278.37" y="412.20" width="8.61" height="134.60" fill="#d75c62"/>
<rect x="286.93" y="412.20" width="8.61" height="134.60" fill="#5dcbf0"/>
<rect x="295.49" y="412.20" width="8.61" height="134.60" fill="#d75c62"/>
<rect x="304.06" y="412.20" width="8.61" height="134.60" fill="#5dcbf0"/>
<rect x="312.62" y="412.20" width="8.61" height="134.60" fill="#d75c62"/>
<rect x="321.18" y="412.20" width="8.61" height="134.60" fill="#5dcbf0"/>
<rect x="329.75" y="412.20" width="8.61" height="134.60" fill="#d75c62"/>
<rect x="338.31" y="412.20" width="8.61" height="134.60" fill="#5dcbf0"/>
<rect x="346.87" y="412.20" width="8.61" height="134.60" fill="#d75c62"/>
<rect x="355.44" y="412.20" width="8.61" height="134.60" fill="#5dcbf0"/>
<line x1="201.30" y1="515.50" x2="364.00" y2="515.50" stroke="#3d3d3d" stroke-width="1.0"/>
<text x="340.20" y="512.90" font-family="Liberation Sans, sans-serif" font-size="5.0" font-weight="normal" fill="#3a3a3a" text-anchor="start" textLength="21.60" lengthAdjust="spacingAndGlyphs">Threshold</text>
<circle cx="202.30" cy="422.69" r="1.35" fill="none" stroke="#1a6fb8" stroke-width="0.65"/>
<circle cx="204.27" cy="422.69" r="1.35" fill="none" stroke="#1a6fb8" stroke-width="0.65"/>
<circle cx="206.23" cy="422.69" r="1.35" fill="none" stroke="#1a6fb8" stroke-width="0.65"/>
<circle cx="208.20" cy="422.69" r="1.35" fill="none" stroke="#1a6fb8" stroke-width="0.65"/>
<circle cx="219.20" cy="422.69" r="1.35" fill="none" stroke="#1a6fb8" stroke-width="0.65"/>
<circle cx="221.47" cy="422.69" r="1.35" fill="none" stroke="#1a6fb8" stroke-width="0.65"/>
<circle cx="223.73" cy="422.69" r="1.35" fill="none" stroke="#1a6fb8" stroke-width="0.65"/>
<circle cx="226.00" cy="422.69" r="1.35" fill="none" stroke="#1a6fb8" stroke-width="0.65"/>
<circle cx="236.50" cy="422.69" r="1.35" fill="none" stroke="#1a6fb8" stroke-width="0.65"/>
<circle cx="239.00" cy="422.69" r="1.35" fill="none" stroke="#1a6fb8" stroke-width="0.65"/>
<circle cx="241.50" cy="422.69" r="1.35" fill="none" stroke="#1a6fb8" stroke-width="0.65"/>
<circle cx="244.00" cy="422.69" r="1.35" fill="none" stroke="#1a6fb8" stroke-width="0.65"/>
<circle cx="253.50" cy="422.69" r="1.35" fill="none" stroke="#1a6fb8" stroke-width="0.65"/>
<circle cx="256.17" cy="422.69" r="1.35" fill="none" stroke="#1a6fb8" stroke-width="0.65"/>
<circle cx="258.83" cy="422.69" r="1.35" fill="none" stroke="#1a6fb8" stroke-width="0.65"/>
<circle cx="261.50" cy="422.69" r="1.35" fill="none" stroke="#1a6fb8" stroke-width="0.65"/>
<circle cx="305.50" cy="422.69" r="1.35" fill="none" stroke="#1a6fb8" stroke-width="0.65"/>
<circle cx="202.30" cy="432.97" r="1.35" fill="none" stroke="#1a6fb8" stroke-width="0.65"/>
<circle cx="204.27" cy="432.97" r="1.35" fill="none" stroke="#1a6fb8" stroke-width="0.65"/>
<circle cx="206.23" cy="432.97" r="1.35" fill="none" stroke="#1a6fb8" stroke-width="0.65"/>
<circle cx="208.20" cy="432.97" r="1.35" fill="none" stroke="#1a6fb8" stroke-width="0.65"/>
<circle cx="219.20" cy="432.97" r="1.35" fill="none" stroke="#1a6fb8" stroke-width="0.65"/>
<circle cx="221.47" cy="432.97" r="1.35" fill="none" stroke="#1a6fb8" stroke-width="0.65"/>
<circle cx="223.73" cy="432.97" r="1.35" fill="none" stroke="#1a6fb8" stroke-width="0.65"/>
<circle cx="226.00" cy="432.97" r="1.35" fill="none" stroke="#1a6fb8" stroke-width="0.65"/>
<circle cx="236.50" cy="432.97" r="1.35" fill="none" stroke="#1a6fb8" stroke-width="0.65"/>
<circle cx="239.00" cy="432.97" r="1.35" fill="none" stroke="#1a6fb8" stroke-width="0.65"/>
<circle cx="241.50" cy="432.97" r="1.35" fill="none" stroke="#1a6fb8" stroke-width="0.65"/>
<circle cx="244.00" cy="432.97" r="1.35" fill="none" stroke="#1a6fb8" stroke-width="0.65"/>
<circle cx="253.50" cy="432.97" r="1.35" fill="none" stroke="#1a6fb8" stroke-width="0.65"/>
<circle cx="256.17" cy="432.97" r="1.35" fill="none" stroke="#1a6fb8" stroke-width="0.65"/>
<circle cx="258.83" cy="432.97" r="1.35" fill="none" stroke="#1a6fb8" stroke-width="0.65"/>
<circle cx="261.50" cy="432.97" r="1.35" fill="none" stroke="#1a6fb8" stroke-width="0.65"/>
<circle cx="304.50" cy="432.97" r="1.35" fill="none" stroke="#1a6fb8" stroke-width="0.65"/>
<circle cx="309.10" cy="432.97" r="1.35" fill="none" stroke="#1a6fb8" stroke-width="0.65"/>
<circle cx="320.00" cy="432.97" r="1.35" fill="none" stroke="#1a6fb8" stroke-width="0.65"/>
<circle cx="202.30" cy="443.25" r="1.35" fill="none" stroke="#0d62ab" stroke-width="0.75"/>
<circle cx="203.48" cy="443.25" r="1.35" fill="none" stroke="#0d62ab" stroke-width="0.75"/>
<circle cx="204.66" cy="443.25" r="1.35" fill="none" stroke="#0d62ab" stroke-width="0.75"/>
<circle cx="205.84" cy="443.25" r="1.35" fill="none" stroke="#0d62ab" stroke-width="0.75"/>
<circle cx="207.02" cy="443.25" r="1.35" fill="none" stroke="#0d62ab" stroke-width="0.75"/>
<circle cx="208.20" cy="443.25" r="1.35" fill="none" stroke="#0d62ab" stroke-width="0.75"/>
<circle cx="219.20" cy="443.25" r="1.35" fill="none" stroke="#1a6fb8" stroke-width="0.65"/>
<circle cx="221.47" cy="443.25" r="1.35" fill="none" stroke="#1a6fb8" stroke-width="0.65"/>
<circle cx="223.73" cy="443.25" r="1.35" fill="none" stroke="#1a6fb8" stroke-width="0.65"/>
<circle cx="226.00" cy="443.25" r="1.35" fill="none" stroke="#1a6fb8" stroke-width="0.65"/>
<circle cx="236.50" cy="443.25" r="1.35" fill="none" stroke="#0d62ab" stroke-width="0.75"/>
<circle cx="237.75" cy="443.25" r="1.35" fill="none" stroke="#0d62ab" stroke-width="0.75"/>
<circle cx="239.00" cy="443.25" r="1.35" fill="none" stroke="#0d62ab" stroke-width="0.75"/>
<circle cx="240.25" cy="443.25" r="1.35" fill="none" stroke="#0d62ab" stroke-width="0.75"/>
<circle cx="241.50" cy="443.25" r="1.35" fill="none" stroke="#0d62ab" stroke-width="0.75"/>
<circle cx="242.75" cy="443.25" r="1.35" fill="none" stroke="#0d62ab" stroke-width="0.75"/>
<circle cx="244.00" cy="443.25" r="1.35" fill="none" stroke="#0d62ab" stroke-width="0.75"/>
<circle cx="253.50" cy="443.25" r="1.35" fill="none" stroke="#1a6fb8" stroke-width="0.65"/>
<circle cx="256.17" cy="443.25" r="1.35" fill="none" stroke="#1a6fb8" stroke-width="0.65"/>
<circle cx="258.83" cy="443.25" r="1.35" fill="none" stroke="#1a6fb8" stroke-width="0.65"/>
<circle cx="261.50" cy="443.25" r="1.35" fill="none" stroke="#1a6fb8" stroke-width="0.65"/>
<circle cx="304.50" cy="443.25" r="1.35" fill="none" stroke="#1a6fb8" stroke-width="0.65"/>
<circle cx="309.10" cy="443.25" r="1.35" fill="none" stroke="#1a6fb8" stroke-width="0.65"/>
<circle cx="320.00" cy="443.25" r="1.35" fill="none" stroke="#1a6fb8" stroke-width="0.65"/>
<circle cx="202.30" cy="453.54" r="1.35" fill="none" stroke="#0d62ab" stroke-width="0.75"/>
<circle cx="203.64" cy="453.54" r="1.35" fill="none" stroke="#0d62ab" stroke-width="0.75"/>
<circle cx="204.98" cy="453.54" r="1.35" fill="none" stroke="#0d62ab" stroke-width="0.75"/>
<circle cx="206.32" cy="453.54" r="1.35" fill="none" stroke="#0d62ab" stroke-width="0.75"/>
<circle cx="207.66" cy="453.54" r="1.35" fill="none" stroke="#0d62ab" stroke-width="0.75"/>
<circle cx="209.00" cy="453.54" r="1.35" fill="none" stroke="#0d62ab" stroke-width="0.75"/>
<circle cx="219.20" cy="453.54" r="1.35" fill="none" stroke="#0d62ab" stroke-width="0.75"/>
<circle cx="220.50" cy="453.54" r="1.35" fill="none" stroke="#0d62ab" stroke-width="0.75"/>
<circle cx="221.80" cy="453.54" r="1.35" fill="none" stroke="#0d62ab" stroke-width="0.75"/>
<circle cx="223.10" cy="453.54" r="1.35" fill="none" stroke="#0d62ab" stroke-width="0.75"/>
<circle cx="224.40" cy="453.54" r="1.35" fill="none" stroke="#0d62ab" stroke-width="0.75"/>
<circle cx="225.70" cy="453.54" r="1.35" fill="none" stroke="#0d62ab" stroke-width="0.75"/>
<circle cx="227.00" cy="453.54" r="1.35" fill="none" stroke="#0d62ab" stroke-width="0.75"/>
<circle cx="236.50" cy="453.54" r="1.35" fill="none" stroke="#0d62ab" stroke-width="0.75"/>
<circle cx="237.75" cy="453.54" r="1.35" fill="none" stroke="#0d62ab" stroke-width="0.75"/>
<circle cx="239.00" cy="453.54" r="1.35" fill="none" stroke="#0d62ab" stroke-width="0.75"/>
<circle cx="240.25" cy="453.54" r="1.35" fill="none" stroke="#0d62ab" stroke-width="0.75"/>
<circle cx="241.50" cy="453.54" r="1.35" fill="none" stroke="#0d62ab" stroke-width="0.75"/>
<circle cx="242.75" cy="453.54" r="1.35" fill="none" stroke="#0d62ab" stroke-width="0.75"/>
<circle cx="244.00" cy="453.54" r="1.35" fill="none" stroke="#0d62ab" stroke-width="0.75"/>
<circle cx="253.50" cy="453.54" r="1.35" fill="none" stroke="#0d62ab" stroke-width="0.75"/>
<circle cx="254.71" cy="453.54" r="1.35" fill="none" stroke="#0d62ab" stroke-width="0.75"/>
<circle cx="255.93" cy="453.54" r="1.35" fill="none" stroke="#0d62ab" stroke-width="0.75"/>
<circle cx="257.14" cy="453.54" r="1.35" fill="none" stroke="#0d62ab" stroke-width="0.75"/>
<circle cx="258.36" cy="453.54" r="1.35" fill="none" stroke="#0d62ab" stroke-width="0.75"/>
<circle cx="259.57" cy="453.54" r="1.35" fill="none" stroke="#0d62ab" stroke-width="0.75"/>
<circle cx="260.79" cy="453.54" r="1.35" fill="none" stroke="#0d62ab" stroke-width="0.75"/>
<circle cx="262.00" cy="453.54" r="1.35" fill="none" stroke="#0d62ab" stroke-width="0.75"/>
<circle cx="275.00" cy="453.54" r="1.35" fill="none" stroke="#1a6fb8" stroke-width="0.65"/>
<circle cx="277.50" cy="453.54" r="1.35" fill="none" stroke="#1a6fb8" stroke-width="0.65"/>
<circle cx="280.00" cy="453.54" r="1.35" fill="none" stroke="#1a6fb8" stroke-width="0.65"/>
<circle cx="290.90" cy="453.54" r="1.35" fill="none" stroke="#1a6fb8" stroke-width="0.65"/>
<circle cx="304.50" cy="453.54" r="1.35" fill="none" stroke="#1a6fb8" stroke-width="0.65"/>
<circle cx="306.93" cy="453.54" r="1.35" fill="none" stroke="#1a6fb8" stroke-width="0.65"/>
<circle cx="309.37" cy="453.54" r="1.35" fill="none" stroke="#1a6fb8" stroke-width="0.65"/>
<circle cx="311.80" cy="453.54" r="1.35" fill="none" stroke="#1a6fb8" stroke-width="0.65"/>
<circle cx="320.00" cy="453.54" r="1.35" fill="none" stroke="#1a6fb8" stroke-width="0.65"/>
<circle cx="337.30" cy="453.54" r="1.35" fill="none" stroke="#0d62ab" stroke-width="0.75"/>
<circle cx="338.67" cy="453.54" r="1.35" fill="none" stroke="#0d62ab" stroke-width="0.75"/>
<circle cx="340.03" cy="453.54" r="1.35" fill="none" stroke="#0d62ab" stroke-width="0.75"/>
<circle cx="341.40" cy="453.54" r="1.35" fill="none" stroke="#0d62ab" stroke-width="0.75"/>
<circle cx="342.77" cy="453.54" r="1.35" fill="none" stroke="#0d62ab" stroke-width="0.75"/>
<circle cx="344.13" cy="453.54" r="1.35" fill="none" stroke="#0d62ab" stroke-width="0.75"/>
<circle cx="345.50" cy="453.54" r="1.35" fill="none" stroke="#0d62ab" stroke-width="0.75"/>
<circle cx="355.50" cy="453.54" r="1.35" fill="none" stroke="#0d62ab" stroke-width="0.75"/>
<circle cx="356.72" cy="453.54" r="1.35" fill="none" stroke="#0d62ab" stroke-width="0.75"/>
<circle cx="357.93" cy="453.54" r="1.35" fill="none" stroke="#0d62ab" stroke-width="0.75"/>
<circle cx="359.15" cy="453.54" r="1.35" fill="none" stroke="#0d62ab" stroke-width="0.75"/>
<circle cx="360.37" cy="453.54" r="1.35" fill="none" stroke="#0d62ab" stroke-width="0.75"/>
<circle cx="361.58" cy="453.54" r="1.35" fill="none" stroke="#0d62ab" stroke-width="0.75"/>
<circle cx="362.80" cy="453.54" r="1.35" fill="none" stroke="#0d62ab" stroke-width="0.75"/>
<circle cx="202.30" cy="463.82" r="1.35" fill="none" stroke="#0d62ab" stroke-width="0.75"/>
<circle cx="203.67" cy="463.82" r="1.35" fill="none" stroke="#0d62ab" stroke-width="0.75"/>
<circle cx="205.03" cy="463.82" r="1.35" fill="none" stroke="#0d62ab" stroke-width="0.75"/>
<circle cx="206.40" cy="463.82" r="1.35" fill="none" stroke="#0d62ab" stroke-width="0.75"/>
<circle cx="207.77" cy="463.82" r="1.35" fill="none" stroke="#0d62ab" stroke-width="0.75"/>
<circle cx="209.13" cy="463.82" r="1.35" fill="none" stroke="#0d62ab" stroke-width="0.75"/>
<circle cx="210.50" cy="463.82" r="1.35" fill="none" stroke="#0d62ab" stroke-width="0.75"/>
<circle cx="219.20" cy="463.82" r="1.35" fill="none" stroke="#0d62ab" stroke-width="0.75"/>
<circle cx="220.50" cy="463.82" r="1.35" fill="none" stroke="#0d62ab" stroke-width="0.75"/>
<circle cx="221.80" cy="463.82" r="1.35" fill="none" stroke="#0d62ab" stroke-width="0.75"/>
<circle cx="223.10" cy="463.82" r="1.35" fill="none" stroke="#0d62ab" stroke-width="0.75"/>
<circle cx="224.40" cy="463.82" r="1.35" fill="none" stroke="#0d62ab" stroke-width="0.75"/>
<circle cx="225.70" cy="463.82" r="1.35" fill="none" stroke="#0d62ab" stroke-width="0.75"/>
<circle cx="227.00" cy="463.82" r="1.35" fill="none" stroke="#0d62ab" stroke-width="0.75"/>
<circle cx="236.50" cy="463.82" r="1.35" fill="none" stroke="#0d62ab" stroke-width="0.75"/>
<circle cx="237.75" cy="463.82" r="1.35" fill="none" stroke="#0d62ab" stroke-width="0.75"/>
<circle cx="239.00" cy="463.82" r="1.35" fill="none" stroke="#0d62ab" stroke-width="0.75"/>
<circle cx="240.25" cy="463.82" r="1.35" fill="none" stroke="#0d62ab" stroke-width="0.75"/>
<circle cx="241.50" cy="463.82" r="1.35" fill="none" stroke="#0d62ab" stroke-width="0.75"/>
<circle cx="242.75" cy="463.82" r="1.35" fill="none" stroke="#0d62ab" stroke-width="0.75"/>
<circle cx="244.00" cy="463.82" r="1.35" fill="none" stroke="#0d62ab" stroke-width="0.75"/>
<circle cx="253.50" cy="463.82" r="1.35" fill="none" stroke="#0d62ab" stroke-width="0.75"/>
<circle cx="254.71" cy="463.82" r="1.35" fill="none" stroke="#0d62ab" stroke-width="0.75"/>
<circle cx="255.93" cy="463.82" r="1.35" fill="none" stroke="#0d62ab" stroke-width="0.75"/>
<circle cx="257.14" cy="463.82" r="1.35" fill="none" stroke="#0d62ab" stroke-width="0.75"/>
<circle cx="258.36" cy="463.82" r="1.35" fill="none" stroke="#0d62ab" stroke-width="0.75"/>
<circle cx="259.57" cy="463.82" r="1.35" fill="none" stroke="#0d62ab" stroke-width="0.75"/>
<circle cx="260.79" cy="463.82" r="1.35" fill="none" stroke="#0d62ab" stroke-width="0.75"/>
<circle cx="262.00" cy="463.82" r="1.35" fill="none" stroke="#0d62ab" stroke-width="0.75"/>
<circle cx="274.50" cy="463.82" r="1.35" fill="none" stroke="#0d62ab" stroke-width="0.75"/>
<circle cx="276.00" cy="463.82" r="1.35" fill="none" stroke="#0d62ab" stroke-width="0.75"/>
<circle cx="277.50" cy="463.82" r="1.35" fill="none" stroke="#0d62ab" stroke-width="0.75"/>
<circle cx="279.00" cy="463.82" r="1.35" fill="none" stroke="#0d62ab" stroke-width="0.75"/>
<circle cx="288.20" cy="463.82" r="1.35" fill="none" stroke="#0d62ab" stroke-width="0.75"/>
<circle cx="289.46" cy="463.82" r="1.35" fill="none" stroke="#0d62ab" stroke-width="0.75"/>
<circle cx="290.72" cy="463.82" r="1.35" fill="none" stroke="#0d62ab" stroke-width="0.75"/>
<circle cx="291.98" cy="463.82" r="1.35" fill="none" stroke="#0d62ab" stroke-width="0.75"/>
<circle cx="293.24" cy="463.82" r="1.35" fill="none" stroke="#0d62ab" stroke-width="0.75"/>
<circle cx="294.50" cy="463.82" r="1.35" fill="none" stroke="#0d62ab" stroke-width="0.75"/>
<circle cx="302.70" cy="463.82" r="1.35" fill="none" stroke="#0d62ab" stroke-width="0.75"/>
<circle cx="303.95" cy="463.82" r="1.35" fill="none" stroke="#0d62ab" stroke-width="0.75"/>
<circle cx="305.20" cy="463.82" r="1.35" fill="none" stroke="#0d62ab" stroke-width="0.75"/>
<circle cx="306.45" cy="463.82" r="1.35" fill="none" stroke="#0d62ab" stroke-width="0.75"/>
<circle cx="307.70" cy="463.82" r="1.35" fill="none" stroke="#0d62ab" stroke-width="0.75"/>
<circle cx="308.95" cy="463.82" r="1.35" fill="none" stroke="#0d62ab" stroke-width="0.75"/>
<circle cx="310.20" cy="463.82" r="1.35" fill="none" stroke="#0d62ab" stroke-width="0.75"/>
<circle cx="311.45" cy="463.82" r="1.35" fill="none" stroke="#0d62ab" stroke-width="0.75"/>
<circle cx="312.70" cy="463.82" r="1.35" fill="none" stroke="#0d62ab" stroke-width="0.75"/>
<circle cx="321.80" cy="463.82" r="1.35" fill="none" stroke="#0d62ab" stroke-width="0.75"/>
<circle cx="323.18" cy="463.82" r="1.35" fill="none" stroke="#0d62ab" stroke-width="0.75"/>
<circle cx="324.55" cy="463.82" r="1.35" fill="none" stroke="#0d62ab" stroke-width="0.75"/>
<circle cx="325.93" cy="463.82" r="1.35" fill="none" stroke="#0d62ab" stroke-width="0.75"/>
<circle cx="327.30" cy="463.82" r="1.35" fill="none" stroke="#0d62ab" stroke-width="0.75"/>
<circle cx="337.30" cy="463.82" r="1.35" fill="none" stroke="#0d62ab" stroke-width="0.75"/>
<circle cx="338.67" cy="463.82" r="1.35" fill="none" stroke="#0d62ab" stroke-width="0.75"/>
<circle cx="340.03" cy="463.82" r="1.35" fill="none" stroke="#0d62ab" stroke-width="0.75"/>
<circle cx="341.40" cy="463.82" r="1.35" fill="none" stroke="#0d62ab" stroke-width="0.75"/>
<circle cx="342.77" cy="463.82" r="1.35" fill="none" stroke="#0d62ab" stroke-width="0.75"/>
<circle cx="344.13" cy="463.82" r="1.35" fill="none" stroke="#0d62ab" stroke-width="0.75"/>
<circle cx="345.50" cy="463.82" r="1.35" fill="none" stroke="#0d62ab" stroke-width="0.75"/>
<circle cx="355.50" cy="463.82" r="1.35" fill="none" stroke="#0d62ab" stroke-width="0.75"/>
<circle cx="356.72" cy="463.82" r="1.35" fill="none" stroke="#0d62ab" stroke-width="0.75"/>
<circle cx="357.93" cy="463.82" r="1.35" fill="none" stroke="#0d62ab" stroke-width="0.75"/>
<circle cx="359.15" cy="463.82" r="1.35" fill="none" stroke="#0d62ab" stroke-width="0.75"/>
<circle cx="360.37" cy="463.82" r="1.35" fill="none" stroke="#0d62ab" stroke-width="0.75"/>
<circle cx="361.58" cy="463.82" r="1.35" fill="none" stroke="#0d62ab" stroke-width="0.75"/>
<circle cx="362.80" cy="463.82" r="1.35" fill="none" stroke="#0d62ab" stroke-width="0.75"/>
<circle cx="202.30" cy="484.38" r="1.35" fill="none" stroke="#0d62ab" stroke-width="0.75"/>
<circle cx="203.66" cy="484.38" r="1.35" fill="none" stroke="#0d62ab" stroke-width="0.75"/>
<circle cx="205.02" cy="484.38" r="1.35" fill="none" stroke="#0d62ab" stroke-width="0.75"/>
<circle cx="206.38" cy="484.38" r="1.35" fill="none" stroke="#0d62ab" stroke-width="0.75"/>
<circle cx="207.74" cy="484.38" r="1.35" fill="none" stroke="#0d62ab" stroke-width="0.75"/>
<circle cx="209.10" cy="484.38" r="1.35" fill="none" stroke="#0d62ab" stroke-width="0.75"/>
<circle cx="210.46" cy="484.38" r="1.35" fill="none" stroke="#0d62ab" stroke-width="0.75"/>
<circle cx="219.43" cy="484.38" r="1.35" fill="none" stroke="#0d62ab" stroke-width="0.75"/>
<circle cx="220.79" cy="484.38" r="1.35" fill="none" stroke="#0d62ab" stroke-width="0.75"/>
<circle cx="222.15" cy="484.38" r="1.35" fill="none" stroke="#0d62ab" stroke-width="0.75"/>
<circle cx="223.51" cy="484.38" r="1.35" fill="none" stroke="#0d62ab" stroke-width="0.75"/>
<circle cx="224.87" cy="484.38" r="1.35" fill="none" stroke="#0d62ab" stroke-width="0.75"/>
<circle cx="226.23" cy="484.38" r="1.35" fill="none" stroke="#0d62ab" stroke-width="0.75"/>
<circle cx="227.59" cy="484.38" r="1.35" fill="none" stroke="#0d62ab" stroke-width="0.75"/>
<circle cx="236.55" cy="484.38" r="1.35" fill="none" stroke="#0d62ab" stroke-width="0.75"/>
<circle cx="237.91" cy="484.38" r="1.35" fill="none" stroke="#0d62ab" stroke-width="0.75"/>
<circle cx="239.27" cy="484.38" r="1.35" fill="none" stroke="#0d62ab" stroke-width="0.75"/>
<circle cx="240.63" cy="484.38" r="1.35" fill="none" stroke="#0d62ab" stroke-width="0.75"/>
<circle cx="241.99" cy="484.38" r="1.35" fill="none" stroke="#0d62ab" stroke-width="0.75"/>
<circle cx="243.36" cy="484.38" r="1.35" fill="none" stroke="#0d62ab" stroke-width="0.75"/>
<circle cx="244.72" cy="484.38" r="1.35" fill="none" stroke="#0d62ab" stroke-width="0.75"/>
<circle cx="253.68" cy="484.38" r="1.35" fill="none" stroke="#0d62ab" stroke-width="0.75"/>
<circle cx="255.04" cy="484.38" r="1.35" fill="none" stroke="#0d62ab" stroke-width="0.75"/>
<circle cx="256.40" cy="484.38" r="1.35" fill="none" stroke="#0d62ab" stroke-width="0.75"/>
<circle cx="257.76" cy="484.38" r="1.35" fill="none" stroke="#0d62ab" stroke-width="0.75"/>
<circle cx="259.12" cy="484.38" r="1.35" fill="none" stroke="#0d62ab" stroke-width="0.75"/>
<circle cx="260.48" cy="484.38" r="1.35" fill="none" stroke="#0d62ab" stroke-width="0.75"/>
<circle cx="261.84" cy="484.38" r="1.35" fill="none" stroke="#0d62ab" stroke-width="0.75"/>
<circle cx="274.50" cy="484.38" r="1.35" fill="none" stroke="#0d62ab" stroke-width="0.75"/>
<circle cx="275.65" cy="484.38" r="1.35" fill="none" stroke="#0d62ab" stroke-width="0.75"/>
<circle cx="276.80" cy="484.38" r="1.35" fill="none" stroke="#0d62ab" stroke-width="0.75"/>
<circle cx="277.95" cy="484.38" r="1.35" fill="none" stroke="#0d62ab" stroke-width="0.75"/>
<circle cx="279.10" cy="484.38" r="1.35" fill="none" stroke="#0d62ab" stroke-width="0.75"/>
<circle cx="287.60" cy="484.38" r="1.35" fill="none" stroke="#0d62ab" stroke-width="0.75"/>
<circle cx="288.92" cy="484.38" r="1.35" fill="none" stroke="#0d62ab" stroke-width="0.75"/>
<circle cx="290.23" cy="484.38" r="1.35" fill="none" stroke="#0d62ab" stroke-width="0.75"/>
<circle cx="291.55" cy="484.38" r="1.35" fill="none" stroke="#0d62ab" stroke-width="0.75"/>
<circle cx="292.87" cy="484.38" r="1.35" fill="none" stroke="#0d62ab" stroke-width="0.75"/>
<circle cx="294.18" cy="484.38" r="1.35" fill="none" stroke="#0d62ab" stroke-width="0.75"/>
<circle cx="295.50" cy="484.38" r="1.35" fill="none" stroke="#0d62ab" stroke-width="0.75"/>
<circle cx="302.70" cy="484.38" r="1.35" fill="none" stroke="#0d62ab" stroke-width="0.75"/>
<circle cx="303.95" cy="484.38" r="1.35" fill="none" stroke="#0d62ab" stroke-width="0.75"/>
<circle cx="305.20" cy="484.38" r="1.35" fill="none" stroke="#0d62ab" stroke-width="0.75"/>
<circle cx="306.45" cy="484.38" r="1.35" fill="none" stroke="#0d62ab" stroke-width="0.75"/>
<circle cx="307.70" cy="484.38" r="1.35" fill="none" stroke="#0d62ab" stroke-width="0.75"/>
<circle cx="308.95" cy="484.38" r="1.35" fill="none" stroke="#0d62ab" stroke-width="0.75"/>
<circle cx="310.20" cy="484.38" r="1.35" fill="none" stroke="#0d62ab" stroke-width="0.75"/>
<circle cx="311.45" cy="484.38" r="1.35" fill="none" stroke="#0d62ab" stroke-width="0.75"/>
<circle cx="312.70" cy="484.38" r="1.35" fill="none" stroke="#0d62ab" stroke-width="0.75"/>
<circle cx="319.50" cy="484.38" r="1.35" fill="none" stroke="#0d62ab" stroke-width="0.75"/>
<circle cx="320.74" cy="484.38" r="1.35" fill="none" stroke="#0d62ab" stroke-width="0.75"/>
<circle cx="321.99" cy="484.38" r="1.35" fill="none" stroke="#0d62ab" stroke-width="0.75"/>
<circle cx="323.23" cy="484.38" r="1.35" fill="none" stroke="#0d62ab" stroke-width="0.75"/>
<circle cx="324.47" cy="484.38" r="1.35" fill="none" stroke="#0d62ab" stroke-width="0.75"/>
<circle cx="325.71" cy="484.38" r="1.35" fill="none" stroke="#0d62ab" stroke-width="0.75"/>
<circle cx="326.96" cy="484.38" r="1.35" fill="none" stroke="#0d62ab" stroke-width="0.75"/>
<circle cx="328.20" cy="484.38" r="1.35" fill="none" stroke="#0d62ab" stroke-width="0.75"/>
<circle cx="337.60" cy="484.38" r="1.35" fill="none" stroke="#0d62ab" stroke-width="0.75"/>
<circle cx="338.86" cy="484.38" r="1.35" fill="none" stroke="#0d62ab" stroke-width="0.75"/>
<circle cx="340.11" cy="484.38" r="1.35" fill="none" stroke="#0d62ab" stroke-width="0.75"/>
<circle cx="341.37" cy="484.38" r="1.35" fill="none" stroke="#0d62ab" stroke-width="0.75"/>
<circle cx="342.63" cy="484.38" r="1.35" fill="none" stroke="#0d62ab" stroke-width="0.75"/>
<circle cx="343.89" cy="484.38" r="1.35" fill="none" stroke="#0d62ab" stroke-width="0.75"/>
<circle cx="345.14" cy="484.38" r="1.35" fill="none" stroke="#0d62ab" stroke-width="0.75"/>
<circle cx="346.40" cy="484.38" r="1.35" fill="none" stroke="#0d62ab" stroke-width="0.75"/>
<circle cx="355.50" cy="484.38" r="1.35" fill="none" stroke="#0d62ab" stroke-width="0.75"/>
<circle cx="356.72" cy="484.38" r="1.35" fill="none" stroke="#0d62ab" stroke-width="0.75"/>
<circle cx="357.93" cy="484.38" r="1.35" fill="none" stroke="#0d62ab" stroke-width="0.75"/>
<circle cx="359.15" cy="484.38" r="1.35" fill="none" stroke="#0d62ab" stroke-width="0.75"/>
<circle cx="360.37" cy="484.38" r="1.35" fill="none" stroke="#0d62ab" stroke-width="0.75"/>
<circle cx="361.58" cy="484.38" r="1.35" fill="none" stroke="#0d62ab" stroke-width="0.75"/>
<circle cx="362.80" cy="484.38" r="1.35" fill="none" stroke="#0d62ab" stroke-width="0.75"/>
<circle cx="202.30" cy="494.67" r="1.35" fill="none" stroke="#1a6fb8" stroke-width="0.65"/>
<circle cx="204.39" cy="494.67" r="1.35" fill="none" stroke="#1a6fb8" stroke-width="0.65"/>
<circle cx="206.48" cy="494.67" r="1.35" fill="none" stroke="#1a6fb8" stroke-width="0.65"/>
<circle cx="208.57" cy="494.67" r="1.35" fill="none" stroke="#1a6fb8" stroke-width="0.65"/>
<circle cx="210.66" cy="494.67" r="1.35" fill="none" stroke="#1a6fb8" stroke-width="0.65"/>
<circle cx="219.43" cy="494.67" r="1.35" fill="none" stroke="#1a6fb8" stroke-width="0.65"/>
<circle cx="221.52" cy="494.67" r="1.35" fill="none" stroke="#1a6fb8" stroke-width="0.65"/>
<circle cx="223.61" cy="494.67" r="1.35" fill="none" stroke="#1a6fb8" stroke-width="0.65"/>
<circle cx="225.70" cy="494.67" r="1.35" fill="none" stroke="#1a6fb8" stroke-width="0.65"/>
<circle cx="227.79" cy="494.67" r="1.35" fill="none" stroke="#1a6fb8" stroke-width="0.65"/>
<circle cx="236.55" cy="494.67" r="1.35" fill="none" stroke="#1a6fb8" stroke-width="0.65"/>
<circle cx="238.64" cy="494.67" r="1.35" fill="none" stroke="#1a6fb8" stroke-width="0.65"/>
<circle cx="240.73" cy="494.67" r="1.35" fill="none" stroke="#1a6fb8" stroke-width="0.65"/>
<circle cx="242.83" cy="494.67" r="1.35" fill="none" stroke="#1a6fb8" stroke-width="0.65"/>
<circle cx="244.92" cy="494.67" r="1.35" fill="none" stroke="#1a6fb8" stroke-width="0.65"/>
<circle cx="253.68" cy="494.67" r="1.35" fill="none" stroke="#1a6fb8" stroke-width="0.65"/>
<circle cx="255.77" cy="494.67" r="1.35" fill="none" stroke="#1a6fb8" stroke-width="0.65"/>
<circle cx="257.86" cy="494.67" r="1.35" fill="none" stroke="#1a6fb8" stroke-width="0.65"/>
<circle cx="259.95" cy="494.67" r="1.35" fill="none" stroke="#1a6fb8" stroke-width="0.65"/>
<circle cx="262.04" cy="494.67" r="1.35" fill="none" stroke="#1a6fb8" stroke-width="0.65"/>
<circle cx="289.10" cy="494.67" r="1.35" fill="none" stroke="#1a6fb8" stroke-width="0.65"/>
<circle cx="291.35" cy="494.67" r="1.35" fill="none" stroke="#1a6fb8" stroke-width="0.65"/>
<circle cx="293.60" cy="494.67" r="1.35" fill="none" stroke="#1a6fb8" stroke-width="0.65"/>
<circle cx="302.70" cy="494.67" r="1.35" fill="none" stroke="#0d62ab" stroke-width="0.75"/>
<circle cx="303.96" cy="494.67" r="1.35" fill="none" stroke="#0d62ab" stroke-width="0.75"/>
<circle cx="305.21" cy="494.67" r="1.35" fill="none" stroke="#0d62ab" stroke-width="0.75"/>
<circle cx="306.47" cy="494.67" r="1.35" fill="none" stroke="#0d62ab" stroke-width="0.75"/>
<circle cx="307.73" cy="494.67" r="1.35" fill="none" stroke="#0d62ab" stroke-width="0.75"/>
<circle cx="308.99" cy="494.67" r="1.35" fill="none" stroke="#0d62ab" stroke-width="0.75"/>
<circle cx="310.24" cy="494.67" r="1.35" fill="none" stroke="#0d62ab" stroke-width="0.75"/>
<circle cx="311.50" cy="494.67" r="1.35" fill="none" stroke="#0d62ab" stroke-width="0.75"/>
<circle cx="320.00" cy="494.67" r="1.35" fill="none" stroke="#1a6fb8" stroke-width="0.65"/>
<circle cx="322.60" cy="494.67" r="1.35" fill="none" stroke="#1a6fb8" stroke-width="0.65"/>
<circle cx="325.20" cy="494.67" r="1.35" fill="none" stroke="#1a6fb8" stroke-width="0.65"/>
<circle cx="327.80" cy="494.67" r="1.35" fill="none" stroke="#1a6fb8" stroke-width="0.65"/>
<circle cx="202.30" cy="504.95" r="1.35" fill="none" stroke="#1a6fb8" stroke-width="0.65"/>
<circle cx="204.39" cy="504.95" r="1.35" fill="none" stroke="#1a6fb8" stroke-width="0.65"/>
<circle cx="206.48" cy="504.95" r="1.35" fill="none" stroke="#1a6fb8" stroke-width="0.65"/>
<circle cx="208.57" cy="504.95" r="1.35" fill="none" stroke="#1a6fb8" stroke-width="0.65"/>
<circle cx="210.66" cy="504.95" r="1.35" fill="none" stroke="#1a6fb8" stroke-width="0.65"/>
<circle cx="219.43" cy="504.95" r="1.35" fill="none" stroke="#1a6fb8" stroke-width="0.65"/>
<circle cx="221.52" cy="504.95" r="1.35" fill="none" stroke="#1a6fb8" stroke-width="0.65"/>
<circle cx="223.61" cy="504.95" r="1.35" fill="none" stroke="#1a6fb8" stroke-width="0.65"/>
<circle cx="225.70" cy="504.95" r="1.35" fill="none" stroke="#1a6fb8" stroke-width="0.65"/>
<circle cx="227.79" cy="504.95" r="1.35" fill="none" stroke="#1a6fb8" stroke-width="0.65"/>
<circle cx="236.55" cy="504.95" r="1.35" fill="none" stroke="#1a6fb8" stroke-width="0.65"/>
<circle cx="238.64" cy="504.95" r="1.35" fill="none" stroke="#1a6fb8" stroke-width="0.65"/>
<circle cx="240.73" cy="504.95" r="1.35" fill="none" stroke="#1a6fb8" stroke-width="0.65"/>
<circle cx="242.83" cy="504.95" r="1.35" fill="none" stroke="#1a6fb8" stroke-width="0.65"/>
<circle cx="244.92" cy="504.95" r="1.35" fill="none" stroke="#1a6fb8" stroke-width="0.65"/>
<circle cx="253.68" cy="504.95" r="1.35" fill="none" stroke="#1a6fb8" stroke-width="0.65"/>
<circle cx="255.77" cy="504.95" r="1.35" fill="none" stroke="#1a6fb8" stroke-width="0.65"/>
<circle cx="257.86" cy="504.95" r="1.35" fill="none" stroke="#1a6fb8" stroke-width="0.65"/>
<circle cx="259.95" cy="504.95" r="1.35" fill="none" stroke="#1a6fb8" stroke-width="0.65"/>
<circle cx="262.04" cy="504.95" r="1.35" fill="none" stroke="#1a6fb8" stroke-width="0.65"/>
<circle cx="304.50" cy="504.95" r="1.35" fill="none" stroke="#0d62ab" stroke-width="0.75"/>
<circle cx="305.78" cy="504.95" r="1.35" fill="none" stroke="#0d62ab" stroke-width="0.75"/>
<circle cx="307.06" cy="504.95" r="1.35" fill="none" stroke="#0d62ab" stroke-width="0.75"/>
<circle cx="308.34" cy="504.95" r="1.35" fill="none" stroke="#0d62ab" stroke-width="0.75"/>
<circle cx="309.62" cy="504.95" r="1.35" fill="none" stroke="#0d62ab" stroke-width="0.75"/>
<circle cx="310.90" cy="504.95" r="1.35" fill="none" stroke="#0d62ab" stroke-width="0.75"/>
<circle cx="320.50" cy="504.95" r="1.35" fill="none" stroke="#1a6fb8" stroke-width="0.65"/>
<circle cx="326.70" cy="504.95" r="1.35" fill="none" stroke="#1a6fb8" stroke-width="0.65"/>
<circle cx="202.30" cy="515.23" r="1.35" fill="none" stroke="#1a6fb8" stroke-width="0.65"/>
<circle cx="204.39" cy="515.23" r="1.35" fill="none" stroke="#1a6fb8" stroke-width="0.65"/>
<circle cx="206.48" cy="515.23" r="1.35" fill="none" stroke="#1a6fb8" stroke-width="0.65"/>
<circle cx="208.57" cy="515.23" r="1.35" fill="none" stroke="#1a6fb8" stroke-width="0.65"/>
<circle cx="210.66" cy="515.23" r="1.35" fill="none" stroke="#1a6fb8" stroke-width="0.65"/>
<circle cx="219.43" cy="515.23" r="1.35" fill="none" stroke="#1a6fb8" stroke-width="0.65"/>
<circle cx="221.52" cy="515.23" r="1.35" fill="none" stroke="#1a6fb8" stroke-width="0.65"/>
<circle cx="223.61" cy="515.23" r="1.35" fill="none" stroke="#1a6fb8" stroke-width="0.65"/>
<circle cx="225.70" cy="515.23" r="1.35" fill="none" stroke="#1a6fb8" stroke-width="0.65"/>
<circle cx="227.79" cy="515.23" r="1.35" fill="none" stroke="#1a6fb8" stroke-width="0.65"/>
<circle cx="236.55" cy="515.23" r="1.35" fill="none" stroke="#1a6fb8" stroke-width="0.65"/>
<circle cx="238.64" cy="515.23" r="1.35" fill="none" stroke="#1a6fb8" stroke-width="0.65"/>
<circle cx="240.73" cy="515.23" r="1.35" fill="none" stroke="#1a6fb8" stroke-width="0.65"/>
<circle cx="242.83" cy="515.23" r="1.35" fill="none" stroke="#1a6fb8" stroke-width="0.65"/>
<circle cx="244.92" cy="515.23" r="1.35" fill="none" stroke="#1a6fb8" stroke-width="0.65"/>
<circle cx="253.68" cy="515.23" r="1.35" fill="none" stroke="#1a6fb8" stroke-width="0.65"/>
<circle cx="255.77" cy="515.23" r="1.35" fill="none" stroke="#1a6fb8" stroke-width="0.65"/>
<circle cx="257.86" cy="515.23" r="1.35" fill="none" stroke="#1a6fb8" stroke-width="0.65"/>
<circle cx="259.95" cy="515.23" r="1.35" fill="none" stroke="#1a6fb8" stroke-width="0.65"/>
<circle cx="262.04" cy="515.23" r="1.35" fill="none" stroke="#1a6fb8" stroke-width="0.65"/>
<circle cx="304.50" cy="515.23" r="1.35" fill="none" stroke="#0d62ab" stroke-width="0.75"/>
<circle cx="305.78" cy="515.23" r="1.35" fill="none" stroke="#0d62ab" stroke-width="0.75"/>
<circle cx="307.06" cy="515.23" r="1.35" fill="none" stroke="#0d62ab" stroke-width="0.75"/>
<circle cx="308.34" cy="515.23" r="1.35" fill="none" stroke="#0d62ab" stroke-width="0.75"/>
<circle cx="309.62" cy="515.23" r="1.35" fill="none" stroke="#0d62ab" stroke-width="0.75"/>
<circle cx="310.90" cy="515.23" r="1.35" fill="none" stroke="#0d62ab" stroke-width="0.75"/>
<circle cx="320.50" cy="515.23" r="1.35" fill="none" stroke="#1a6fb8" stroke-width="0.65"/>
<circle cx="202.30" cy="525.51" r="1.35" fill="none" stroke="#1a6fb8" stroke-width="0.65"/>
<circle cx="204.39" cy="525.51" r="1.35" fill="none" stroke="#1a6fb8" stroke-width="0.65"/>
<circle cx="206.48" cy="525.51" r="1.35" fill="none" stroke="#1a6fb8" stroke-width="0.65"/>
<circle cx="208.57" cy="525.51" r="1.35" fill="none" stroke="#1a6fb8" stroke-width="0.65"/>
<circle cx="210.66" cy="525.51" r="1.35" fill="none" stroke="#1a6fb8" stroke-width="0.65"/>
<circle cx="219.43" cy="525.51" r="1.35" fill="none" stroke="#1a6fb8" stroke-width="0.65"/>
<circle cx="221.52" cy="525.51" r="1.35" fill="none" stroke="#1a6fb8" stroke-width="0.65"/>
<circle cx="223.61" cy="525.51" r="1.35" fill="none" stroke="#1a6fb8" stroke-width="0.65"/>
<circle cx="225.70" cy="525.51" r="1.35" fill="none" stroke="#1a6fb8" stroke-width="0.65"/>
<circle cx="227.79" cy="525.51" r="1.35" fill="none" stroke="#1a6fb8" stroke-width="0.65"/>
<circle cx="236.55" cy="525.51" r="1.35" fill="none" stroke="#1a6fb8" stroke-width="0.65"/>
<circle cx="238.64" cy="525.51" r="1.35" fill="none" stroke="#1a6fb8" stroke-width="0.65"/>
<circle cx="240.73" cy="525.51" r="1.35" fill="none" stroke="#1a6fb8" stroke-width="0.65"/>
<circle cx="242.83" cy="525.51" r="1.35" fill="none" stroke="#1a6fb8" stroke-width="0.65"/>
<circle cx="244.92" cy="525.51" r="1.35" fill="none" stroke="#1a6fb8" stroke-width="0.65"/>
<circle cx="253.68" cy="525.51" r="1.35" fill="none" stroke="#1a6fb8" stroke-width="0.65"/>
<circle cx="255.77" cy="525.51" r="1.35" fill="none" stroke="#1a6fb8" stroke-width="0.65"/>
<circle cx="257.86" cy="525.51" r="1.35" fill="none" stroke="#1a6fb8" stroke-width="0.65"/>
<circle cx="259.95" cy="525.51" r="1.35" fill="none" stroke="#1a6fb8" stroke-width="0.65"/>
<circle cx="262.04" cy="525.51" r="1.35" fill="none" stroke="#1a6fb8" stroke-width="0.65"/>
<circle cx="305.50" cy="525.51" r="1.35" fill="none" stroke="#1a6fb8" stroke-width="0.65"/>
<circle cx="310.00" cy="525.51" r="1.35" fill="none" stroke="#1a6fb8" stroke-width="0.65"/>
<circle cx="320.50" cy="525.51" r="1.35" fill="none" stroke="#1a6fb8" stroke-width="0.65"/>
<circle cx="202.30" cy="546.08" r="1.35" fill="none" stroke="#1a6fb8" stroke-width="0.65"/>
<circle cx="204.39" cy="546.08" r="1.35" fill="none" stroke="#1a6fb8" stroke-width="0.65"/>
<circle cx="206.48" cy="546.08" r="1.35" fill="none" stroke="#1a6fb8" stroke-width="0.65"/>
<circle cx="208.57" cy="546.08" r="1.35" fill="none" stroke="#1a6fb8" stroke-width="0.65"/>
<circle cx="210.66" cy="546.08" r="1.35" fill="none" stroke="#1a6fb8" stroke-width="0.65"/>
<circle cx="219.43" cy="546.08" r="1.35" fill="none" stroke="#1a6fb8" stroke-width="0.65"/>
<circle cx="221.52" cy="546.08" r="1.35" fill="none" stroke="#1a6fb8" stroke-width="0.65"/>
<circle cx="223.61" cy="546.08" r="1.35" fill="none" stroke="#1a6fb8" stroke-width="0.65"/>
<circle cx="225.70" cy="546.08" r="1.35" fill="none" stroke="#1a6fb8" stroke-width="0.65"/>
<circle cx="227.79" cy="546.08" r="1.35" fill="none" stroke="#1a6fb8" stroke-width="0.65"/>
<circle cx="236.55" cy="546.08" r="1.35" fill="none" stroke="#1a6fb8" stroke-width="0.65"/>
<circle cx="238.64" cy="546.08" r="1.35" fill="none" stroke="#1a6fb8" stroke-width="0.65"/>
<circle cx="240.73" cy="546.08" r="1.35" fill="none" stroke="#1a6fb8" stroke-width="0.65"/>
<circle cx="242.83" cy="546.08" r="1.35" fill="none" stroke="#1a6fb8" stroke-width="0.65"/>
<circle cx="244.92" cy="546.08" r="1.35" fill="none" stroke="#1a6fb8" stroke-width="0.65"/>
<circle cx="253.68" cy="546.08" r="1.35" fill="none" stroke="#1a6fb8" stroke-width="0.65"/>
<circle cx="255.77" cy="546.08" r="1.35" fill="none" stroke="#1a6fb8" stroke-width="0.65"/>
<circle cx="257.86" cy="546.08" r="1.35" fill="none" stroke="#1a6fb8" stroke-width="0.65"/>
<circle cx="259.95" cy="546.08" r="1.35" fill="none" stroke="#1a6fb8" stroke-width="0.65"/>
<circle cx="262.04" cy="546.08" r="1.35" fill="none" stroke="#1a6fb8" stroke-width="0.65"/>
<text x="199.10" y="424.99" font-family="Liberation Sans, sans-serif" font-size="5.0" font-weight="normal" fill="#555555" text-anchor="end">-46</text>
<text x="199.10" y="445.55" font-family="Liberation Sans, sans-serif" font-size="5.0" font-weight="normal" fill="#555555" text-anchor="end">-48</text>
<text x="199.10" y="466.12" font-family="Liberation Sans, sans-serif" font-size="5.0" font-weight="normal" fill="#555555" text-anchor="end">-50</text>
<text x="199.10" y="486.68" font-family="Liberation Sans, sans-serif" font-size="5.0" font-weight="normal" fill="#555555" text-anchor="end">-52</text>
<text x="199.10" y="507.25" font-family="Liberation Sans, sans-serif" font-size="5.0" font-weight="normal" fill="#555555" text-anchor="end">-54</text>
<text x="199.10" y="527.81" font-family="Liberation Sans, sans-serif" font-size="5.0" font-weight="normal" fill="#555555" text-anchor="end">-56</text>
<text x="199.10" y="548.38" font-family="Liberation Sans, sans-serif" font-size="5.0" font-weight="normal" fill="#555555" text-anchor="end">-58</text>
<text x="202.80" y="554.00" font-family="Liberation Sans, sans-serif" font-size="5.0" font-weight="normal" fill="#555555" text-anchor="middle">13:57</text>
<text x="219.70" y="554.00" font-family="Liberation Sans, sans-serif" font-size="5.0" font-weight="normal" fill="#555555" text-anchor="middle">13:58</text>
<text x="236.60" y="554.00" font-family="Liberation Sans, sans-serif" font-size="5.0" font-weight="normal" fill="#555555" text-anchor="middle">13:59</text>
<text x="253.50" y="554.00" font-family="Liberation Sans, sans-serif" font-size="5.0" font-weight="normal" fill="#555555" text-anchor="middle">14:00</text>
<text x="270.40" y="554.00" font-family="Liberation Sans, sans-serif" font-size="5.0" font-weight="normal" fill="#555555" text-anchor="middle">14:01</text>
<text x="287.30" y="554.00" font-family="Liberation Sans, sans-serif" font-size="5.0" font-weight="normal" fill="#555555" text-anchor="middle">14:02</text>
<text x="304.20" y="554.00" font-family="Liberation Sans, sans-serif" font-size="5.0" font-weight="normal" fill="#555555" text-anchor="middle">14:03</text>
<text x="321.10" y="554.00" font-family="Liberation Sans, sans-serif" font-size="5.0" font-weight="normal" fill="#555555" text-anchor="middle">14:04</text>
<text x="338.00" y="554.00" font-family="Liberation Sans, sans-serif" font-size="5.0" font-weight="normal" fill="#555555" text-anchor="middle">14:05</text>
<text x="354.90" y="554.00" font-family="Liberation Sans, sans-serif" font-size="5.0" font-weight="normal" fill="#555555" text-anchor="middle">14:06</text>
<text x="282.70" y="409.80" font-family="Liberation Sans, sans-serif" font-size="5.5" font-weight="bold" fill="#1a1a1a" text-anchor="middle" textLength="88.30" lengthAdjust="spacingAndGlyphs">Experiment 4 Tag 2 Room 2(RFID)</text>
<text x="189.40" y="479.50" font-family="Liberation Sans, sans-serif" font-size="5.0" font-weight="normal" fill="#555555" text-anchor="middle" transform="rotate(-90 189.40 479.50)">RSSI</text>
<text x="282.70" y="561.40" font-family="Liberation Sans, sans-serif" font-size="5.2" font-weight="normal" fill="#333333" text-anchor="middle">Time</text>
<text x="359.10" y="561.40" font-family="Liberation Sans, sans-serif" font-size="5.0" font-weight="normal" fill="#333333" text-anchor="end" textLength="29.00" lengthAdjust="spacingAndGlyphs">Oct 17, 2022</text>
<rect x="307.30" y="417.30" width="51.80" height="12.70" fill="#ffffff" stroke="#bdbdbd" stroke-width="0.5"/>
<rect x="309.10" y="418.50" width="14.20" height="4.80" fill="#5dcbf0"/>
<rect x="309.10" y="424.30" width="14.20" height="4.80" fill="#d75c62"/>
<text x="324.50" y="422.40" font-family="Liberation Sans, sans-serif" font-size="4.5" font-weight="normal" fill="#222" text-anchor="start" textLength="34.20" lengthAdjust="spacingAndGlyphs">Staying Detected</text>
<text x="324.50" y="428.20" font-family="Liberation Sans, sans-serif" font-size="4.5" font-weight="normal" fill="#222" text-anchor="start" textLength="25.50" lengthAdjust="spacingAndGlyphs">Not Detected</text>
<line x1="386.80" y1="431.46" x2="546.50" y2="431.46" stroke="#262626" stroke-width="0.7" stroke-opacity="0.09"/>
<line x1="386.80" y1="450.51" x2="546.50" y2="450.51" stroke="#262626" stroke-width="0.7" stroke-opacity="0.09"/>
<line x1="386.80" y1="469.57" x2="546.50" y2="469.57" stroke="#262626" stroke-width="0.7" stroke-opacity="0.09"/>
<line x1="386.80" y1="488.63" x2="546.50" y2="488.63" stroke="#262626" stroke-width="0.7" stroke-opacity="0.09"/>
<line x1="386.80" y1="507.69" x2="546.50" y2="507.69" stroke="#262626" stroke-width="0.7" stroke-opacity="0.09"/>
<line x1="386.80" y1="526.74" x2="546.50" y2="526.74" stroke="#262626" stroke-width="0.7" stroke-opacity="0.09"/>
<line x1="408.70" y1="412.40" x2="408.70" y2="545.80" stroke="#262626" stroke-width="0.7" stroke-opacity="0.1"/>
<line x1="444.20" y1="412.40" x2="444.20" y2="545.80" stroke="#262626" stroke-width="0.7" stroke-opacity="0.1"/>
<line x1="480.50" y1="412.40" x2="480.50" y2="545.80" stroke="#262626" stroke-width="0.7" stroke-opacity="0.1"/>
<line x1="516.00" y1="412.40" x2="516.00" y2="545.80" stroke="#262626" stroke-width="0.7" stroke-opacity="0.1"/>
<line x1="386.80" y1="488.50" x2="546.50" y2="488.50" stroke="#a0a0a0" stroke-width="0.85"/>
<text x="523.50" y="486.50" font-family="Liberation Sans, sans-serif" font-size="5.0" font-weight="normal" fill="#3a3a3a" text-anchor="start" textLength="21.60" lengthAdjust="spacingAndGlyphs">Threshold</text>
<polyline points="392.70,496.25 395.00,507.69 397.80,507.69 407.80,511.50 409.40,511.50 411.70,515.31 414.30,519.12 421.40,507.69 426.10,496.25 435.60,503.87 457.30,519.12 461.60,496.25 462.50,496.25 464.10,496.25 471.80,496.25 473.90,507.69 478.80,507.69 483.70,503.87 485.90,519.12 488.20,519.12 512.40,500.06 516.50,496.25 518.90,496.25 524.30,496.25 540.20,500.06 543.50,496.25" fill="none" stroke="#3450c8" stroke-width="0.6" stroke-linejoin="round"/>
<circle cx="392.70" cy="496.25" r="0.6" fill="#3450c8" stroke="#3450c8" stroke-width="0.5"/>
<circle cx="395.00" cy="507.69" r="0.6" fill="#3450c8" stroke="#3450c8" stroke-width="0.5"/>
<circle cx="397.80" cy="507.69" r="0.6" fill="#3450c8" stroke="#3450c8" stroke-width="0.5"/>
<circle cx="407.80" cy="511.50" r="0.6" fill="#3450c8" stroke="#3450c8" stroke-width="0.5"/>
<circle cx="409.40" cy="511.50" r="0.6" fill="#3450c8" stroke="#3450c8" stroke-width="0.5"/>
<circle cx="411.70" cy="515.31" r="0.6" fill="#3450c8" stroke="#3450c8" stroke-width="0.5"/>
<circle cx="414.30" cy="519.12" r="0.6" fill="#3450c8" stroke="#3450c8" stroke-width="0.5"/>
<circle cx="421.40" cy="507.69" r="0.6" fill="#3450c8" stroke="#3450c8" stroke-width="0.5"/>
<circle cx="426.10" cy="496.25" r="0.6" fill="#3450c8" stroke="#3450c8" stroke-width="0.5"/>
<circle cx="435.60" cy="503.87" r="0.6" fill="#3450c8" stroke="#3450c8" stroke-width="0.5"/>
<circle cx="457.30" cy="519.12" r="0.6" fill="#3450c8" stroke="#3450c8" stroke-width="0.5"/>
<circle cx="461.60" cy="496.25" r="0.6" fill="#3450c8" stroke="#3450c8" stroke-width="0.5"/>
<circle cx="462.50" cy="496.25" r="0.6" fill="#3450c8" stroke="#3450c8" stroke-width="0.5"/>
<circle cx="464.10" cy="496.25" r="0.6" fill="#3450c8" stroke="#3450c8" stroke-width="0.5"/>
<circle cx="471.80" cy="496.25" r="0.6" fill="#3450c8" stroke="#3450c8" stroke-width="0.5"/>
<circle cx="473.90" cy="507.69" r="0.6" fill="#3450c8" stroke="#3450c8" stroke-width="0.5"/>
<circle cx="478.80" cy="507.69" r="0.6" fill="#3450c8" stroke="#3450c8" stroke-width="0.5"/>
<circle cx="483.70" cy="503.87" r="0.6" fill="#3450c8" stroke="#3450c8" stroke-width="0.5"/>
<circle cx="485.90" cy="519.12" r="0.6" fill="#3450c8" stroke="#3450c8" stroke-width="0.5"/>
<circle cx="488.20" cy="519.12" r="0.6" fill="#3450c8" stroke="#3450c8" stroke-width="0.5"/>
<circle cx="512.40" cy="500.06" r="0.6" fill="#3450c8" stroke="#3450c8" stroke-width="0.5"/>
<circle cx="516.50" cy="496.25" r="0.6" fill="#3450c8" stroke="#3450c8" stroke-width="0.5"/>
<circle cx="518.90" cy="496.25" r="0.6" fill="#3450c8" stroke="#3450c8" stroke-width="0.5"/>
<circle cx="524.30" cy="496.25" r="0.6" fill="#3450c8" stroke="#3450c8" stroke-width="0.5"/>
<circle cx="540.20" cy="500.06" r="0.6" fill="#3450c8" stroke="#3450c8" stroke-width="0.5"/>
<circle cx="543.50" cy="496.25" r="0.6" fill="#3450c8" stroke="#3450c8" stroke-width="0.5"/>
<polyline points="390.50,427.65 393.10,465.76 400.10,477.19 402.90,492.44 404.70,496.25 411.70,420.02 414.80,458.14 416.80,481.01 419.40,507.69 421.70,492.44 424.40,484.82 431.00,458.14 433.80,458.14 436.00,473.38 440.70,503.87 443.10,492.44 445.70,461.95 448.00,454.33 454.00,469.57 457.30,496.25 460.10,469.57 466.90,458.14 469.50,481.01 471.80,492.44 474.40,496.25 481.30,477.19 483.70,473.38 486.20,484.82 488.60,530.55 490.80,507.69 493.60,515.31 496.00,496.25 498.50,496.25 500.90,469.57 502.90,477.19 509.90,496.25 512.40,503.87 517.00,484.82 524.20,473.38 526.80,500.06 538.90,519.12" fill="none" stroke="#f03a3a" stroke-width="0.6" stroke-linejoin="round"/>
<circle cx="390.50" cy="427.65" r="1.6" fill="none" stroke="#f03a3a" stroke-width="0.5"/>
<circle cx="393.10" cy="465.76" r="1.6" fill="none" stroke="#f03a3a" stroke-width="0.5"/>
<circle cx="400.10" cy="477.19" r="1.6" fill="none" stroke="#f03a3a" stroke-width="0.5"/>
<circle cx="402.90" cy="492.44" r="1.6" fill="none" stroke="#f03a3a" stroke-width="0.5"/>
<circle cx="404.70" cy="496.25" r="1.6" fill="none" stroke="#f03a3a" stroke-width="0.5"/>
<circle cx="411.70" cy="420.02" r="1.6" fill="none" stroke="#f03a3a" stroke-width="0.5"/>
<circle cx="414.80" cy="458.14" r="1.6" fill="none" stroke="#f03a3a" stroke-width="0.5"/>
<circle cx="416.80" cy="481.01" r="1.6" fill="none" stroke="#f03a3a" stroke-width="0.5"/>
<circle cx="419.40" cy="507.69" r="1.6" fill="none" stroke="#f03a3a" stroke-width="0.5"/>
<circle cx="421.70" cy="492.44" r="1.6" fill="none" stroke="#f03a3a" stroke-width="0.5"/>
<circle cx="424.40" cy="484.82" r="1.6" fill="none" stroke="#f03a3a" stroke-width="0.5"/>
<circle cx="431.00" cy="458.14" r="1.6" fill="none" stroke="#f03a3a" stroke-width="0.5"/>
<circle cx="433.80" cy="458.14" r="1.6" fill="none" stroke="#f03a3a" stroke-width="0.5"/>
<circle cx="436.00" cy="473.38" r="1.6" fill="none" stroke="#f03a3a" stroke-width="0.5"/>
<circle cx="440.70" cy="503.87" r="1.6" fill="none" stroke="#f03a3a" stroke-width="0.5"/>
<circle cx="443.10" cy="492.44" r="1.6" fill="none" stroke="#f03a3a" stroke-width="0.5"/>
<circle cx="445.70" cy="461.95" r="1.6" fill="none" stroke="#f03a3a" stroke-width="0.5"/>
<circle cx="448.00" cy="454.33" r="1.6" fill="none" stroke="#f03a3a" stroke-width="0.5"/>
<circle cx="454.00" cy="469.57" r="1.6" fill="none" stroke="#f03a3a" stroke-width="0.5"/>
<circle cx="457.30" cy="496.25" r="1.6" fill="none" stroke="#f03a3a" stroke-width="0.5"/>
<circle cx="460.10" cy="469.57" r="1.6" fill="none" stroke="#f03a3a" stroke-width="0.5"/>
<circle cx="466.90" cy="458.14" r="1.6" fill="none" stroke="#f03a3a" stroke-width="0.5"/>
<circle cx="469.50" cy="481.01" r="1.6" fill="none" stroke="#f03a3a" stroke-width="0.5"/>
<circle cx="471.80" cy="492.44" r="1.6" fill="none" stroke="#f03a3a" stroke-width="0.5"/>
<circle cx="474.40" cy="496.25" r="1.6" fill="none" stroke="#f03a3a" stroke-width="0.5"/>
<circle cx="481.30" cy="477.19" r="1.6" fill="none" stroke="#f03a3a" stroke-width="0.5"/>
<circle cx="483.70" cy="473.38" r="1.6" fill="none" stroke="#f03a3a" stroke-width="0.5"/>
<circle cx="486.20" cy="484.82" r="1.6" fill="none" stroke="#f03a3a" stroke-width="0.5"/>
<circle cx="488.60" cy="530.55" r="1.6" fill="none" stroke="#f03a3a" stroke-width="0.5"/>
<circle cx="490.80" cy="507.69" r="1.6" fill="none" stroke="#f03a3a" stroke-width="0.5"/>
<circle cx="493.60" cy="515.31" r="1.6" fill="none" stroke="#f03a3a" stroke-width="0.5"/>
<circle cx="496.00" cy="496.25" r="1.6" fill="none" stroke="#f03a3a" stroke-width="0.5"/>
<circle cx="498.50" cy="496.25" r="1.6" fill="none" stroke="#f03a3a" stroke-width="0.5"/>
<circle cx="500.90" cy="469.57" r="1.6" fill="none" stroke="#f03a3a" stroke-width="0.5"/>
<circle cx="502.90" cy="477.19" r="1.6" fill="none" stroke="#f03a3a" stroke-width="0.5"/>
<circle cx="509.90" cy="496.25" r="1.6" fill="none" stroke="#f03a3a" stroke-width="0.5"/>
<circle cx="512.40" cy="503.87" r="1.6" fill="none" stroke="#f03a3a" stroke-width="0.5"/>
<circle cx="517.00" cy="484.82" r="1.6" fill="none" stroke="#f03a3a" stroke-width="0.5"/>
<circle cx="524.20" cy="473.38" r="1.6" fill="none" stroke="#f03a3a" stroke-width="0.5"/>
<circle cx="526.80" cy="500.06" r="1.6" fill="none" stroke="#f03a3a" stroke-width="0.5"/>
<circle cx="538.90" cy="519.12" r="1.6" fill="none" stroke="#f03a3a" stroke-width="0.5"/>
<line x1="386.80" y1="412.40" x2="546.50" y2="412.40" stroke="#bcbcbc" stroke-width="0.7"/>
<line x1="546.50" y1="412.40" x2="546.50" y2="545.80" stroke="#bcbcbc" stroke-width="0.7"/>
<line x1="386.80" y1="412.40" x2="386.80" y2="545.80" stroke="#858585" stroke-width="0.8"/>
<line x1="386.80" y1="545.80" x2="546.50" y2="545.80" stroke="#858585" stroke-width="0.8"/>
<line x1="408.70" y1="545.80" x2="408.70" y2="544.60" stroke="#5a5a5a" stroke-width="0.4"/>
<line x1="444.20" y1="545.80" x2="444.20" y2="544.60" stroke="#5a5a5a" stroke-width="0.4"/>
<line x1="480.50" y1="545.80" x2="480.50" y2="544.60" stroke="#5a5a5a" stroke-width="0.4"/>
<line x1="516.00" y1="545.80" x2="516.00" y2="544.60" stroke="#5a5a5a" stroke-width="0.4"/>
<line x1="386.80" y1="412.40" x2="388.00" y2="412.40" stroke="#5a5a5a" stroke-width="0.4"/>
<line x1="386.80" y1="431.46" x2="388.00" y2="431.46" stroke="#5a5a5a" stroke-width="0.4"/>
<line x1="386.80" y1="450.51" x2="388.00" y2="450.51" stroke="#5a5a5a" stroke-width="0.4"/>
<line x1="386.80" y1="469.57" x2="388.00" y2="469.57" stroke="#5a5a5a" stroke-width="0.4"/>
<line x1="386.80" y1="488.63" x2="388.00" y2="488.63" stroke="#5a5a5a" stroke-width="0.4"/>
<line x1="386.80" y1="507.69" x2="388.00" y2="507.69" stroke="#5a5a5a" stroke-width="0.4"/>
<line x1="386.80" y1="526.74" x2="388.00" y2="526.74" stroke="#5a5a5a" stroke-width="0.4"/>
<line x1="386.80" y1="545.80" x2="388.00" y2="545.80" stroke="#5a5a5a" stroke-width="0.4"/>
<text x="384.60" y="414.70" font-family="Liberation Sans, sans-serif" font-size="5.0" font-weight="normal" fill="#555555" text-anchor="end">-65</text>
<text x="384.60" y="433.76" font-family="Liberation Sans, sans-serif" font-size="5.0" font-weight="normal" fill="#555555" text-anchor="end">-70</text>
<text x="384.60" y="452.81" font-family="Liberation Sans, sans-serif" font-size="5.0" font-weight="normal" fill="#555555" text-anchor="end">-75</text>
<text x="384.60" y="471.87" font-family="Liberation Sans, sans-serif" font-size="5.0" font-weight="normal" fill="#555555" text-anchor="end">-80</text>
<text x="384.60" y="490.93" font-family="Liberation Sans, sans-serif" font-size="5.0" font-weight="normal" fill="#555555" text-anchor="end">-85</text>
<text x="384.60" y="509.99" font-family="Liberation Sans, sans-serif" font-size="5.0" font-weight="normal" fill="#555555" text-anchor="end">-90</text>
<text x="384.60" y="529.04" font-family="Liberation Sans, sans-serif" font-size="5.0" font-weight="normal" fill="#555555" text-anchor="end">-95</text>
<text x="384.60" y="548.10" font-family="Liberation Sans, sans-serif" font-size="5.0" font-weight="normal" fill="#555555" text-anchor="end">-100</text>
<text x="408.70" y="554.00" font-family="Liberation Sans, sans-serif" font-size="5.0" font-weight="normal" fill="#555555" text-anchor="middle">13:58:00</text>
<text x="444.20" y="554.00" font-family="Liberation Sans, sans-serif" font-size="5.0" font-weight="normal" fill="#555555" text-anchor="middle">14:00:00</text>
<text x="480.50" y="554.00" font-family="Liberation Sans, sans-serif" font-size="5.0" font-weight="normal" fill="#555555" text-anchor="middle">14:02:00</text>
<text x="516.00" y="554.00" font-family="Liberation Sans, sans-serif" font-size="5.0" font-weight="normal" fill="#555555" text-anchor="middle">14:04:00</text>
<text x="466.60" y="409.90" font-family="Liberation Sans, sans-serif" font-size="5.5" font-weight="bold" fill="#1a1a1a" text-anchor="middle" textLength="71.00" lengthAdjust="spacingAndGlyphs">Experiment 4 Room 2 (BLE)</text>
<text x="371.60" y="479.10" font-family="Liberation Sans, sans-serif" font-size="5.0" font-weight="normal" fill="#555555" text-anchor="middle" transform="rotate(-90 371.60 479.10)">RSSI</text>
<text x="467.20" y="560.80" font-family="Liberation Sans, sans-serif" font-size="5.2" font-weight="normal" fill="#333333" text-anchor="middle">Time</text>
<rect x="513.20" y="416.80" width="30.30" height="13.60" fill="#ffffff" stroke="#bdbdbd" stroke-width="0.5"/>
<line x1="514.80" y1="420.50" x2="528.70" y2="420.50" stroke="#3450c8" stroke-width="0.6"/>
<circle cx="521.70" cy="420.50" r="0.6" fill="#3450c8" stroke="#3450c8" stroke-width="0.5"/>
<line x1="514.80" y1="426.60" x2="528.70" y2="426.60" stroke="#f03a3a" stroke-width="0.6"/>
<circle cx="521.70" cy="426.60" r="1.6" fill="none" stroke="#f03a3a" stroke-width="0.5"/>
<text x="531.20" y="422.20" font-family="Liberation Sans, sans-serif" font-size="4.5" font-weight="normal" fill="#222" text-anchor="start" textLength="10.00" lengthAdjust="spacingAndGlyphs">Tag1</text>
<text x="531.20" y="428.30" font-family="Liberation Sans, sans-serif" font-size="4.5" font-weight="normal" fill="#222" text-anchor="start" textLength="10.00" lengthAdjust="spacingAndGlyphs">Tag2</text>
</svg>
</body></html>
